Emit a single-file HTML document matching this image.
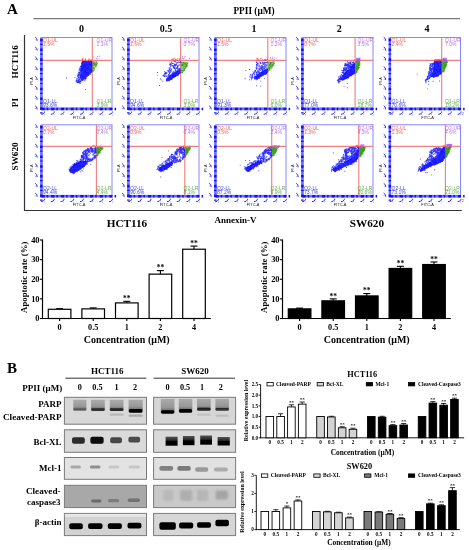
<!DOCTYPE html>
<html><head><meta charset="utf-8"><title>Figure</title>
<style>html,body{margin:0;padding:0;background:#fff;}body{width:469px;height:550px;overflow:hidden;}svg{display:block;}</style>
</head><body>
<svg width="469" height="550" viewBox="0 0 469 550">
<rect x="0" y="0" width="469" height="550" fill="#fff"/>
<text x="7" y="14" font-size="15" text-anchor="start" font-weight="bold" font-family="'Liberation Serif','Times New Roman',serif" fill="#000" >A</text>
<line x1="33.5" y1="18.7" x2="460" y2="18.7" stroke="#7a7a7a" stroke-width="1.3" />
<text x="254" y="13.6" font-size="9.3" text-anchor="middle" font-weight="bold" font-family="'Liberation Serif','Times New Roman',serif" fill="#000" >PPII (μM)</text>
<text x="81.6" y="31.6" font-size="10" text-anchor="middle" font-weight="bold" font-family="'Liberation Serif','Times New Roman',serif" fill="#000" >0</text>
<text x="166" y="31.6" font-size="10" text-anchor="middle" font-weight="bold" font-family="'Liberation Serif','Times New Roman',serif" fill="#000" >0.5</text>
<text x="254" y="31.6" font-size="10" text-anchor="middle" font-weight="bold" font-family="'Liberation Serif','Times New Roman',serif" fill="#000" >1</text>
<text x="339.3" y="31.6" font-size="10" text-anchor="middle" font-weight="bold" font-family="'Liberation Serif','Times New Roman',serif" fill="#000" >2</text>
<text x="427" y="31.6" font-size="10" text-anchor="middle" font-weight="bold" font-family="'Liberation Serif','Times New Roman',serif" fill="#000" >4</text>
<line x1="24.5" y1="35" x2="24.5" y2="210.5" stroke="#333" stroke-width="1.2" />
<line x1="24" y1="210.5" x2="461.8" y2="210.5" stroke="#333" stroke-width="1.2" />
<text transform="translate(17.9,61.8) rotate(-90)" x="0" y="0" font-size="9.2" text-anchor="middle" font-weight="bold" font-family="'Liberation Serif','Times New Roman',serif" fill="#000">HCT116</text>
<text transform="translate(17.9,102.6) rotate(-90)" x="0" y="0" font-size="9.2" text-anchor="middle" font-weight="bold" font-family="'Liberation Serif','Times New Roman',serif" fill="#000">PI</text>
<text transform="translate(17.9,156.4) rotate(-90)" x="0" y="0" font-size="9.2" text-anchor="middle" font-weight="bold" font-family="'Liberation Serif','Times New Roman',serif" fill="#000">SW620</text>
<text x="235.4" y="222.9" font-size="9" text-anchor="middle" font-weight="bold" font-family="'Liberation Serif','Times New Roman',serif" fill="#000" >Annexin-V</text>
<defs><filter id="fb" x="-20%" y="-20%" width="140%" height="140%"><feGaussianBlur stdDeviation="0.45"/></filter><filter id="fb2" x="-20%" y="-20%" width="140%" height="140%"><feGaussianBlur stdDeviation="0.9"/></filter></defs>
<g transform="translate(42,37.5)">
<rect x="0.00" y="0.00" width="70.00" height="70.50" fill="none" stroke="#7a7aff" stroke-width="0.9" />
<line x1="50.3" y1="0" x2="50.3" y2="70.5" stroke="#f28080" stroke-width="1.15" />
<line x1="0" y1="22.9" x2="70" y2="22.9" stroke="#f28080" stroke-width="1.15" />
<polygon points="39.8,23.4 50.3,23.4 50.3,34.5 47.2,37.5 43.0,41.5 40.0,43.2 38.3,41.5 38.4,35.0 38.8,29.0" fill="#0a0aff" opacity="0.88" filter="url(#fb)"/>
<path d="M37.7 29.3h0.85v0.85h-0.85zM36.9 34.4h0.85v0.85h-0.85zM36.2 42.6h0.85v0.85h-0.85zM37.5 44.7h0.85v0.85h-0.85zM37.2 35.0h0.85v0.85h-0.85zM35.4 42.4h0.85v0.85h-0.85zM37.6 34.6h0.85v0.85h-0.85zM37.9 35.5h0.85v0.85h-0.85zM35.5 38.3h0.85v0.85h-0.85zM35.0 38.1h0.85v0.85h-0.85zM36.9 43.4h0.85v0.85h-0.85zM38.2 33.1h0.85v0.85h-0.85zM36.2 41.3h0.85v0.85h-0.85zM38.0 38.5h0.85v0.85h-0.85zM37.2 36.0h0.85v0.85h-0.85zM36.5 39.7h0.85v0.85h-0.85zM35.9 39.8h0.85v0.85h-0.85zM36.0 43.3h0.85v0.85h-0.85zM37.0 43.5h0.85v0.85h-0.85zM38.8 43.2h0.85v0.85h-0.85zM35.8 43.6h0.85v0.85h-0.85zM37.3 32.6h0.85v0.85h-0.85zM35.8 38.0h0.85v0.85h-0.85zM36.8 38.9h0.85v0.85h-0.85zM37.9 29.0h0.85v0.85h-0.85zM36.0 35.0h0.85v0.85h-0.85zM33.6 43.4h0.85v0.85h-0.85zM37.5 30.6h0.85v0.85h-0.85zM36.5 36.5h0.85v0.85h-0.85zM36.9 45.2h0.85v0.85h-0.85zM34.5 41.6h0.85v0.85h-0.85zM36.9 41.7h0.85v0.85h-0.85zM35.1 40.2h0.85v0.85h-0.85zM37.5 43.8h0.85v0.85h-0.85zM37.7 42.1h0.85v0.85h-0.85zM38.4 36.4h0.85v0.85h-0.85zM34.6 41.9h0.85v0.85h-0.85zM35.6 42.1h0.85v0.85h-0.85zM36.0 44.7h0.85v0.85h-0.85zM38.2 31.0h0.85v0.85h-0.85zM34.4 42.5h0.85v0.85h-0.85zM35.7 37.7h0.85v0.85h-0.85zM36.9 44.4h0.85v0.85h-0.85zM36.3 43.3h0.85v0.85h-0.85zM35.0 38.3h0.85v0.85h-0.85zM34.3 44.0h0.85v0.85h-0.85zM35.7 36.1h0.85v0.85h-0.85zM37.3 43.9h0.85v0.85h-0.85zM36.2 44.2h0.85v0.85h-0.85zM36.7 37.4h0.85v0.85h-0.85zM38.2 37.8h0.85v0.85h-0.85zM35.6 37.1h0.85v0.85h-0.85zM37.1 41.8h0.85v0.85h-0.85zM37.1 41.4h0.85v0.85h-0.85zM37.4 36.9h0.85v0.85h-0.85zM36.8 40.2h0.85v0.85h-0.85zM36.4 37.4h0.85v0.85h-0.85zM36.6 44.6h0.85v0.85h-0.85zM38.0 43.4h0.85v0.85h-0.85zM37.1 44.6h0.85v0.85h-0.85zM38.6 43.8h0.85v0.85h-0.85zM34.4 40.6h0.85v0.85h-0.85zM37.8 30.5h0.85v0.85h-0.85zM34.8 44.8h0.85v0.85h-0.85zM36.0 36.6h0.85v0.85h-0.85zM36.8 34.0h0.85v0.85h-0.85zM38.2 28.3h0.85v0.85h-0.85zM37.1 35.8h0.85v0.85h-0.85zM37.5 37.0h0.85v0.85h-0.85zM36.2 44.0h0.85v0.85h-0.85zM34.4 44.2h0.85v0.85h-0.85zM37.2 40.3h0.85v0.85h-0.85zM37.9 35.5h0.85v0.85h-0.85zM37.6 42.1h0.85v0.85h-0.85zM34.0 43.1h0.85v0.85h-0.85zM33.8 43.2h0.85v0.85h-0.85zM36.4 34.0h0.85v0.85h-0.85zM37.1 44.3h0.85v0.85h-0.85zM36.9 32.2h0.85v0.85h-0.85zM38.4 33.1h0.85v0.85h-0.85zM38.2 37.7h0.85v0.85h-0.85zM36.7 42.7h0.85v0.85h-0.85zM36.0 36.9h0.85v0.85h-0.85zM37.9 45.3h0.85v0.85h-0.85zM35.7 42.6h0.85v0.85h-0.85zM38.1 39.2h0.85v0.85h-0.85zM34.0 42.8h0.85v0.85h-0.85zM35.1 44.9h0.85v0.85h-0.85zM35.0 45.0h0.85v0.85h-0.85zM36.5 36.8h0.85v0.85h-0.85zM37.3 37.3h0.85v0.85h-0.85zM38.1 43.5h0.85v0.85h-0.85zM38.2 39.3h0.85v0.85h-0.85zM33.7 42.7h0.85v0.85h-0.85zM38.2 42.3h0.85v0.85h-0.85zM36.7 42.7h0.85v0.85h-0.85zM38.7 42.5h0.85v0.85h-0.85zM37.3 43.7h0.85v0.85h-0.85zM37.9 40.2h0.85v0.85h-0.85zM34.1 42.7h0.85v0.85h-0.85zM37.1 39.0h0.85v0.85h-0.85zM37.5 40.0h0.85v0.85h-0.85zM36.7 37.4h0.85v0.85h-0.85zM37.8 29.2h0.85v0.85h-0.85zM38.3 32.4h0.85v0.85h-0.85zM38.2 31.6h0.85v0.85h-0.85zM36.7 34.7h0.85v0.85h-0.85zM36.6 40.0h0.85v0.85h-0.85zM37.6 29.4h0.85v0.85h-0.85zM38.3 33.4h0.85v0.85h-0.85zM37.8 40.2h0.85v0.85h-0.85zM37.9 33.1h0.85v0.85h-0.85zM36.8 36.2h0.85v0.85h-0.85zM34.8 44.6h0.85v0.85h-0.85zM34.8 38.2h0.85v0.85h-0.85zM34.9 43.8h0.85v0.85h-0.85zM35.5 42.8h0.85v0.85h-0.85zM35.8 35.5h0.85v0.85h-0.85zM34.1 42.7h0.85v0.85h-0.85zM35.3 44.5h0.85v0.85h-0.85zM40.7 28.1h0.85v0.85h-0.85zM44.5 26.4h0.85v0.85h-0.85zM47.6 32.2h0.85v0.85h-0.85zM47.9 36.5h0.85v0.85h-0.85zM43.9 29.8h0.85v0.85h-0.85zM41.4 38.6h0.85v0.85h-0.85zM46.5 28.9h0.85v0.85h-0.85zM45.1 31.0h0.85v0.85h-0.85zM39.5 25.8h0.85v0.85h-0.85zM40.1 42.3h0.85v0.85h-0.85zM44.3 27.1h0.85v0.85h-0.85zM43.6 25.3h0.85v0.85h-0.85zM39.9 24.2h0.85v0.85h-0.85zM42.0 24.2h0.85v0.85h-0.85zM40.5 27.9h0.85v0.85h-0.85zM47.9 31.4h0.85v0.85h-0.85zM43.1 33.8h0.85v0.85h-0.85zM42.5 29.7h0.85v0.85h-0.85zM44.3 36.2h0.85v0.85h-0.85zM49.5 27.0h0.85v0.85h-0.85zM41.0 27.7h0.85v0.85h-0.85zM42.9 32.1h0.85v0.85h-0.85zM50.0 32.7h0.85v0.85h-0.85zM44.6 37.3h0.85v0.85h-0.85zM43.7 34.4h0.85v0.85h-0.85zM40.4 42.6h0.85v0.85h-0.85zM46.4 28.9h0.85v0.85h-0.85zM46.3 37.7h0.85v0.85h-0.85zM44.7 35.1h0.85v0.85h-0.85zM42.7 27.2h0.85v0.85h-0.85zM41.4 32.4h0.85v0.85h-0.85zM49.8 32.8h0.85v0.85h-0.85zM40.5 27.7h0.85v0.85h-0.85zM44.3 37.2h0.85v0.85h-0.85zM43.1 27.9h0.85v0.85h-0.85zM42.0 31.5h0.85v0.85h-0.85zM46.9 26.6h0.85v0.85h-0.85zM44.4 26.8h0.85v0.85h-0.85zM48.9 27.3h0.85v0.85h-0.85zM40.3 39.1h0.85v0.85h-0.85zM44.2 26.4h0.85v0.85h-0.85zM40.3 31.5h0.85v0.85h-0.85zM39.2 30.9h0.85v0.85h-0.85zM46.7 30.6h0.85v0.85h-0.85zM42.5 29.6h0.85v0.85h-0.85zM41.1 30.0h0.85v0.85h-0.85zM42.2 40.4h0.85v0.85h-0.85zM48.9 31.8h0.85v0.85h-0.85zM39.9 30.3h0.85v0.85h-0.85zM43.0 40.2h0.85v0.85h-0.85zM42.0 28.2h0.85v0.85h-0.85zM40.9 38.1h0.85v0.85h-0.85zM41.7 28.3h0.85v0.85h-0.85zM40.5 32.7h0.85v0.85h-0.85zM42.7 27.8h0.85v0.85h-0.85zM43.3 33.2h0.85v0.85h-0.85zM45.8 29.5h0.85v0.85h-0.85zM41.7 30.2h0.85v0.85h-0.85zM48.4 24.0h0.85v0.85h-0.85zM39.9 38.9h0.85v0.85h-0.85zM40.7 23.6h0.85v0.85h-0.85zM40.9 24.1h0.85v0.85h-0.85zM47.3 32.1h0.85v0.85h-0.85zM40.5 31.5h0.85v0.85h-0.85zM46.0 37.2h0.85v0.85h-0.85zM46.7 24.9h0.85v0.85h-0.85zM49.2 28.7h0.85v0.85h-0.85zM45.3 30.5h0.85v0.85h-0.85zM47.7 26.6h0.85v0.85h-0.85zM40.7 27.6h0.85v0.85h-0.85zM39.3 41.8h0.85v0.85h-0.85zM45.4 29.4h0.85v0.85h-0.85zM44.4 27.3h0.85v0.85h-0.85zM43.9 40.4h0.85v0.85h-0.85zM49.6 32.2h0.85v0.85h-0.85zM40.8 39.5h0.85v0.85h-0.85zM45.7 36.0h0.85v0.85h-0.85zM40.2 30.4h0.85v0.85h-0.85zM40.8 35.5h0.85v0.85h-0.85zM46.5 26.7h0.85v0.85h-0.85zM46.9 26.3h0.85v0.85h-0.85zM41.6 26.7h0.85v0.85h-0.85zM48.6 34.4h0.85v0.85h-0.85zM42.8 34.4h0.85v0.85h-0.85zM46.3 24.2h0.85v0.85h-0.85zM39.5 37.6h0.85v0.85h-0.85zM43.0 28.5h0.85v0.85h-0.85zM41.6 34.8h0.85v0.85h-0.85zM42.2 31.4h0.85v0.85h-0.85zM42.3 26.6h0.85v0.85h-0.85zM47.6 26.7h0.85v0.85h-0.85zM43.2 40.4h0.85v0.85h-0.85zM43.7 25.8h0.85v0.85h-0.85zM42.4 33.4h0.85v0.85h-0.85zM39.2 28.5h0.85v0.85h-0.85zM38.7 33.1h0.85v0.85h-0.85zM39.9 25.0h0.85v0.85h-0.85zM49.0 25.8h0.85v0.85h-0.85zM48.4 27.1h0.85v0.85h-0.85zM42.9 41.0h0.85v0.85h-0.85zM49.0 26.3h0.85v0.85h-0.85zM40.2 31.1h0.85v0.85h-0.85zM44.6 30.7h0.85v0.85h-0.85zM49.2 24.8h0.85v0.85h-0.85zM45.7 34.4h0.85v0.85h-0.85zM46.1 29.0h0.85v0.85h-0.85zM43.1 35.1h0.85v0.85h-0.85zM43.2 36.8h0.85v0.85h-0.85zM43.5 31.9h0.85v0.85h-0.85zM44.1 27.4h0.85v0.85h-0.85zM43.7 26.2h0.85v0.85h-0.85zM43.9 24.6h0.85v0.85h-0.85zM41.9 42.9h0.85v0.85h-0.85zM42.8 42.1h0.85v0.85h-0.85zM36.3 39.4h0.85v0.85h-0.85zM36.4 38.1h0.85v0.85h-0.85zM36.9 31.7h0.85v0.85h-0.85zM36.0 39.4h0.85v0.85h-0.85zM32.5 39.4h0.85v0.85h-0.85zM40.7 38.8h0.85v0.85h-0.85zM49.3 27.8h0.85v0.85h-0.85zM36.7 31.3h0.85v0.85h-0.85zM43.2 51.4h0.85v0.85h-0.85zM24.1 40.1h0.85v0.85h-0.85zM40.7 38.1h0.85v0.85h-0.85zM40.9 29.4h0.85v0.85h-0.85zM42.5 41.2h0.85v0.85h-0.85zM38.0 36.9h0.85v0.85h-0.85z" fill="#0a0aff" opacity="0.85"/>
<polygon points="50.5,23.6 55.5,23.9 54.9,27.1 52.3,32.2 50.5,34.8" fill="#4aa02a" opacity="0.55"/>
<path d="M54.6 25.2h0.8v0.8h-0.8zM51.5 26.5h0.8v0.8h-0.8zM53.0 27.2h0.8v0.8h-0.8zM50.7 25.6h0.8v0.8h-0.8zM51.3 32.4h0.8v0.8h-0.8zM51.1 29.5h0.8v0.8h-0.8zM53.7 27.6h0.8v0.8h-0.8zM53.6 28.0h0.8v0.8h-0.8zM54.5 26.6h0.8v0.8h-0.8zM52.3 32.2h0.8v0.8h-0.8zM52.7 25.6h0.8v0.8h-0.8zM54.2 24.1h0.8v0.8h-0.8zM54.6 26.4h0.8v0.8h-0.8zM50.7 25.3h0.8v0.8h-0.8zM53.6 28.4h0.8v0.8h-0.8zM51.2 26.1h0.8v0.8h-0.8zM53.8 23.8h0.8v0.8h-0.8zM50.5 27.6h0.8v0.8h-0.8zM51.0 27.6h0.8v0.8h-0.8zM51.6 30.1h0.8v0.8h-0.8zM53.4 25.9h0.8v0.8h-0.8zM53.6 28.9h0.8v0.8h-0.8zM51.7 25.3h0.8v0.8h-0.8zM51.0 30.7h0.8v0.8h-0.8zM52.5 26.6h0.8v0.8h-0.8zM50.6 30.8h0.8v0.8h-0.8zM53.3 27.5h0.8v0.8h-0.8zM53.7 28.6h0.8v0.8h-0.8zM50.7 29.6h0.8v0.8h-0.8zM52.5 26.3h0.8v0.8h-0.8zM50.8 32.3h0.8v0.8h-0.8zM50.6 29.8h0.8v0.8h-0.8zM55.2 25.2h0.8v0.8h-0.8zM51.5 30.4h0.8v0.8h-0.8zM54.6 25.6h0.8v0.8h-0.8zM52.0 27.0h0.8v0.8h-0.8zM50.7 33.6h0.8v0.8h-0.8zM50.5 33.1h0.8v0.8h-0.8zM51.6 24.8h0.8v0.8h-0.8zM51.7 24.0h0.8v0.8h-0.8zM52.2 32.0h0.8v0.8h-0.8zM54.1 26.6h0.8v0.8h-0.8zM53.3 28.5h0.8v0.8h-0.8zM51.8 30.8h0.8v0.8h-0.8zM51.8 26.2h0.8v0.8h-0.8zM54.2 27.3h0.8v0.8h-0.8zM53.4 27.0h0.8v0.8h-0.8zM51.6 30.6h0.8v0.8h-0.8zM50.9 33.8h0.8v0.8h-0.8zM51.2 23.9h0.8v0.8h-0.8z" fill="#2c9a10" opacity="0.9"/>
<path d="M40.6 22.8h0.8v0.8h-0.8zM43.1 20.9h0.8v0.8h-0.8zM39.8 20.7h0.8v0.8h-0.8zM46.6 22.1h0.8v0.8h-0.8zM46.7 22.4h0.8v0.8h-0.8zM40.2 22.0h0.8v0.8h-0.8zM43.2 22.6h0.8v0.8h-0.8zM47.9 22.7h0.8v0.8h-0.8zM40.2 22.7h0.8v0.8h-0.8zM48.9 22.9h0.8v0.8h-0.8zM40.6 21.1h0.8v0.8h-0.8zM40.7 20.7h0.8v0.8h-0.8zM48.2 22.5h0.8v0.8h-0.8zM46.0 22.6h0.8v0.8h-0.8zM46.0 21.3h0.8v0.8h-0.8zM40.5 20.8h0.8v0.8h-0.8zM47.3 21.1h0.8v0.8h-0.8zM42.8 21.6h0.8v0.8h-0.8zM39.7 21.2h0.8v0.8h-0.8zM42.4 22.3h0.8v0.8h-0.8zM43.3 21.4h0.8v0.8h-0.8zM49.4 21.8h0.8v0.8h-0.8zM48.3 22.1h0.8v0.8h-0.8zM39.8 21.6h0.8v0.8h-0.8z" fill="#ff2a2a" opacity="0.75"/>
<path d="M54.3 20.5h0.8v0.8h-0.8zM53.8 20.3h0.8v0.8h-0.8zM55.0 18.6h0.8v0.8h-0.8zM57.1 18.1h0.8v0.8h-0.8zM56.8 18.4h0.8v0.8h-0.8zM51.5 18.5h0.8v0.8h-0.8zM56.5 21.2h0.8v0.8h-0.8zM51.5 19.5h0.8v0.8h-0.8zM54.7 20.6h0.8v0.8h-0.8z" fill="#a040f0" opacity="0.75"/>
<rect x="-1.90" y="0.00" width="2.50" height="72.00" fill="#6c6cff" stroke="none" stroke-width="0" />
<rect x="-1.20" y="70.20" width="71.20" height="2.50" fill="#6c6cff" stroke="none" stroke-width="0" />
<path d="M-1.9 1.2h2.5v2.6h-2.5zM-1.9 6.2h2.5v1.2h-2.5zM-1.9 11.0h2.5v2.6h-2.5zM-1.9 16.0h2.5v1.2h-2.5zM-1.9 20.8h2.5v2.6h-2.5zM-1.9 25.8h2.5v1.2h-2.5zM-1.9 30.6h2.5v2.6h-2.5zM-1.9 35.6h2.5v1.2h-2.5zM-1.9 40.4h2.5v2.6h-2.5zM-1.9 45.4h2.5v1.2h-2.5zM-1.9 50.2h2.5v2.6h-2.5zM-1.9 55.2h2.5v1.2h-2.5zM-1.9 60.0h2.5v2.6h-2.5zM-1.9 65.0h2.5v1.2h-2.5zM-1.9 69.8h2.5v2.6h-2.5zM-1.9 74.8h2.5v1.2h-2.5zM-0.5 70.2h3.2v2.5h-3.2zM4.7 70.2h1.5v2.5h-1.5zM9.2 70.2h3.2v2.5h-3.2zM14.4 70.2h1.5v2.5h-1.5zM18.9 70.2h3.2v2.5h-3.2zM24.1 70.2h1.5v2.5h-1.5zM28.6 70.2h3.2v2.5h-3.2zM33.8 70.2h1.5v2.5h-1.5zM38.3 70.2h3.2v2.5h-3.2zM43.5 70.2h1.5v2.5h-1.5zM48.0 70.2h3.2v2.5h-3.2zM53.2 70.2h1.5v2.5h-1.5zM57.7 70.2h3.2v2.5h-3.2zM62.9 70.2h1.5v2.5h-1.5zM67.4 70.2h3.2v2.5h-3.2zM72.6 70.2h1.5v2.5h-1.5z" fill="#1010ff"/>
<path d="M-6.8 -0.3l1.5 1.3l0.5 2.3M-6.6 2.3l0.3 0.4 M-6.8 9.5l1.5 1.3l0.5 2.3M-6.6 12.1l0.3 0.4 M-6.8 19.3l1.5 1.3l0.5 2.3M-6.6 21.9l0.3 0.4 M-6.8 29.1l1.5 1.3l0.5 2.3M-6.6 31.7l0.3 0.4 M-6.8 38.9l1.5 1.3l0.5 2.3M-6.6 41.5l0.3 0.4 M-6.8 48.7l1.5 1.3l0.5 2.3M-6.6 51.3l0.3 0.4 M-6.8 58.5l1.5 1.3l0.5 2.3M-6.6 61.1l0.3 0.4 M-6.8 68.3l1.5 1.3l0.5 2.3M-6.6 70.9l0.3 0.4 M-0.8 76.8l1.8-0.3l1.4-1.4l0.2-1.1M2.1 77.1l0.4 0.2 M8.9 76.8l1.8-0.3l1.4-1.4l0.2-1.1M11.8 77.1l0.4 0.2 M18.6 76.8l1.8-0.3l1.4-1.4l0.2-1.1M21.5 77.1l0.4 0.2 M28.3 76.8l1.8-0.3l1.4-1.4l0.2-1.1M31.2 77.1l0.4 0.2 M38.0 76.8l1.8-0.3l1.4-1.4l0.2-1.1M40.9 77.1l0.4 0.2 M47.7 76.8l1.8-0.3l1.4-1.4l0.2-1.1M50.6 77.1l0.4 0.2 M57.4 76.8l1.8-0.3l1.4-1.4l0.2-1.1M60.3 77.1l0.4 0.2 M67.1 76.8l1.8-0.3l1.4-1.4l0.2-1.1M70.0 77.1l0.4 0.2" fill="none" stroke="#2a2af0" stroke-width="1.0"/>
<text transform="translate(-8.6,43.4) rotate(-90)" font-size="3.9" font-family="'Liberation Sans',Arial,sans-serif" fill="#222" text-anchor="middle">PI-A</text>
<text x="37.1" y="81.1" font-size="3.9" font-family="'Liberation Sans',Arial,sans-serif" fill="#222" text-anchor="middle">FITC-A</text>
<text transform="translate(1.0,4.7) scale(1.12,1)" font-size="4.5" font-family="'Liberation Sans',Arial,sans-serif" fill="#f04848" opacity="0.85">Q1-UL</text>
<text transform="translate(1.0,8.8) scale(1.12,1)" font-size="4.5" font-family="'Liberation Sans',Arial,sans-serif" fill="#f04848" opacity="0.85">1.5%</text>
<text transform="translate(54.6,4.7) scale(1.12,1)" font-size="4.5" font-family="'Liberation Sans',Arial,sans-serif" fill="#b060e0" opacity="0.85">Q1-UR</text>
<text transform="translate(54.6,8.8) scale(1.12,1)" font-size="4.5" font-family="'Liberation Sans',Arial,sans-serif" fill="#b060e0" opacity="0.85">1.1%</text>
<text transform="translate(1.0,65.6) scale(1.12,1)" font-size="4.5" font-family="'Liberation Sans',Arial,sans-serif" fill="#2020d0" opacity="0.85">Q1-LL</text>
<text transform="translate(1.0,69.6) scale(1.12,1)" font-size="4.5" font-family="'Liberation Sans',Arial,sans-serif" fill="#2020d0" opacity="0.85">93.6%</text>
<text transform="translate(54.6,65.6) scale(1.12,1)" font-size="4.5" font-family="'Liberation Sans',Arial,sans-serif" fill="#48a030" opacity="0.85">Q1-LR</text>
<text transform="translate(54.6,69.6) scale(1.12,1)" font-size="4.5" font-family="'Liberation Sans',Arial,sans-serif" fill="#48a030" opacity="0.85">3.9%</text>
</g>
<g transform="translate(129,37.5)">
<rect x="0.00" y="0.00" width="70.00" height="70.50" fill="none" stroke="#7a7aff" stroke-width="0.9" />
<line x1="51.6" y1="0" x2="51.6" y2="70.5" stroke="#f28080" stroke-width="1.15" />
<line x1="0" y1="22.9" x2="70" y2="22.9" stroke="#f28080" stroke-width="1.15" />
<polygon points="36.8,42.1 39.4,38.4 45.4,35.0 50.6,32.1 51.6,32.2 51.6,35.8 48.3,38.4 43.1,41.4 39.4,43.6 37.2,44.0" fill="#0a0aff" opacity="0.88" filter="url(#fb)"/>
<path d="M39.3 36.5h0.85v0.85h-0.85zM37.6 38.2h0.85v0.85h-0.85zM45.9 31.3h0.85v0.85h-0.85zM44.6 29.0h0.85v0.85h-0.85zM40.3 29.7h0.85v0.85h-0.85zM49.5 24.8h0.85v0.85h-0.85zM49.5 23.9h0.85v0.85h-0.85zM49.7 31.3h0.85v0.85h-0.85zM39.9 37.3h0.85v0.85h-0.85zM42.7 35.3h0.85v0.85h-0.85zM46.9 33.6h0.85v0.85h-0.85zM35.6 36.7h0.85v0.85h-0.85zM45.2 35.1h0.85v0.85h-0.85zM47.3 32.5h0.85v0.85h-0.85zM49.4 27.2h0.85v0.85h-0.85zM42.6 26.0h0.85v0.85h-0.85zM34.6 38.5h0.85v0.85h-0.85zM46.6 30.3h0.85v0.85h-0.85zM40.2 35.8h0.85v0.85h-0.85zM45.8 31.3h0.85v0.85h-0.85zM44.7 30.7h0.85v0.85h-0.85zM40.3 35.1h0.85v0.85h-0.85zM49.9 30.2h0.85v0.85h-0.85zM43.5 35.2h0.85v0.85h-0.85zM40.7 27.1h0.85v0.85h-0.85zM44.8 30.6h0.85v0.85h-0.85zM38.6 33.3h0.85v0.85h-0.85zM44.6 27.4h0.85v0.85h-0.85zM40.7 30.6h0.85v0.85h-0.85zM44.4 29.9h0.85v0.85h-0.85zM47.4 29.6h0.85v0.85h-0.85zM35.7 35.7h0.85v0.85h-0.85zM50.5 31.6h0.85v0.85h-0.85zM42.9 34.7h0.85v0.85h-0.85zM42.4 33.5h0.85v0.85h-0.85zM48.4 31.6h0.85v0.85h-0.85zM36.7 34.2h0.85v0.85h-0.85zM40.1 35.4h0.85v0.85h-0.85zM40.6 34.4h0.85v0.85h-0.85zM36.9 35.1h0.85v0.85h-0.85zM50.5 31.7h0.85v0.85h-0.85zM36.8 36.0h0.85v0.85h-0.85zM40.1 26.8h0.85v0.85h-0.85zM35.1 35.6h0.85v0.85h-0.85zM48.0 33.4h0.85v0.85h-0.85zM41.6 32.3h0.85v0.85h-0.85zM37.0 38.5h0.85v0.85h-0.85zM39.4 33.5h0.85v0.85h-0.85zM41.5 28.1h0.85v0.85h-0.85zM43.1 25.5h0.85v0.85h-0.85zM48.5 29.0h0.85v0.85h-0.85zM48.8 27.7h0.85v0.85h-0.85zM40.8 26.4h0.85v0.85h-0.85zM40.8 33.4h0.85v0.85h-0.85zM45.2 29.2h0.85v0.85h-0.85zM35.4 36.5h0.85v0.85h-0.85zM44.7 23.7h0.85v0.85h-0.85zM45.1 27.4h0.85v0.85h-0.85zM37.1 35.6h0.85v0.85h-0.85zM35.9 37.4h0.85v0.85h-0.85zM36.4 34.3h0.85v0.85h-0.85zM42.7 35.1h0.85v0.85h-0.85zM41.0 37.3h0.85v0.85h-0.85zM43.2 27.6h0.85v0.85h-0.85zM42.0 24.4h0.85v0.85h-0.85zM41.5 25.8h0.85v0.85h-0.85zM42.0 31.3h0.85v0.85h-0.85zM41.5 32.3h0.85v0.85h-0.85zM39.8 30.0h0.85v0.85h-0.85zM50.9 24.7h0.85v0.85h-0.85zM44.7 33.4h0.85v0.85h-0.85zM42.4 31.1h0.85v0.85h-0.85zM49.7 24.0h0.85v0.85h-0.85zM46.3 33.3h0.85v0.85h-0.85zM39.1 36.9h0.85v0.85h-0.85zM39.6 30.9h0.85v0.85h-0.85zM42.6 35.5h0.85v0.85h-0.85zM40.7 32.1h0.85v0.85h-0.85zM48.3 28.1h0.85v0.85h-0.85zM48.3 29.8h0.85v0.85h-0.85zM42.2 27.7h0.85v0.85h-0.85zM38.4 32.6h0.85v0.85h-0.85zM49.4 32.0h0.85v0.85h-0.85zM44.4 33.3h0.85v0.85h-0.85zM45.9 32.8h0.85v0.85h-0.85zM45.6 26.8h0.85v0.85h-0.85zM45.3 30.6h0.85v0.85h-0.85zM47.1 25.1h0.85v0.85h-0.85zM45.1 29.3h0.85v0.85h-0.85zM43.3 27.5h0.85v0.85h-0.85zM48.0 32.5h0.85v0.85h-0.85zM50.1 30.5h0.85v0.85h-0.85zM51.2 30.9h0.85v0.85h-0.85zM40.5 25.1h0.85v0.85h-0.85zM44.9 26.8h0.85v0.85h-0.85zM35.0 38.6h0.85v0.85h-0.85zM34.4 37.1h0.85v0.85h-0.85zM46.3 27.3h0.85v0.85h-0.85zM46.6 26.4h0.85v0.85h-0.85zM46.5 24.8h0.85v0.85h-0.85zM44.6 34.6h0.85v0.85h-0.85zM37.5 38.5h0.85v0.85h-0.85zM46.3 23.7h0.85v0.85h-0.85zM48.1 24.7h0.85v0.85h-0.85zM38.6 34.9h0.85v0.85h-0.85zM35.8 36.9h0.85v0.85h-0.85zM41.9 24.4h0.85v0.85h-0.85zM39.6 32.5h0.85v0.85h-0.85zM41.0 34.1h0.85v0.85h-0.85zM35.4 35.9h0.85v0.85h-0.85zM39.6 33.6h0.85v0.85h-0.85zM44.6 30.0h0.85v0.85h-0.85zM40.0 35.8h0.85v0.85h-0.85zM43.4 28.1h0.85v0.85h-0.85zM39.0 33.0h0.85v0.85h-0.85zM44.1 28.3h0.85v0.85h-0.85zM40.8 37.4h0.85v0.85h-0.85zM39.8 34.2h0.85v0.85h-0.85zM48.0 27.9h0.85v0.85h-0.85zM40.7 32.7h0.85v0.85h-0.85zM43.5 27.8h0.85v0.85h-0.85zM43.2 35.9h0.85v0.85h-0.85zM36.5 35.2h0.85v0.85h-0.85zM50.3 27.2h0.85v0.85h-0.85zM44.2 34.1h0.85v0.85h-0.85zM41.5 26.7h0.85v0.85h-0.85zM37.5 35.2h0.85v0.85h-0.85zM47.7 30.7h0.85v0.85h-0.85zM47.3 27.1h0.85v0.85h-0.85zM49.4 31.6h0.85v0.85h-0.85zM41.7 32.7h0.85v0.85h-0.85zM39.6 32.3h0.85v0.85h-0.85zM40.3 31.6h0.85v0.85h-0.85zM47.6 25.9h0.85v0.85h-0.85zM44.0 28.9h0.85v0.85h-0.85zM42.5 23.8h0.85v0.85h-0.85zM49.1 31.1h0.85v0.85h-0.85zM43.4 27.6h0.85v0.85h-0.85zM47.4 30.1h0.85v0.85h-0.85zM49.9 24.5h0.85v0.85h-0.85zM44.0 29.7h0.85v0.85h-0.85zM35.0 38.5h0.85v0.85h-0.85zM45.4 29.6h0.85v0.85h-0.85zM41.2 26.0h0.85v0.85h-0.85zM48.5 24.2h0.85v0.85h-0.85zM45.5 28.2h0.85v0.85h-0.85zM43.9 35.3h0.85v0.85h-0.85zM41.8 26.1h0.85v0.85h-0.85zM45.5 23.7h0.85v0.85h-0.85zM46.3 26.5h0.85v0.85h-0.85zM33.4 38.0h0.85v0.85h-0.85zM36.9 38.1h0.85v0.85h-0.85zM34.5 38.0h0.85v0.85h-0.85zM48.6 33.3h0.85v0.85h-0.85zM41.2 28.8h0.85v0.85h-0.85zM48.3 30.9h0.85v0.85h-0.85zM44.6 25.7h0.85v0.85h-0.85zM46.2 32.1h0.85v0.85h-0.85zM35.4 37.1h0.85v0.85h-0.85zM48.6 28.7h0.85v0.85h-0.85zM38.7 37.6h0.85v0.85h-0.85zM33.8 37.5h0.85v0.85h-0.85zM45.3 26.8h0.85v0.85h-0.85zM41.7 28.0h0.85v0.85h-0.85zM49.6 24.4h0.85v0.85h-0.85zM46.4 28.1h0.85v0.85h-0.85zM51.2 23.8h0.85v0.85h-0.85zM48.0 28.8h0.85v0.85h-0.85zM48.4 31.7h0.85v0.85h-0.85zM49.9 26.9h0.85v0.85h-0.85zM43.5 25.7h0.85v0.85h-0.85zM36.1 35.5h0.85v0.85h-0.85zM46.1 26.6h0.85v0.85h-0.85zM46.1 38.0h0.85v0.85h-0.85zM48.2 36.7h0.85v0.85h-0.85zM49.5 35.7h0.85v0.85h-0.85zM50.6 34.7h0.85v0.85h-0.85zM38.8 42.8h0.85v0.85h-0.85zM42.0 39.4h0.85v0.85h-0.85zM43.3 38.3h0.85v0.85h-0.85zM37.7 41.1h0.85v0.85h-0.85zM41.1 41.1h0.85v0.85h-0.85zM42.2 41.6h0.85v0.85h-0.85zM44.4 38.5h0.85v0.85h-0.85zM39.9 42.6h0.85v0.85h-0.85zM45.5 38.4h0.85v0.85h-0.85zM44.1 38.1h0.85v0.85h-0.85zM42.3 36.9h0.85v0.85h-0.85zM49.0 35.7h0.85v0.85h-0.85zM46.5 36.1h0.85v0.85h-0.85zM43.0 38.1h0.85v0.85h-0.85zM46.6 34.7h0.85v0.85h-0.85zM47.3 34.8h0.85v0.85h-0.85zM44.5 37.1h0.85v0.85h-0.85zM40.9 40.2h0.85v0.85h-0.85zM39.1 41.1h0.85v0.85h-0.85zM43.5 38.7h0.85v0.85h-0.85zM46.1 37.6h0.85v0.85h-0.85zM42.2 39.3h0.85v0.85h-0.85zM50.4 34.3h0.85v0.85h-0.85zM45.2 37.9h0.85v0.85h-0.85zM40.7 41.9h0.85v0.85h-0.85zM41.7 40.6h0.85v0.85h-0.85zM48.7 37.7h0.85v0.85h-0.85zM45.4 36.9h0.85v0.85h-0.85zM46.0 36.3h0.85v0.85h-0.85zM43.4 37.4h0.85v0.85h-0.85zM48.0 35.1h0.85v0.85h-0.85zM42.3 38.8h0.85v0.85h-0.85zM44.2 37.2h0.85v0.85h-0.85zM45.3 38.0h0.85v0.85h-0.85zM44.5 38.3h0.85v0.85h-0.85zM36.0 34.6h0.85v0.85h-0.85zM33.5 43.5h0.85v0.85h-0.85zM30.2 47.6h0.85v0.85h-0.85zM35.2 33.8h0.85v0.85h-0.85zM42.5 41.3h0.85v0.85h-0.85zM32.4 42.1h0.85v0.85h-0.85zM28.0 34.6h0.85v0.85h-0.85zM44.3 37.6h0.85v0.85h-0.85zM31.0 41.1h0.85v0.85h-0.85zM43.2 38.6h0.85v0.85h-0.85zM28.2 37.2h0.85v0.85h-0.85zM40.4 42.2h0.85v0.85h-0.85zM48.3 37.6h0.85v0.85h-0.85zM35.5 38.6h0.85v0.85h-0.85zM44.8 34.5h0.85v0.85h-0.85zM45.3 26.4h0.85v0.85h-0.85z" fill="#0a0aff" opacity="0.85"/>
<polygon points="51.8,24.2 59.5,24.2 58.1,28.7 52.8,35.4 51.8,36.2" fill="#4aa02a" opacity="0.55"/>
<path d="M53.0 27.7h0.8v0.8h-0.8zM55.7 30.3h0.8v0.8h-0.8zM53.2 26.4h0.8v0.8h-0.8zM56.7 24.7h0.8v0.8h-0.8zM54.2 32.5h0.8v0.8h-0.8zM51.8 27.9h0.8v0.8h-0.8zM56.9 26.6h0.8v0.8h-0.8zM55.6 30.8h0.8v0.8h-0.8zM53.8 32.0h0.8v0.8h-0.8zM56.2 29.1h0.8v0.8h-0.8zM52.7 26.1h0.8v0.8h-0.8zM57.6 25.5h0.8v0.8h-0.8zM52.6 26.2h0.8v0.8h-0.8zM52.3 24.3h0.8v0.8h-0.8zM57.7 28.1h0.8v0.8h-0.8zM57.3 28.4h0.8v0.8h-0.8zM53.1 27.4h0.8v0.8h-0.8zM52.6 35.0h0.8v0.8h-0.8zM56.3 28.4h0.8v0.8h-0.8zM55.3 28.8h0.8v0.8h-0.8zM52.2 34.9h0.8v0.8h-0.8zM55.2 31.6h0.8v0.8h-0.8zM53.7 24.7h0.8v0.8h-0.8zM58.1 27.8h0.8v0.8h-0.8zM53.7 28.9h0.8v0.8h-0.8zM57.3 26.9h0.8v0.8h-0.8zM53.7 26.3h0.8v0.8h-0.8zM54.6 26.4h0.8v0.8h-0.8zM56.1 25.6h0.8v0.8h-0.8zM55.9 28.8h0.8v0.8h-0.8zM54.9 25.0h0.8v0.8h-0.8zM52.7 34.1h0.8v0.8h-0.8zM54.5 27.1h0.8v0.8h-0.8zM53.3 27.6h0.8v0.8h-0.8zM53.6 24.6h0.8v0.8h-0.8zM56.9 28.3h0.8v0.8h-0.8zM53.0 32.7h0.8v0.8h-0.8zM52.5 27.4h0.8v0.8h-0.8zM58.2 25.7h0.8v0.8h-0.8zM58.0 26.1h0.8v0.8h-0.8zM54.5 32.9h0.8v0.8h-0.8zM55.7 26.9h0.8v0.8h-0.8zM55.3 25.8h0.8v0.8h-0.8zM57.2 27.3h0.8v0.8h-0.8zM54.6 27.2h0.8v0.8h-0.8zM56.5 26.8h0.8v0.8h-0.8zM58.5 25.7h0.8v0.8h-0.8zM55.8 30.7h0.8v0.8h-0.8zM53.9 33.5h0.8v0.8h-0.8zM54.8 32.1h0.8v0.8h-0.8zM56.2 27.9h0.8v0.8h-0.8zM54.8 25.2h0.8v0.8h-0.8zM53.2 34.4h0.8v0.8h-0.8zM54.3 32.2h0.8v0.8h-0.8zM52.6 30.9h0.8v0.8h-0.8zM54.6 30.2h0.8v0.8h-0.8zM54.1 25.0h0.8v0.8h-0.8zM54.2 26.9h0.8v0.8h-0.8zM52.8 32.8h0.8v0.8h-0.8zM54.0 29.0h0.8v0.8h-0.8zM52.8 27.5h0.8v0.8h-0.8zM52.0 32.4h0.8v0.8h-0.8zM56.9 28.4h0.8v0.8h-0.8zM55.0 32.1h0.8v0.8h-0.8zM57.2 27.2h0.8v0.8h-0.8zM56.6 26.4h0.8v0.8h-0.8zM52.7 35.2h0.8v0.8h-0.8zM52.1 24.7h0.8v0.8h-0.8zM53.0 26.6h0.8v0.8h-0.8zM54.1 28.8h0.8v0.8h-0.8zM52.1 27.9h0.8v0.8h-0.8zM56.7 26.4h0.8v0.8h-0.8zM57.3 27.3h0.8v0.8h-0.8zM55.1 32.4h0.8v0.8h-0.8zM54.5 24.2h0.8v0.8h-0.8zM54.0 24.7h0.8v0.8h-0.8zM52.2 27.1h0.8v0.8h-0.8zM52.7 33.7h0.8v0.8h-0.8zM57.6 25.2h0.8v0.8h-0.8zM57.1 28.9h0.8v0.8h-0.8zM54.0 25.3h0.8v0.8h-0.8zM56.6 29.6h0.8v0.8h-0.8zM52.2 32.6h0.8v0.8h-0.8zM55.1 30.3h0.8v0.8h-0.8z" fill="#2c9a10" opacity="0.9"/>
<path d="M50.0 20.8h0.8v0.8h-0.8zM48.5 20.6h0.8v0.8h-0.8zM47.9 22.5h0.8v0.8h-0.8zM44.0 21.9h0.8v0.8h-0.8zM50.3 22.1h0.8v0.8h-0.8zM46.5 21.1h0.8v0.8h-0.8zM42.1 21.4h0.8v0.8h-0.8zM45.3 21.0h0.8v0.8h-0.8zM44.4 20.8h0.8v0.8h-0.8zM48.0 22.2h0.8v0.8h-0.8zM43.7 21.1h0.8v0.8h-0.8zM46.2 21.6h0.8v0.8h-0.8zM50.0 21.4h0.8v0.8h-0.8zM44.3 22.7h0.8v0.8h-0.8zM42.9 21.9h0.8v0.8h-0.8zM44.6 22.5h0.8v0.8h-0.8zM46.5 22.4h0.8v0.8h-0.8zM43.1 22.2h0.8v0.8h-0.8zM47.0 21.7h0.8v0.8h-0.8zM48.5 22.6h0.8v0.8h-0.8zM42.6 21.2h0.8v0.8h-0.8zM44.8 21.0h0.8v0.8h-0.8z" fill="#ff2a2a" opacity="0.75"/>
<path d="M53.0 19.3h0.8v0.8h-0.8zM54.0 20.6h0.8v0.8h-0.8zM55.9 18.8h0.8v0.8h-0.8zM54.9 19.9h0.8v0.8h-0.8zM55.2 19.0h0.8v0.8h-0.8zM53.0 18.5h0.8v0.8h-0.8zM59.9 20.8h0.8v0.8h-0.8zM53.1 20.7h0.8v0.8h-0.8zM59.9 20.2h0.8v0.8h-0.8z" fill="#a040f0" opacity="0.75"/>
<rect x="-1.90" y="0.00" width="2.50" height="72.00" fill="#6c6cff" stroke="none" stroke-width="0" />
<rect x="-1.20" y="70.20" width="71.20" height="2.50" fill="#6c6cff" stroke="none" stroke-width="0" />
<path d="M-1.9 1.2h2.5v2.6h-2.5zM-1.9 6.2h2.5v1.2h-2.5zM-1.9 11.0h2.5v2.6h-2.5zM-1.9 16.0h2.5v1.2h-2.5zM-1.9 20.8h2.5v2.6h-2.5zM-1.9 25.8h2.5v1.2h-2.5zM-1.9 30.6h2.5v2.6h-2.5zM-1.9 35.6h2.5v1.2h-2.5zM-1.9 40.4h2.5v2.6h-2.5zM-1.9 45.4h2.5v1.2h-2.5zM-1.9 50.2h2.5v2.6h-2.5zM-1.9 55.2h2.5v1.2h-2.5zM-1.9 60.0h2.5v2.6h-2.5zM-1.9 65.0h2.5v1.2h-2.5zM-1.9 69.8h2.5v2.6h-2.5zM-1.9 74.8h2.5v1.2h-2.5zM-0.5 70.2h3.2v2.5h-3.2zM4.7 70.2h1.5v2.5h-1.5zM9.2 70.2h3.2v2.5h-3.2zM14.4 70.2h1.5v2.5h-1.5zM18.9 70.2h3.2v2.5h-3.2zM24.1 70.2h1.5v2.5h-1.5zM28.6 70.2h3.2v2.5h-3.2zM33.8 70.2h1.5v2.5h-1.5zM38.3 70.2h3.2v2.5h-3.2zM43.5 70.2h1.5v2.5h-1.5zM48.0 70.2h3.2v2.5h-3.2zM53.2 70.2h1.5v2.5h-1.5zM57.7 70.2h3.2v2.5h-3.2zM62.9 70.2h1.5v2.5h-1.5zM67.4 70.2h3.2v2.5h-3.2zM72.6 70.2h1.5v2.5h-1.5z" fill="#1010ff"/>
<path d="M-6.8 -0.3l1.5 1.3l0.5 2.3M-6.6 2.3l0.3 0.4 M-6.8 9.5l1.5 1.3l0.5 2.3M-6.6 12.1l0.3 0.4 M-6.8 19.3l1.5 1.3l0.5 2.3M-6.6 21.9l0.3 0.4 M-6.8 29.1l1.5 1.3l0.5 2.3M-6.6 31.7l0.3 0.4 M-6.8 38.9l1.5 1.3l0.5 2.3M-6.6 41.5l0.3 0.4 M-6.8 48.7l1.5 1.3l0.5 2.3M-6.6 51.3l0.3 0.4 M-6.8 58.5l1.5 1.3l0.5 2.3M-6.6 61.1l0.3 0.4 M-6.8 68.3l1.5 1.3l0.5 2.3M-6.6 70.9l0.3 0.4 M-0.8 76.8l1.8-0.3l1.4-1.4l0.2-1.1M2.1 77.1l0.4 0.2 M8.9 76.8l1.8-0.3l1.4-1.4l0.2-1.1M11.8 77.1l0.4 0.2 M18.6 76.8l1.8-0.3l1.4-1.4l0.2-1.1M21.5 77.1l0.4 0.2 M28.3 76.8l1.8-0.3l1.4-1.4l0.2-1.1M31.2 77.1l0.4 0.2 M38.0 76.8l1.8-0.3l1.4-1.4l0.2-1.1M40.9 77.1l0.4 0.2 M47.7 76.8l1.8-0.3l1.4-1.4l0.2-1.1M50.6 77.1l0.4 0.2 M57.4 76.8l1.8-0.3l1.4-1.4l0.2-1.1M60.3 77.1l0.4 0.2 M67.1 76.8l1.8-0.3l1.4-1.4l0.2-1.1M70.0 77.1l0.4 0.2" fill="none" stroke="#2a2af0" stroke-width="1.0"/>
<text transform="translate(-8.6,43.4) rotate(-90)" font-size="3.9" font-family="'Liberation Sans',Arial,sans-serif" fill="#222" text-anchor="middle">PI-A</text>
<text x="37.1" y="81.1" font-size="3.9" font-family="'Liberation Sans',Arial,sans-serif" fill="#222" text-anchor="middle">FITC-A</text>
<text transform="translate(1.0,4.7) scale(1.12,1)" font-size="4.5" font-family="'Liberation Sans',Arial,sans-serif" fill="#f04848" opacity="0.85">Q1-UL</text>
<text transform="translate(1.0,8.8) scale(1.12,1)" font-size="4.5" font-family="'Liberation Sans',Arial,sans-serif" fill="#f04848" opacity="0.85">1.6%</text>
<text transform="translate(54.6,4.7) scale(1.12,1)" font-size="4.5" font-family="'Liberation Sans',Arial,sans-serif" fill="#b060e0" opacity="0.85">Q1-UR</text>
<text transform="translate(54.6,8.8) scale(1.12,1)" font-size="4.5" font-family="'Liberation Sans',Arial,sans-serif" fill="#b060e0" opacity="0.85">0.7%</text>
<text transform="translate(1.0,65.6) scale(1.12,1)" font-size="4.5" font-family="'Liberation Sans',Arial,sans-serif" fill="#2020d0" opacity="0.85">Q1-LL</text>
<text transform="translate(1.0,69.6) scale(1.12,1)" font-size="4.5" font-family="'Liberation Sans',Arial,sans-serif" fill="#2020d0" opacity="0.85">94.6%</text>
<text transform="translate(54.6,65.6) scale(1.12,1)" font-size="4.5" font-family="'Liberation Sans',Arial,sans-serif" fill="#48a030" opacity="0.85">Q1-LR</text>
<text transform="translate(54.6,69.6) scale(1.12,1)" font-size="4.5" font-family="'Liberation Sans',Arial,sans-serif" fill="#48a030" opacity="0.85">3.0%</text>
</g>
<g transform="translate(216,37.5)">
<rect x="0.00" y="0.00" width="70.00" height="70.50" fill="none" stroke="#7a7aff" stroke-width="0.9" />
<line x1="51.8" y1="0" x2="51.8" y2="70.5" stroke="#f28080" stroke-width="1.15" />
<line x1="0" y1="22.9" x2="70" y2="22.9" stroke="#f28080" stroke-width="1.15" />
<polygon points="38.0,39.9 43.2,35.4 47.7,32.8 51.4,31.3 51.8,31.5 51.8,35.0 48.4,37.6 43.2,40.6 39.5,42.1 38.0,41.8" fill="#0a0aff" opacity="0.88" filter="url(#fb)"/>
<path d="M41.1 27.5h0.85v0.85h-0.85zM43.1 24.0h0.85v0.85h-0.85zM45.2 28.7h0.85v0.85h-0.85zM33.3 38.8h0.85v0.85h-0.85zM48.8 29.5h0.85v0.85h-0.85zM36.3 36.2h0.85v0.85h-0.85zM36.0 39.0h0.85v0.85h-0.85zM48.5 30.0h0.85v0.85h-0.85zM39.8 34.5h0.85v0.85h-0.85zM42.2 33.5h0.85v0.85h-0.85zM43.8 25.4h0.85v0.85h-0.85zM45.9 27.0h0.85v0.85h-0.85zM41.2 27.5h0.85v0.85h-0.85zM46.5 23.9h0.85v0.85h-0.85zM47.8 32.1h0.85v0.85h-0.85zM38.2 36.6h0.85v0.85h-0.85zM42.6 32.0h0.85v0.85h-0.85zM39.2 32.3h0.85v0.85h-0.85zM50.0 27.0h0.85v0.85h-0.85zM38.4 32.4h0.85v0.85h-0.85zM43.5 30.6h0.85v0.85h-0.85zM39.0 32.7h0.85v0.85h-0.85zM48.2 25.0h0.85v0.85h-0.85zM38.4 34.9h0.85v0.85h-0.85zM45.1 29.6h0.85v0.85h-0.85zM45.7 32.5h0.85v0.85h-0.85zM34.4 36.6h0.85v0.85h-0.85zM39.9 35.1h0.85v0.85h-0.85zM40.7 34.1h0.85v0.85h-0.85zM43.5 31.5h0.85v0.85h-0.85zM34.9 40.5h0.85v0.85h-0.85zM42.9 28.7h0.85v0.85h-0.85zM42.1 34.5h0.85v0.85h-0.85zM37.1 34.9h0.85v0.85h-0.85zM44.0 25.4h0.85v0.85h-0.85zM40.6 25.2h0.85v0.85h-0.85zM47.2 26.0h0.85v0.85h-0.85zM34.7 39.9h0.85v0.85h-0.85zM40.2 27.1h0.85v0.85h-0.85zM47.5 26.5h0.85v0.85h-0.85zM47.5 24.9h0.85v0.85h-0.85zM46.2 32.1h0.85v0.85h-0.85zM36.0 38.3h0.85v0.85h-0.85zM39.3 38.6h0.85v0.85h-0.85zM46.5 24.6h0.85v0.85h-0.85zM44.3 25.7h0.85v0.85h-0.85zM34.9 41.8h0.85v0.85h-0.85zM45.6 28.7h0.85v0.85h-0.85zM34.9 39.3h0.85v0.85h-0.85zM38.3 37.1h0.85v0.85h-0.85zM40.0 26.6h0.85v0.85h-0.85zM50.8 24.1h0.85v0.85h-0.85zM48.0 24.5h0.85v0.85h-0.85zM36.3 39.7h0.85v0.85h-0.85zM45.7 31.4h0.85v0.85h-0.85zM41.8 26.9h0.85v0.85h-0.85zM48.9 31.4h0.85v0.85h-0.85zM44.0 24.6h0.85v0.85h-0.85zM41.7 35.0h0.85v0.85h-0.85zM40.2 30.7h0.85v0.85h-0.85zM45.5 29.1h0.85v0.85h-0.85zM38.0 33.5h0.85v0.85h-0.85zM37.8 34.8h0.85v0.85h-0.85zM39.7 29.3h0.85v0.85h-0.85zM38.6 38.6h0.85v0.85h-0.85zM44.9 30.6h0.85v0.85h-0.85zM43.3 31.7h0.85v0.85h-0.85zM41.9 30.9h0.85v0.85h-0.85zM41.4 32.4h0.85v0.85h-0.85zM43.6 29.7h0.85v0.85h-0.85zM50.6 30.4h0.85v0.85h-0.85zM49.9 29.2h0.85v0.85h-0.85zM46.2 28.0h0.85v0.85h-0.85zM40.4 27.7h0.85v0.85h-0.85zM45.1 27.6h0.85v0.85h-0.85zM44.2 25.3h0.85v0.85h-0.85zM50.3 27.9h0.85v0.85h-0.85zM39.0 38.3h0.85v0.85h-0.85zM45.1 31.7h0.85v0.85h-0.85zM45.7 30.4h0.85v0.85h-0.85zM39.2 33.4h0.85v0.85h-0.85zM44.2 28.8h0.85v0.85h-0.85zM41.6 24.1h0.85v0.85h-0.85zM47.4 25.5h0.85v0.85h-0.85zM48.3 32.0h0.85v0.85h-0.85zM43.0 35.2h0.85v0.85h-0.85zM44.2 30.2h0.85v0.85h-0.85zM46.9 28.8h0.85v0.85h-0.85zM47.5 29.8h0.85v0.85h-0.85zM41.4 29.2h0.85v0.85h-0.85zM41.8 36.5h0.85v0.85h-0.85zM47.5 30.8h0.85v0.85h-0.85zM47.2 25.5h0.85v0.85h-0.85zM43.3 27.3h0.85v0.85h-0.85zM50.7 30.9h0.85v0.85h-0.85zM47.6 28.5h0.85v0.85h-0.85zM44.9 30.5h0.85v0.85h-0.85zM48.0 32.7h0.85v0.85h-0.85zM34.8 38.0h0.85v0.85h-0.85zM35.8 40.5h0.85v0.85h-0.85zM49.3 29.0h0.85v0.85h-0.85zM35.9 37.0h0.85v0.85h-0.85zM44.2 32.6h0.85v0.85h-0.85zM49.2 27.3h0.85v0.85h-0.85zM35.7 38.1h0.85v0.85h-0.85zM45.8 25.6h0.85v0.85h-0.85zM51.4 24.4h0.85v0.85h-0.85zM37.3 39.2h0.85v0.85h-0.85zM45.9 24.5h0.85v0.85h-0.85zM42.4 28.3h0.85v0.85h-0.85zM41.0 25.8h0.85v0.85h-0.85zM36.2 37.1h0.85v0.85h-0.85zM35.6 38.1h0.85v0.85h-0.85zM42.3 26.0h0.85v0.85h-0.85zM39.5 33.4h0.85v0.85h-0.85zM50.3 30.6h0.85v0.85h-0.85zM40.6 34.6h0.85v0.85h-0.85zM39.7 24.0h0.85v0.85h-0.85zM43.1 34.4h0.85v0.85h-0.85zM40.4 30.0h0.85v0.85h-0.85zM40.2 31.3h0.85v0.85h-0.85zM40.6 26.6h0.85v0.85h-0.85zM37.6 35.7h0.85v0.85h-0.85zM40.0 28.5h0.85v0.85h-0.85zM50.1 24.8h0.85v0.85h-0.85zM46.0 30.1h0.85v0.85h-0.85zM45.1 34.4h0.85v0.85h-0.85zM37.3 36.0h0.85v0.85h-0.85zM46.9 31.1h0.85v0.85h-0.85zM46.3 31.4h0.85v0.85h-0.85zM42.8 35.7h0.85v0.85h-0.85zM45.7 30.0h0.85v0.85h-0.85zM44.7 34.3h0.85v0.85h-0.85zM37.0 35.7h0.85v0.85h-0.85zM42.7 33.0h0.85v0.85h-0.85zM42.8 34.0h0.85v0.85h-0.85zM48.3 28.4h0.85v0.85h-0.85zM36.1 39.7h0.85v0.85h-0.85zM41.5 36.2h0.85v0.85h-0.85zM49.3 24.6h0.85v0.85h-0.85zM48.3 26.2h0.85v0.85h-0.85zM41.4 25.5h0.85v0.85h-0.85zM46.0 32.5h0.85v0.85h-0.85zM47.2 26.7h0.85v0.85h-0.85zM45.7 30.9h0.85v0.85h-0.85zM42.7 28.4h0.85v0.85h-0.85zM39.8 30.4h0.85v0.85h-0.85zM40.0 24.1h0.85v0.85h-0.85zM46.4 29.1h0.85v0.85h-0.85zM48.6 25.6h0.85v0.85h-0.85zM39.9 24.7h0.85v0.85h-0.85zM41.2 30.9h0.85v0.85h-0.85zM46.3 29.5h0.85v0.85h-0.85zM40.6 36.4h0.85v0.85h-0.85zM48.2 30.6h0.85v0.85h-0.85zM40.1 35.0h0.85v0.85h-0.85zM50.4 27.5h0.85v0.85h-0.85zM39.9 36.7h0.85v0.85h-0.85zM47.2 31.2h0.85v0.85h-0.85zM42.8 33.4h0.85v0.85h-0.85zM41.6 32.8h0.85v0.85h-0.85zM48.8 31.8h0.85v0.85h-0.85zM41.2 33.3h0.85v0.85h-0.85zM40.4 24.6h0.85v0.85h-0.85zM34.3 39.7h0.85v0.85h-0.85zM33.8 37.0h0.85v0.85h-0.85zM46.3 33.2h0.85v0.85h-0.85zM33.8 37.2h0.85v0.85h-0.85zM40.7 35.1h0.85v0.85h-0.85zM49.4 26.6h0.85v0.85h-0.85zM39.2 33.9h0.85v0.85h-0.85zM42.5 32.0h0.85v0.85h-0.85zM49.1 28.8h0.85v0.85h-0.85zM43.0 31.1h0.85v0.85h-0.85zM41.6 33.3h0.85v0.85h-0.85zM43.9 30.9h0.85v0.85h-0.85zM48.0 27.7h0.85v0.85h-0.85zM45.4 35.5h0.85v0.85h-0.85zM46.0 34.4h0.85v0.85h-0.85zM41.2 40.6h0.85v0.85h-0.85zM41.5 39.5h0.85v0.85h-0.85zM50.4 32.0h0.85v0.85h-0.85zM43.5 38.8h0.85v0.85h-0.85zM46.2 34.3h0.85v0.85h-0.85zM50.4 32.1h0.85v0.85h-0.85zM43.0 38.6h0.85v0.85h-0.85zM48.6 35.8h0.85v0.85h-0.85zM49.0 36.7h0.85v0.85h-0.85zM46.5 37.2h0.85v0.85h-0.85zM50.5 33.1h0.85v0.85h-0.85zM40.8 39.9h0.85v0.85h-0.85zM39.7 40.5h0.85v0.85h-0.85zM46.4 36.2h0.85v0.85h-0.85zM51.0 31.6h0.85v0.85h-0.85zM44.8 37.2h0.85v0.85h-0.85zM45.0 34.9h0.85v0.85h-0.85zM40.7 41.6h0.85v0.85h-0.85zM40.5 40.0h0.85v0.85h-0.85zM40.8 38.0h0.85v0.85h-0.85zM50.0 34.6h0.85v0.85h-0.85zM49.9 36.2h0.85v0.85h-0.85zM40.8 39.8h0.85v0.85h-0.85zM44.6 36.7h0.85v0.85h-0.85zM40.0 38.4h0.85v0.85h-0.85zM46.4 35.8h0.85v0.85h-0.85zM50.9 34.0h0.85v0.85h-0.85zM40.9 41.2h0.85v0.85h-0.85zM43.2 40.4h0.85v0.85h-0.85zM42.3 38.0h0.85v0.85h-0.85zM50.0 35.6h0.85v0.85h-0.85zM46.6 36.1h0.85v0.85h-0.85zM46.8 34.0h0.85v0.85h-0.85zM42.0 40.4h0.85v0.85h-0.85zM36.5 33.9h0.85v0.85h-0.85zM33.0 31.6h0.85v0.85h-0.85zM44.4 43.2h0.85v0.85h-0.85zM48.2 40.7h0.85v0.85h-0.85zM40.1 41.8h0.85v0.85h-0.85zM43.3 37.4h0.85v0.85h-0.85zM40.2 47.8h0.85v0.85h-0.85zM29.3 32.4h0.85v0.85h-0.85zM33.2 41.8h0.85v0.85h-0.85zM44.6 37.0h0.85v0.85h-0.85zM41.9 38.3h0.85v0.85h-0.85zM39.9 36.2h0.85v0.85h-0.85zM38.2 38.5h0.85v0.85h-0.85zM44.3 48.2h0.85v0.85h-0.85zM28.7 40.8h0.85v0.85h-0.85z" fill="#0a0aff" opacity="0.85"/>
<polygon points="52.1,23.8 58.9,23.8 57.4,27.9 52.9,33.5 52.1,34.7" fill="#4aa02a" opacity="0.55"/>
<path d="M53.8 27.6h0.8v0.8h-0.8zM52.8 29.8h0.8v0.8h-0.8zM52.6 30.6h0.8v0.8h-0.8zM54.6 31.0h0.8v0.8h-0.8zM56.4 27.9h0.8v0.8h-0.8zM52.5 32.9h0.8v0.8h-0.8zM57.2 24.2h0.8v0.8h-0.8zM54.3 25.3h0.8v0.8h-0.8zM53.1 30.2h0.8v0.8h-0.8zM56.0 24.3h0.8v0.8h-0.8zM56.5 26.9h0.8v0.8h-0.8zM57.3 27.0h0.8v0.8h-0.8zM55.8 28.4h0.8v0.8h-0.8zM54.0 25.6h0.8v0.8h-0.8zM57.5 27.6h0.8v0.8h-0.8zM53.1 29.4h0.8v0.8h-0.8zM58.1 25.6h0.8v0.8h-0.8zM57.1 25.7h0.8v0.8h-0.8zM54.2 24.4h0.8v0.8h-0.8zM54.1 28.0h0.8v0.8h-0.8zM53.4 27.2h0.8v0.8h-0.8zM54.3 28.6h0.8v0.8h-0.8zM52.8 26.6h0.8v0.8h-0.8zM54.8 28.0h0.8v0.8h-0.8zM54.2 25.5h0.8v0.8h-0.8zM57.2 26.8h0.8v0.8h-0.8zM55.7 26.9h0.8v0.8h-0.8zM56.4 26.6h0.8v0.8h-0.8zM57.3 24.3h0.8v0.8h-0.8zM53.9 26.5h0.8v0.8h-0.8zM52.6 29.8h0.8v0.8h-0.8zM52.9 27.1h0.8v0.8h-0.8zM54.4 28.1h0.8v0.8h-0.8zM55.7 29.5h0.8v0.8h-0.8zM53.0 27.5h0.8v0.8h-0.8zM52.5 28.3h0.8v0.8h-0.8zM54.8 30.1h0.8v0.8h-0.8zM53.1 31.1h0.8v0.8h-0.8zM53.0 31.5h0.8v0.8h-0.8zM54.0 24.5h0.8v0.8h-0.8zM54.0 26.1h0.8v0.8h-0.8zM53.6 24.8h0.8v0.8h-0.8zM56.9 24.6h0.8v0.8h-0.8zM52.1 30.7h0.8v0.8h-0.8zM53.0 26.8h0.8v0.8h-0.8zM52.5 28.7h0.8v0.8h-0.8zM52.4 32.8h0.8v0.8h-0.8zM52.9 26.2h0.8v0.8h-0.8zM56.4 27.5h0.8v0.8h-0.8zM54.4 30.0h0.8v0.8h-0.8zM53.6 32.4h0.8v0.8h-0.8zM52.3 32.3h0.8v0.8h-0.8zM52.3 29.3h0.8v0.8h-0.8zM55.0 24.5h0.8v0.8h-0.8zM56.1 28.2h0.8v0.8h-0.8zM55.3 25.3h0.8v0.8h-0.8zM54.4 25.9h0.8v0.8h-0.8zM54.8 26.9h0.8v0.8h-0.8zM53.4 31.8h0.8v0.8h-0.8zM55.6 28.6h0.8v0.8h-0.8zM53.4 31.5h0.8v0.8h-0.8zM53.4 26.7h0.8v0.8h-0.8zM52.5 26.0h0.8v0.8h-0.8z" fill="#2c9a10" opacity="0.9"/>
<path d="M39.7 22.7h0.8v0.8h-0.8zM47.9 22.1h0.8v0.8h-0.8zM42.6 21.4h0.8v0.8h-0.8zM41.4 22.1h0.8v0.8h-0.8zM51.0 21.3h0.8v0.8h-0.8zM40.0 20.9h0.8v0.8h-0.8zM43.6 22.7h0.8v0.8h-0.8zM48.8 21.6h0.8v0.8h-0.8zM40.7 20.8h0.8v0.8h-0.8zM41.3 22.4h0.8v0.8h-0.8zM45.0 23.0h0.8v0.8h-0.8zM50.1 22.5h0.8v0.8h-0.8zM45.0 22.6h0.8v0.8h-0.8zM41.0 20.8h0.8v0.8h-0.8zM46.0 21.8h0.8v0.8h-0.8zM41.9 21.1h0.8v0.8h-0.8zM39.7 22.8h0.8v0.8h-0.8zM47.7 22.9h0.8v0.8h-0.8zM50.9 21.6h0.8v0.8h-0.8zM48.0 21.5h0.8v0.8h-0.8zM48.9 22.6h0.8v0.8h-0.8zM41.1 20.5h0.8v0.8h-0.8zM42.0 22.0h0.8v0.8h-0.8zM43.9 20.5h0.8v0.8h-0.8zM49.1 22.5h0.8v0.8h-0.8zM44.9 20.6h0.8v0.8h-0.8zM49.8 21.8h0.8v0.8h-0.8zM40.3 21.3h0.8v0.8h-0.8zM46.7 22.7h0.8v0.8h-0.8z" fill="#ff2a2a" opacity="0.75"/>
<path d="M56.5 21.1h0.8v0.8h-0.8zM54.4 19.8h0.8v0.8h-0.8zM59.8 20.3h0.8v0.8h-0.8zM53.6 21.0h0.8v0.8h-0.8zM53.8 19.7h0.8v0.8h-0.8zM56.3 20.9h0.8v0.8h-0.8zM57.7 21.3h0.8v0.8h-0.8zM56.2 19.2h0.8v0.8h-0.8zM58.4 19.2h0.8v0.8h-0.8zM56.4 20.3h0.8v0.8h-0.8zM58.0 21.4h0.8v0.8h-0.8zM54.6 21.1h0.8v0.8h-0.8z" fill="#a040f0" opacity="0.75"/>
<rect x="-1.90" y="0.00" width="2.50" height="72.00" fill="#6c6cff" stroke="none" stroke-width="0" />
<rect x="-1.20" y="70.20" width="71.20" height="2.50" fill="#6c6cff" stroke="none" stroke-width="0" />
<path d="M-1.9 1.2h2.5v2.6h-2.5zM-1.9 6.2h2.5v1.2h-2.5zM-1.9 11.0h2.5v2.6h-2.5zM-1.9 16.0h2.5v1.2h-2.5zM-1.9 20.8h2.5v2.6h-2.5zM-1.9 25.8h2.5v1.2h-2.5zM-1.9 30.6h2.5v2.6h-2.5zM-1.9 35.6h2.5v1.2h-2.5zM-1.9 40.4h2.5v2.6h-2.5zM-1.9 45.4h2.5v1.2h-2.5zM-1.9 50.2h2.5v2.6h-2.5zM-1.9 55.2h2.5v1.2h-2.5zM-1.9 60.0h2.5v2.6h-2.5zM-1.9 65.0h2.5v1.2h-2.5zM-1.9 69.8h2.5v2.6h-2.5zM-1.9 74.8h2.5v1.2h-2.5zM-0.5 70.2h3.2v2.5h-3.2zM4.7 70.2h1.5v2.5h-1.5zM9.2 70.2h3.2v2.5h-3.2zM14.4 70.2h1.5v2.5h-1.5zM18.9 70.2h3.2v2.5h-3.2zM24.1 70.2h1.5v2.5h-1.5zM28.6 70.2h3.2v2.5h-3.2zM33.8 70.2h1.5v2.5h-1.5zM38.3 70.2h3.2v2.5h-3.2zM43.5 70.2h1.5v2.5h-1.5zM48.0 70.2h3.2v2.5h-3.2zM53.2 70.2h1.5v2.5h-1.5zM57.7 70.2h3.2v2.5h-3.2zM62.9 70.2h1.5v2.5h-1.5zM67.4 70.2h3.2v2.5h-3.2zM72.6 70.2h1.5v2.5h-1.5z" fill="#1010ff"/>
<path d="M-6.8 -0.3l1.5 1.3l0.5 2.3M-6.6 2.3l0.3 0.4 M-6.8 9.5l1.5 1.3l0.5 2.3M-6.6 12.1l0.3 0.4 M-6.8 19.3l1.5 1.3l0.5 2.3M-6.6 21.9l0.3 0.4 M-6.8 29.1l1.5 1.3l0.5 2.3M-6.6 31.7l0.3 0.4 M-6.8 38.9l1.5 1.3l0.5 2.3M-6.6 41.5l0.3 0.4 M-6.8 48.7l1.5 1.3l0.5 2.3M-6.6 51.3l0.3 0.4 M-6.8 58.5l1.5 1.3l0.5 2.3M-6.6 61.1l0.3 0.4 M-6.8 68.3l1.5 1.3l0.5 2.3M-6.6 70.9l0.3 0.4 M-0.8 76.8l1.8-0.3l1.4-1.4l0.2-1.1M2.1 77.1l0.4 0.2 M8.9 76.8l1.8-0.3l1.4-1.4l0.2-1.1M11.8 77.1l0.4 0.2 M18.6 76.8l1.8-0.3l1.4-1.4l0.2-1.1M21.5 77.1l0.4 0.2 M28.3 76.8l1.8-0.3l1.4-1.4l0.2-1.1M31.2 77.1l0.4 0.2 M38.0 76.8l1.8-0.3l1.4-1.4l0.2-1.1M40.9 77.1l0.4 0.2 M47.7 76.8l1.8-0.3l1.4-1.4l0.2-1.1M50.6 77.1l0.4 0.2 M57.4 76.8l1.8-0.3l1.4-1.4l0.2-1.1M60.3 77.1l0.4 0.2 M67.1 76.8l1.8-0.3l1.4-1.4l0.2-1.1M70.0 77.1l0.4 0.2" fill="none" stroke="#2a2af0" stroke-width="1.0"/>
<text transform="translate(-8.6,43.4) rotate(-90)" font-size="3.9" font-family="'Liberation Sans',Arial,sans-serif" fill="#222" text-anchor="middle">PI-A</text>
<text x="37.1" y="81.1" font-size="3.9" font-family="'Liberation Sans',Arial,sans-serif" fill="#222" text-anchor="middle">FITC-A</text>
<text transform="translate(1.0,4.7) scale(1.12,1)" font-size="4.5" font-family="'Liberation Sans',Arial,sans-serif" fill="#f04848" opacity="0.85">Q1-UL</text>
<text transform="translate(1.0,8.8) scale(1.12,1)" font-size="4.5" font-family="'Liberation Sans',Arial,sans-serif" fill="#f04848" opacity="0.85">1.5%</text>
<text transform="translate(54.6,4.7) scale(1.12,1)" font-size="4.5" font-family="'Liberation Sans',Arial,sans-serif" fill="#b060e0" opacity="0.85">Q1-UR</text>
<text transform="translate(54.6,8.8) scale(1.12,1)" font-size="4.5" font-family="'Liberation Sans',Arial,sans-serif" fill="#b060e0" opacity="0.85">1.2%</text>
<text transform="translate(1.0,65.6) scale(1.12,1)" font-size="4.5" font-family="'Liberation Sans',Arial,sans-serif" fill="#2020d0" opacity="0.85">Q1-LL</text>
<text transform="translate(1.0,69.6) scale(1.12,1)" font-size="4.5" font-family="'Liberation Sans',Arial,sans-serif" fill="#2020d0" opacity="0.85">91.3%</text>
<text transform="translate(54.6,65.6) scale(1.12,1)" font-size="4.5" font-family="'Liberation Sans',Arial,sans-serif" fill="#48a030" opacity="0.85">Q1-LR</text>
<text transform="translate(54.6,69.6) scale(1.12,1)" font-size="4.5" font-family="'Liberation Sans',Arial,sans-serif" fill="#48a030" opacity="0.85">6.0%</text>
</g>
<g transform="translate(303,37.5)">
<rect x="0.00" y="0.00" width="70.00" height="70.50" fill="none" stroke="#7a7aff" stroke-width="0.9" />
<line x1="52.1" y1="0" x2="52.1" y2="70.5" stroke="#f28080" stroke-width="1.15" />
<line x1="0" y1="22.9" x2="70" y2="22.9" stroke="#f28080" stroke-width="1.15" />
<polygon points="39.6,37.6 43.3,33.5 47.1,30.6 50.8,26.5 52.1,25.2 52.1,36.2 47.8,38.4 43.3,41.4 39.2,43.2 37.4,42.1" fill="#0a0aff" opacity="0.88" filter="url(#fb)"/>
<path d="M44.7 25.0h0.85v0.85h-0.85zM37.7 38.6h0.85v0.85h-0.85zM47.6 25.9h0.85v0.85h-0.85zM37.1 41.6h0.85v0.85h-0.85zM35.6 41.1h0.85v0.85h-0.85zM43.7 30.1h0.85v0.85h-0.85zM47.4 24.1h0.85v0.85h-0.85zM42.1 26.3h0.85v0.85h-0.85zM45.6 28.2h0.85v0.85h-0.85zM41.5 26.1h0.85v0.85h-0.85zM49.3 25.9h0.85v0.85h-0.85zM40.4 30.4h0.85v0.85h-0.85zM47.7 26.9h0.85v0.85h-0.85zM47.8 23.8h0.85v0.85h-0.85zM43.2 33.8h0.85v0.85h-0.85zM46.9 24.3h0.85v0.85h-0.85zM40.0 30.8h0.85v0.85h-0.85zM47.5 29.7h0.85v0.85h-0.85zM35.5 42.0h0.85v0.85h-0.85zM39.4 37.6h0.85v0.85h-0.85zM40.4 35.6h0.85v0.85h-0.85zM39.2 32.7h0.85v0.85h-0.85zM47.1 25.7h0.85v0.85h-0.85zM49.0 24.3h0.85v0.85h-0.85zM48.9 28.6h0.85v0.85h-0.85zM46.0 29.8h0.85v0.85h-0.85zM50.3 27.1h0.85v0.85h-0.85zM45.8 27.6h0.85v0.85h-0.85zM33.9 42.6h0.85v0.85h-0.85zM36.2 41.2h0.85v0.85h-0.85zM43.3 26.1h0.85v0.85h-0.85zM47.7 28.6h0.85v0.85h-0.85zM40.7 31.7h0.85v0.85h-0.85zM49.7 24.7h0.85v0.85h-0.85zM41.7 26.2h0.85v0.85h-0.85zM42.5 27.5h0.85v0.85h-0.85zM40.3 34.1h0.85v0.85h-0.85zM49.5 26.1h0.85v0.85h-0.85zM47.1 25.3h0.85v0.85h-0.85zM42.0 30.7h0.85v0.85h-0.85zM37.4 38.4h0.85v0.85h-0.85zM36.3 41.5h0.85v0.85h-0.85zM37.8 36.9h0.85v0.85h-0.85zM50.3 25.4h0.85v0.85h-0.85zM41.7 26.7h0.85v0.85h-0.85zM37.1 40.3h0.85v0.85h-0.85zM45.1 28.4h0.85v0.85h-0.85zM49.0 28.1h0.85v0.85h-0.85zM39.6 32.7h0.85v0.85h-0.85zM36.6 42.1h0.85v0.85h-0.85zM50.0 24.9h0.85v0.85h-0.85zM34.6 44.0h0.85v0.85h-0.85zM41.4 35.4h0.85v0.85h-0.85zM35.0 43.6h0.85v0.85h-0.85zM44.2 27.6h0.85v0.85h-0.85zM46.4 29.3h0.85v0.85h-0.85zM45.6 27.6h0.85v0.85h-0.85zM41.1 33.0h0.85v0.85h-0.85zM41.7 27.5h0.85v0.85h-0.85zM42.5 24.0h0.85v0.85h-0.85zM46.1 27.2h0.85v0.85h-0.85zM37.2 40.7h0.85v0.85h-0.85zM44.5 28.0h0.85v0.85h-0.85zM47.0 29.7h0.85v0.85h-0.85zM36.8 39.1h0.85v0.85h-0.85zM38.5 39.5h0.85v0.85h-0.85zM35.7 44.4h0.85v0.85h-0.85zM39.8 35.2h0.85v0.85h-0.85zM39.5 32.9h0.85v0.85h-0.85zM42.5 29.4h0.85v0.85h-0.85zM42.7 27.8h0.85v0.85h-0.85zM46.9 28.7h0.85v0.85h-0.85zM37.1 39.4h0.85v0.85h-0.85zM44.4 26.0h0.85v0.85h-0.85zM45.3 29.0h0.85v0.85h-0.85zM45.9 29.4h0.85v0.85h-0.85zM43.1 27.0h0.85v0.85h-0.85zM42.1 28.0h0.85v0.85h-0.85zM43.2 31.7h0.85v0.85h-0.85zM47.9 26.0h0.85v0.85h-0.85zM42.5 29.2h0.85v0.85h-0.85zM46.0 28.5h0.85v0.85h-0.85zM39.5 34.2h0.85v0.85h-0.85zM40.5 33.6h0.85v0.85h-0.85zM45.0 25.9h0.85v0.85h-0.85zM45.1 30.3h0.85v0.85h-0.85zM35.3 45.1h0.85v0.85h-0.85zM47.8 26.6h0.85v0.85h-0.85zM49.0 27.4h0.85v0.85h-0.85zM36.8 40.7h0.85v0.85h-0.85zM41.5 31.1h0.85v0.85h-0.85zM51.6 26.2h0.85v0.85h-0.85zM44.8 30.0h0.85v0.85h-0.85zM47.2 26.5h0.85v0.85h-0.85zM35.6 41.7h0.85v0.85h-0.85zM36.8 40.2h0.85v0.85h-0.85zM40.5 31.5h0.85v0.85h-0.85zM49.1 26.6h0.85v0.85h-0.85zM43.6 31.1h0.85v0.85h-0.85zM49.9 26.7h0.85v0.85h-0.85zM34.5 43.0h0.85v0.85h-0.85zM48.3 28.7h0.85v0.85h-0.85zM47.3 28.0h0.85v0.85h-0.85zM42.1 32.6h0.85v0.85h-0.85zM39.3 37.7h0.85v0.85h-0.85zM44.2 26.0h0.85v0.85h-0.85zM45.9 28.2h0.85v0.85h-0.85zM40.3 31.7h0.85v0.85h-0.85zM35.9 44.0h0.85v0.85h-0.85zM41.5 25.7h0.85v0.85h-0.85zM37.7 40.2h0.85v0.85h-0.85zM48.4 28.5h0.85v0.85h-0.85zM41.6 32.1h0.85v0.85h-0.85zM48.3 27.7h0.85v0.85h-0.85zM44.0 26.8h0.85v0.85h-0.85zM41.4 35.0h0.85v0.85h-0.85zM42.3 25.7h0.85v0.85h-0.85zM43.2 27.5h0.85v0.85h-0.85zM50.7 24.8h0.85v0.85h-0.85zM45.0 30.4h0.85v0.85h-0.85zM39.4 34.9h0.85v0.85h-0.85zM42.3 28.0h0.85v0.85h-0.85zM44.6 26.8h0.85v0.85h-0.85zM41.1 31.5h0.85v0.85h-0.85zM41.5 31.4h0.85v0.85h-0.85zM36.4 42.9h0.85v0.85h-0.85zM41.6 30.3h0.85v0.85h-0.85zM43.8 32.6h0.85v0.85h-0.85zM42.5 34.7h0.85v0.85h-0.85zM40.1 35.5h0.85v0.85h-0.85zM42.4 31.0h0.85v0.85h-0.85zM48.1 29.4h0.85v0.85h-0.85zM40.5 32.2h0.85v0.85h-0.85zM43.6 29.8h0.85v0.85h-0.85zM36.6 39.0h0.85v0.85h-0.85zM34.7 41.6h0.85v0.85h-0.85zM35.3 44.2h0.85v0.85h-0.85zM41.6 27.9h0.85v0.85h-0.85zM41.6 32.3h0.85v0.85h-0.85zM46.7 27.5h0.85v0.85h-0.85zM46.2 24.3h0.85v0.85h-0.85zM39.8 32.4h0.85v0.85h-0.85zM45.0 30.7h0.85v0.85h-0.85zM40.6 29.6h0.85v0.85h-0.85zM38.5 37.2h0.85v0.85h-0.85zM36.5 42.7h0.85v0.85h-0.85zM42.6 29.7h0.85v0.85h-0.85zM50.7 25.5h0.85v0.85h-0.85zM36.4 40.6h0.85v0.85h-0.85zM50.9 25.5h0.85v0.85h-0.85zM48.0 25.9h0.85v0.85h-0.85zM47.0 29.3h0.85v0.85h-0.85zM47.0 28.4h0.85v0.85h-0.85zM45.7 29.8h0.85v0.85h-0.85zM42.3 26.2h0.85v0.85h-0.85zM47.5 26.8h0.85v0.85h-0.85zM46.2 24.8h0.85v0.85h-0.85zM47.3 26.5h0.85v0.85h-0.85zM45.4 32.0h0.85v0.85h-0.85zM35.2 42.6h0.85v0.85h-0.85zM50.1 24.4h0.85v0.85h-0.85zM42.2 34.1h0.85v0.85h-0.85zM48.7 26.3h0.85v0.85h-0.85zM48.1 29.2h0.85v0.85h-0.85zM35.4 44.0h0.85v0.85h-0.85zM47.4 28.8h0.85v0.85h-0.85zM36.6 38.9h0.85v0.85h-0.85zM43.9 32.6h0.85v0.85h-0.85zM42.3 34.6h0.85v0.85h-0.85zM44.5 27.2h0.85v0.85h-0.85zM43.7 30.6h0.85v0.85h-0.85zM43.8 28.2h0.85v0.85h-0.85zM43.0 26.2h0.85v0.85h-0.85zM44.1 23.8h0.85v0.85h-0.85zM36.9 42.2h0.85v0.85h-0.85zM35.5 44.4h0.85v0.85h-0.85zM43.1 30.8h0.85v0.85h-0.85zM46.5 25.1h0.85v0.85h-0.85zM35.6 40.2h0.85v0.85h-0.85zM45.7 27.2h0.85v0.85h-0.85zM41.2 35.7h0.85v0.85h-0.85zM41.4 28.9h0.85v0.85h-0.85zM47.6 29.0h0.85v0.85h-0.85zM40.8 31.1h0.85v0.85h-0.85zM47.8 28.6h0.85v0.85h-0.85zM42.0 34.8h0.85v0.85h-0.85zM41.4 30.5h0.85v0.85h-0.85zM41.5 27.3h0.85v0.85h-0.85zM43.0 27.3h0.85v0.85h-0.85zM45.8 25.6h0.85v0.85h-0.85zM50.3 23.7h0.85v0.85h-0.85zM46.0 28.6h0.85v0.85h-0.85zM41.6 27.1h0.85v0.85h-0.85zM42.6 27.9h0.85v0.85h-0.85zM42.4 26.8h0.85v0.85h-0.85zM42.5 26.4h0.85v0.85h-0.85zM48.4 26.1h0.85v0.85h-0.85zM35.3 39.8h0.85v0.85h-0.85zM36.5 43.0h0.85v0.85h-0.85zM46.9 26.2h0.85v0.85h-0.85zM42.5 31.1h0.85v0.85h-0.85zM40.5 35.0h0.85v0.85h-0.85zM44.5 28.6h0.85v0.85h-0.85zM38.7 34.8h0.85v0.85h-0.85zM42.9 32.9h0.85v0.85h-0.85zM45.9 27.7h0.85v0.85h-0.85zM43.4 29.8h0.85v0.85h-0.85zM43.1 32.0h0.85v0.85h-0.85zM40.2 30.4h0.85v0.85h-0.85zM47.2 28.2h0.85v0.85h-0.85zM48.5 28.7h0.85v0.85h-0.85zM42.6 31.8h0.85v0.85h-0.85zM38.6 34.5h0.85v0.85h-0.85zM41.7 33.0h0.85v0.85h-0.85zM41.5 27.9h0.85v0.85h-0.85zM35.8 43.7h0.85v0.85h-0.85zM41.7 32.5h0.85v0.85h-0.85zM44.6 29.3h0.85v0.85h-0.85zM45.2 27.8h0.85v0.85h-0.85zM44.9 30.2h0.85v0.85h-0.85zM39.4 32.9h0.85v0.85h-0.85zM38.1 36.7h0.85v0.85h-0.85zM37.8 37.5h0.85v0.85h-0.85zM43.7 32.2h0.85v0.85h-0.85zM48.4 25.9h0.85v0.85h-0.85zM40.4 33.2h0.85v0.85h-0.85zM43.0 30.1h0.85v0.85h-0.85zM40.2 31.1h0.85v0.85h-0.85zM43.4 30.9h0.85v0.85h-0.85zM39.9 32.9h0.85v0.85h-0.85zM41.0 27.2h0.85v0.85h-0.85zM41.9 32.7h0.85v0.85h-0.85zM42.3 28.0h0.85v0.85h-0.85zM36.8 38.0h0.85v0.85h-0.85zM46.4 29.4h0.85v0.85h-0.85zM45.5 26.6h0.85v0.85h-0.85zM44.9 27.4h0.85v0.85h-0.85zM43.0 30.6h0.85v0.85h-0.85zM43.8 26.6h0.85v0.85h-0.85zM44.2 28.6h0.85v0.85h-0.85zM40.3 33.6h0.85v0.85h-0.85zM45.7 26.0h0.85v0.85h-0.85zM44.9 24.3h0.85v0.85h-0.85zM47.1 29.6h0.85v0.85h-0.85zM49.2 27.6h0.85v0.85h-0.85zM50.4 34.6h0.85v0.85h-0.85zM43.7 40.9h0.85v0.85h-0.85zM48.0 34.9h0.85v0.85h-0.85zM50.9 28.1h0.85v0.85h-0.85zM51.6 30.9h0.85v0.85h-0.85zM49.8 29.7h0.85v0.85h-0.85zM45.6 36.5h0.85v0.85h-0.85zM50.9 26.9h0.85v0.85h-0.85zM48.2 33.5h0.85v0.85h-0.85zM49.6 33.3h0.85v0.85h-0.85zM41.0 39.2h0.85v0.85h-0.85zM50.4 29.1h0.85v0.85h-0.85zM48.1 32.1h0.85v0.85h-0.85zM44.9 34.2h0.85v0.85h-0.85zM42.1 38.9h0.85v0.85h-0.85zM47.5 32.3h0.85v0.85h-0.85zM44.9 40.1h0.85v0.85h-0.85zM39.6 38.7h0.85v0.85h-0.85zM42.2 40.6h0.85v0.85h-0.85zM47.1 33.8h0.85v0.85h-0.85zM42.6 35.8h0.85v0.85h-0.85zM40.5 40.9h0.85v0.85h-0.85zM45.6 36.3h0.85v0.85h-0.85zM49.5 30.0h0.85v0.85h-0.85zM43.7 37.7h0.85v0.85h-0.85zM40.0 41.7h0.85v0.85h-0.85zM45.4 33.0h0.85v0.85h-0.85zM49.3 35.6h0.85v0.85h-0.85zM49.6 30.3h0.85v0.85h-0.85zM46.0 37.2h0.85v0.85h-0.85zM45.6 39.0h0.85v0.85h-0.85zM37.9 41.1h0.85v0.85h-0.85zM42.6 40.1h0.85v0.85h-0.85zM45.0 33.0h0.85v0.85h-0.85zM43.7 39.7h0.85v0.85h-0.85zM50.4 33.7h0.85v0.85h-0.85zM51.4 32.3h0.85v0.85h-0.85zM47.5 35.4h0.85v0.85h-0.85zM44.1 35.7h0.85v0.85h-0.85zM46.9 36.9h0.85v0.85h-0.85zM50.6 33.6h0.85v0.85h-0.85zM47.4 37.4h0.85v0.85h-0.85zM41.8 36.2h0.85v0.85h-0.85zM49.7 30.2h0.85v0.85h-0.85zM43.0 34.2h0.85v0.85h-0.85zM42.9 39.4h0.85v0.85h-0.85zM51.1 28.1h0.85v0.85h-0.85zM43.7 39.6h0.85v0.85h-0.85zM45.1 32.7h0.85v0.85h-0.85zM41.4 36.0h0.85v0.85h-0.85zM41.4 38.6h0.85v0.85h-0.85zM50.2 32.5h0.85v0.85h-0.85zM48.1 36.0h0.85v0.85h-0.85zM48.5 29.7h0.85v0.85h-0.85zM40.9 37.1h0.85v0.85h-0.85zM44.8 38.7h0.85v0.85h-0.85zM51.5 29.6h0.85v0.85h-0.85zM40.6 40.6h0.85v0.85h-0.85zM50.0 35.4h0.85v0.85h-0.85zM44.1 38.6h0.85v0.85h-0.85zM47.3 38.0h0.85v0.85h-0.85zM47.3 32.2h0.85v0.85h-0.85zM45.9 34.5h0.85v0.85h-0.85zM44.0 49.9h0.85v0.85h-0.85zM48.2 38.0h0.85v0.85h-0.85zM45.0 39.5h0.85v0.85h-0.85zM41.0 36.9h0.85v0.85h-0.85zM38.5 32.6h0.85v0.85h-0.85zM48.5 36.5h0.85v0.85h-0.85zM42.0 37.3h0.85v0.85h-0.85zM40.3 34.8h0.85v0.85h-0.85zM36.8 43.7h0.85v0.85h-0.85zM42.0 31.5h0.85v0.85h-0.85zM43.4 34.2h0.85v0.85h-0.85zM40.4 42.0h0.85v0.85h-0.85zM35.4 38.5h0.85v0.85h-0.85zM37.5 41.5h0.85v0.85h-0.85zM43.8 45.7h0.85v0.85h-0.85zM40.6 48.4h0.85v0.85h-0.85z" fill="#0a0aff" opacity="0.85"/>
<polygon points="52.3,23.3 57.1,23.3 56.4,28.7 54.9,32.4 53.0,36.2 52.3,36.9" fill="#4aa02a" opacity="0.77"/>
<path d="M53.8 26.9h0.8v0.8h-0.8zM54.2 23.5h0.8v0.8h-0.8zM54.4 28.5h0.8v0.8h-0.8zM52.4 35.0h0.8v0.8h-0.8zM54.1 23.3h0.8v0.8h-0.8zM53.5 23.6h0.8v0.8h-0.8zM52.8 33.0h0.8v0.8h-0.8zM55.1 30.2h0.8v0.8h-0.8zM53.5 27.2h0.8v0.8h-0.8zM52.9 34.8h0.8v0.8h-0.8zM52.4 33.0h0.8v0.8h-0.8zM53.0 30.6h0.8v0.8h-0.8zM53.6 28.7h0.8v0.8h-0.8zM53.2 32.9h0.8v0.8h-0.8zM55.0 27.7h0.8v0.8h-0.8zM52.8 27.8h0.8v0.8h-0.8zM54.4 29.6h0.8v0.8h-0.8zM55.9 27.6h0.8v0.8h-0.8zM52.8 31.7h0.8v0.8h-0.8zM56.2 26.7h0.8v0.8h-0.8zM52.9 25.1h0.8v0.8h-0.8zM54.7 27.8h0.8v0.8h-0.8zM55.3 25.7h0.8v0.8h-0.8zM52.7 29.5h0.8v0.8h-0.8zM52.4 29.8h0.8v0.8h-0.8zM53.4 27.4h0.8v0.8h-0.8zM54.7 28.7h0.8v0.8h-0.8zM55.4 30.2h0.8v0.8h-0.8zM53.9 31.6h0.8v0.8h-0.8zM53.9 23.5h0.8v0.8h-0.8zM52.8 24.1h0.8v0.8h-0.8zM55.1 23.5h0.8v0.8h-0.8zM54.1 26.9h0.8v0.8h-0.8zM55.3 24.2h0.8v0.8h-0.8zM54.9 28.4h0.8v0.8h-0.8zM54.7 28.8h0.8v0.8h-0.8zM52.8 33.2h0.8v0.8h-0.8zM52.9 31.4h0.8v0.8h-0.8zM55.9 23.9h0.8v0.8h-0.8zM53.5 31.1h0.8v0.8h-0.8zM54.1 27.3h0.8v0.8h-0.8zM53.9 30.7h0.8v0.8h-0.8zM54.5 30.8h0.8v0.8h-0.8zM55.3 29.8h0.8v0.8h-0.8zM55.3 30.6h0.8v0.8h-0.8zM52.4 27.7h0.8v0.8h-0.8zM56.5 24.1h0.8v0.8h-0.8zM56.1 23.7h0.8v0.8h-0.8zM53.4 28.5h0.8v0.8h-0.8zM53.4 32.9h0.8v0.8h-0.8zM54.8 31.5h0.8v0.8h-0.8zM53.9 31.3h0.8v0.8h-0.8zM54.8 28.5h0.8v0.8h-0.8zM54.0 34.2h0.8v0.8h-0.8zM53.1 30.9h0.8v0.8h-0.8zM52.4 27.0h0.8v0.8h-0.8zM53.1 34.7h0.8v0.8h-0.8zM54.2 30.8h0.8v0.8h-0.8zM56.8 24.2h0.8v0.8h-0.8zM53.9 25.4h0.8v0.8h-0.8zM52.9 27.4h0.8v0.8h-0.8zM52.9 34.2h0.8v0.8h-0.8zM54.7 25.2h0.8v0.8h-0.8zM56.2 26.4h0.8v0.8h-0.8zM52.3 35.1h0.8v0.8h-0.8zM56.3 24.6h0.8v0.8h-0.8zM53.8 32.6h0.8v0.8h-0.8zM55.0 27.0h0.8v0.8h-0.8zM53.5 30.7h0.8v0.8h-0.8zM52.9 35.0h0.8v0.8h-0.8zM56.6 26.6h0.8v0.8h-0.8zM52.9 33.9h0.8v0.8h-0.8zM56.0 27.5h0.8v0.8h-0.8zM52.8 27.1h0.8v0.8h-0.8zM56.0 29.6h0.8v0.8h-0.8zM56.2 25.5h0.8v0.8h-0.8zM52.8 28.0h0.8v0.8h-0.8zM56.5 25.5h0.8v0.8h-0.8zM52.7 33.5h0.8v0.8h-0.8zM52.7 32.4h0.8v0.8h-0.8zM52.7 26.7h0.8v0.8h-0.8zM54.3 29.4h0.8v0.8h-0.8zM52.4 27.9h0.8v0.8h-0.8zM53.5 34.0h0.8v0.8h-0.8zM52.9 28.5h0.8v0.8h-0.8zM53.7 27.1h0.8v0.8h-0.8zM55.8 26.2h0.8v0.8h-0.8zM53.9 27.1h0.8v0.8h-0.8zM54.6 28.5h0.8v0.8h-0.8zM54.5 31.0h0.8v0.8h-0.8zM56.4 26.8h0.8v0.8h-0.8zM53.5 24.7h0.8v0.8h-0.8zM53.1 29.2h0.8v0.8h-0.8zM52.9 32.0h0.8v0.8h-0.8zM55.5 27.5h0.8v0.8h-0.8zM54.8 27.2h0.8v0.8h-0.8zM54.4 29.7h0.8v0.8h-0.8zM53.3 33.5h0.8v0.8h-0.8zM54.5 28.9h0.8v0.8h-0.8zM53.2 34.2h0.8v0.8h-0.8zM55.8 24.5h0.8v0.8h-0.8zM54.1 28.9h0.8v0.8h-0.8zM54.1 24.8h0.8v0.8h-0.8zM52.6 30.4h0.8v0.8h-0.8zM55.1 29.4h0.8v0.8h-0.8zM54.0 29.0h0.8v0.8h-0.8zM55.1 30.7h0.8v0.8h-0.8zM54.3 26.7h0.8v0.8h-0.8zM53.8 30.0h0.8v0.8h-0.8zM55.0 26.1h0.8v0.8h-0.8zM52.6 25.5h0.8v0.8h-0.8z" fill="#2c9a10" opacity="0.9"/>
<path d="M50.4 22.7h0.8v0.8h-0.8zM51.8 21.9h0.8v0.8h-0.8zM51.5 22.2h0.8v0.8h-0.8z" fill="#ff2a2a" opacity="0.75"/>
<polygon points="53.2,23.0 53.6,20.8 55.0,20.0 56.6,20.8 56.8,23.0" fill="#a040f0" opacity="0.55" filter="url(#fb)"/>
<path d="M55.0 21.7h0.8v0.8h-0.8zM53.2 20.3h0.8v0.8h-0.8zM55.5 22.2h0.8v0.8h-0.8zM54.4 22.9h0.8v0.8h-0.8zM56.1 21.0h0.8v0.8h-0.8zM53.3 21.8h0.8v0.8h-0.8zM55.5 20.8h0.8v0.8h-0.8zM53.2 21.6h0.8v0.8h-0.8zM53.1 22.3h0.8v0.8h-0.8zM55.4 20.9h0.8v0.8h-0.8zM54.7 20.8h0.8v0.8h-0.8zM53.7 20.6h0.8v0.8h-0.8zM56.1 21.5h0.8v0.8h-0.8zM55.7 21.1h0.8v0.8h-0.8zM56.1 21.9h0.8v0.8h-0.8zM55.5 21.3h0.8v0.8h-0.8zM55.1 20.7h0.8v0.8h-0.8zM56.7 22.1h0.8v0.8h-0.8zM55.0 22.0h0.8v0.8h-0.8zM53.4 21.1h0.8v0.8h-0.8zM53.9 22.6h0.8v0.8h-0.8zM53.0 21.4h0.8v0.8h-0.8zM56.3 22.4h0.8v0.8h-0.8zM55.7 21.0h0.8v0.8h-0.8zM53.9 22.2h0.8v0.8h-0.8zM54.1 22.3h0.8v0.8h-0.8zM54.3 22.4h0.8v0.8h-0.8zM55.2 22.5h0.8v0.8h-0.8zM56.7 21.2h0.8v0.8h-0.8zM56.7 20.1h0.8v0.8h-0.8zM56.3 20.2h0.8v0.8h-0.8zM55.1 21.3h0.8v0.8h-0.8zM55.9 21.0h0.8v0.8h-0.8zM53.8 22.5h0.8v0.8h-0.8z" fill="#a040f0" opacity="0.75"/>
<rect x="-1.90" y="0.00" width="2.50" height="72.00" fill="#6c6cff" stroke="none" stroke-width="0" />
<rect x="-1.20" y="70.20" width="71.20" height="2.50" fill="#6c6cff" stroke="none" stroke-width="0" />
<path d="M-1.9 1.2h2.5v2.6h-2.5zM-1.9 6.2h2.5v1.2h-2.5zM-1.9 11.0h2.5v2.6h-2.5zM-1.9 16.0h2.5v1.2h-2.5zM-1.9 20.8h2.5v2.6h-2.5zM-1.9 25.8h2.5v1.2h-2.5zM-1.9 30.6h2.5v2.6h-2.5zM-1.9 35.6h2.5v1.2h-2.5zM-1.9 40.4h2.5v2.6h-2.5zM-1.9 45.4h2.5v1.2h-2.5zM-1.9 50.2h2.5v2.6h-2.5zM-1.9 55.2h2.5v1.2h-2.5zM-1.9 60.0h2.5v2.6h-2.5zM-1.9 65.0h2.5v1.2h-2.5zM-1.9 69.8h2.5v2.6h-2.5zM-1.9 74.8h2.5v1.2h-2.5zM-0.5 70.2h3.2v2.5h-3.2zM4.7 70.2h1.5v2.5h-1.5zM9.2 70.2h3.2v2.5h-3.2zM14.4 70.2h1.5v2.5h-1.5zM18.9 70.2h3.2v2.5h-3.2zM24.1 70.2h1.5v2.5h-1.5zM28.6 70.2h3.2v2.5h-3.2zM33.8 70.2h1.5v2.5h-1.5zM38.3 70.2h3.2v2.5h-3.2zM43.5 70.2h1.5v2.5h-1.5zM48.0 70.2h3.2v2.5h-3.2zM53.2 70.2h1.5v2.5h-1.5zM57.7 70.2h3.2v2.5h-3.2zM62.9 70.2h1.5v2.5h-1.5zM67.4 70.2h3.2v2.5h-3.2zM72.6 70.2h1.5v2.5h-1.5z" fill="#1010ff"/>
<path d="M-6.8 -0.3l1.5 1.3l0.5 2.3M-6.6 2.3l0.3 0.4 M-6.8 9.5l1.5 1.3l0.5 2.3M-6.6 12.1l0.3 0.4 M-6.8 19.3l1.5 1.3l0.5 2.3M-6.6 21.9l0.3 0.4 M-6.8 29.1l1.5 1.3l0.5 2.3M-6.6 31.7l0.3 0.4 M-6.8 38.9l1.5 1.3l0.5 2.3M-6.6 41.5l0.3 0.4 M-6.8 48.7l1.5 1.3l0.5 2.3M-6.6 51.3l0.3 0.4 M-6.8 58.5l1.5 1.3l0.5 2.3M-6.6 61.1l0.3 0.4 M-6.8 68.3l1.5 1.3l0.5 2.3M-6.6 70.9l0.3 0.4 M-0.8 76.8l1.8-0.3l1.4-1.4l0.2-1.1M2.1 77.1l0.4 0.2 M8.9 76.8l1.8-0.3l1.4-1.4l0.2-1.1M11.8 77.1l0.4 0.2 M18.6 76.8l1.8-0.3l1.4-1.4l0.2-1.1M21.5 77.1l0.4 0.2 M28.3 76.8l1.8-0.3l1.4-1.4l0.2-1.1M31.2 77.1l0.4 0.2 M38.0 76.8l1.8-0.3l1.4-1.4l0.2-1.1M40.9 77.1l0.4 0.2 M47.7 76.8l1.8-0.3l1.4-1.4l0.2-1.1M50.6 77.1l0.4 0.2 M57.4 76.8l1.8-0.3l1.4-1.4l0.2-1.1M60.3 77.1l0.4 0.2 M67.1 76.8l1.8-0.3l1.4-1.4l0.2-1.1M70.0 77.1l0.4 0.2" fill="none" stroke="#2a2af0" stroke-width="1.0"/>
<text transform="translate(-8.6,43.4) rotate(-90)" font-size="3.9" font-family="'Liberation Sans',Arial,sans-serif" fill="#222" text-anchor="middle">PI-A</text>
<text x="37.1" y="81.1" font-size="3.9" font-family="'Liberation Sans',Arial,sans-serif" fill="#222" text-anchor="middle">FITC-A</text>
<text transform="translate(1.0,4.7) scale(1.12,1)" font-size="4.5" font-family="'Liberation Sans',Arial,sans-serif" fill="#f04848" opacity="0.85">Q1-UL</text>
<text transform="translate(1.0,8.8) scale(1.12,1)" font-size="4.5" font-family="'Liberation Sans',Arial,sans-serif" fill="#f04848" opacity="0.85">0.7%</text>
<text transform="translate(54.6,4.7) scale(1.12,1)" font-size="4.5" font-family="'Liberation Sans',Arial,sans-serif" fill="#b060e0" opacity="0.85">Q1-UR</text>
<text transform="translate(54.6,8.8) scale(1.12,1)" font-size="4.5" font-family="'Liberation Sans',Arial,sans-serif" fill="#b060e0" opacity="0.85">3.5%</text>
<text transform="translate(1.0,65.6) scale(1.12,1)" font-size="4.5" font-family="'Liberation Sans',Arial,sans-serif" fill="#2020d0" opacity="0.85">Q1-LL</text>
<text transform="translate(1.0,69.6) scale(1.12,1)" font-size="4.5" font-family="'Liberation Sans',Arial,sans-serif" fill="#2020d0" opacity="0.85">77.0%</text>
<text transform="translate(54.6,65.6) scale(1.12,1)" font-size="4.5" font-family="'Liberation Sans',Arial,sans-serif" fill="#48a030" opacity="0.85">Q1-LR</text>
<text transform="translate(54.6,69.6) scale(1.12,1)" font-size="4.5" font-family="'Liberation Sans',Arial,sans-serif" fill="#48a030" opacity="0.85">18.7%</text>
</g>
<g transform="translate(390.5,37.5)">
<rect x="0.00" y="0.00" width="70.00" height="70.50" fill="none" stroke="#7a7aff" stroke-width="0.9" />
<line x1="51.2" y1="0" x2="51.2" y2="70.5" stroke="#f28080" stroke-width="1.15" />
<line x1="0" y1="22.9" x2="70" y2="22.9" stroke="#f28080" stroke-width="1.15" />
<polygon points="43.5,23.6 51.2,23.6 51.2,36.5 47.6,38.4 43.9,39.9 40.2,39.1 42.4,34.7 43.2,29.4" fill="#0a0aff" opacity="0.88" filter="url(#fb)"/>
<path d="M39.3 39.4h0.85v0.85h-0.85zM41.4 28.3h0.85v0.85h-0.85zM38.3 38.9h0.85v0.85h-0.85zM40.4 28.0h0.85v0.85h-0.85zM39.2 36.1h0.85v0.85h-0.85zM41.0 27.9h0.85v0.85h-0.85zM41.0 35.7h0.85v0.85h-0.85zM36.7 42.0h0.85v0.85h-0.85zM42.9 29.6h0.85v0.85h-0.85zM39.4 29.1h0.85v0.85h-0.85zM42.6 29.4h0.85v0.85h-0.85zM39.6 33.0h0.85v0.85h-0.85zM41.6 35.4h0.85v0.85h-0.85zM38.6 30.6h0.85v0.85h-0.85zM35.4 42.0h0.85v0.85h-0.85zM39.9 25.8h0.85v0.85h-0.85zM42.0 31.0h0.85v0.85h-0.85zM38.8 37.5h0.85v0.85h-0.85zM39.1 27.4h0.85v0.85h-0.85zM41.6 25.8h0.85v0.85h-0.85zM41.3 33.5h0.85v0.85h-0.85zM42.9 30.8h0.85v0.85h-0.85zM42.5 27.9h0.85v0.85h-0.85zM35.3 41.3h0.85v0.85h-0.85zM39.8 25.9h0.85v0.85h-0.85zM43.1 25.9h0.85v0.85h-0.85zM37.2 37.9h0.85v0.85h-0.85zM38.0 39.3h0.85v0.85h-0.85zM34.6 43.0h0.85v0.85h-0.85zM37.8 40.3h0.85v0.85h-0.85zM38.6 40.5h0.85v0.85h-0.85zM34.9 41.5h0.85v0.85h-0.85zM40.5 32.6h0.85v0.85h-0.85zM43.1 25.5h0.85v0.85h-0.85zM42.8 29.4h0.85v0.85h-0.85zM39.6 26.5h0.85v0.85h-0.85zM35.2 43.4h0.85v0.85h-0.85zM38.8 33.9h0.85v0.85h-0.85zM41.7 26.5h0.85v0.85h-0.85zM42.3 32.5h0.85v0.85h-0.85zM38.5 37.1h0.85v0.85h-0.85zM39.0 34.4h0.85v0.85h-0.85zM37.0 38.8h0.85v0.85h-0.85zM43.3 26.2h0.85v0.85h-0.85zM39.0 35.4h0.85v0.85h-0.85zM40.3 35.9h0.85v0.85h-0.85zM38.8 39.4h0.85v0.85h-0.85zM39.5 26.5h0.85v0.85h-0.85zM38.2 35.4h0.85v0.85h-0.85zM43.2 25.7h0.85v0.85h-0.85zM39.7 31.4h0.85v0.85h-0.85zM38.6 31.8h0.85v0.85h-0.85zM36.4 40.2h0.85v0.85h-0.85zM40.4 33.6h0.85v0.85h-0.85zM39.9 25.9h0.85v0.85h-0.85zM39.7 32.5h0.85v0.85h-0.85zM41.0 26.3h0.85v0.85h-0.85zM39.5 30.5h0.85v0.85h-0.85zM38.3 40.6h0.85v0.85h-0.85zM39.8 26.1h0.85v0.85h-0.85zM38.0 36.6h0.85v0.85h-0.85zM40.1 30.9h0.85v0.85h-0.85zM39.4 27.3h0.85v0.85h-0.85zM36.8 39.9h0.85v0.85h-0.85zM41.3 32.1h0.85v0.85h-0.85zM38.6 32.0h0.85v0.85h-0.85zM39.1 37.8h0.85v0.85h-0.85zM35.5 42.0h0.85v0.85h-0.85zM37.5 38.2h0.85v0.85h-0.85zM38.5 34.6h0.85v0.85h-0.85zM37.3 37.8h0.85v0.85h-0.85zM40.8 32.7h0.85v0.85h-0.85zM36.2 40.8h0.85v0.85h-0.85zM39.3 30.5h0.85v0.85h-0.85zM40.3 26.1h0.85v0.85h-0.85zM42.1 26.2h0.85v0.85h-0.85zM40.3 31.1h0.85v0.85h-0.85zM42.5 29.9h0.85v0.85h-0.85zM40.2 37.8h0.85v0.85h-0.85zM35.0 44.1h0.85v0.85h-0.85zM40.1 37.3h0.85v0.85h-0.85zM38.9 27.5h0.85v0.85h-0.85zM42.3 26.1h0.85v0.85h-0.85zM39.0 33.6h0.85v0.85h-0.85zM39.3 38.8h0.85v0.85h-0.85zM42.5 33.4h0.85v0.85h-0.85zM41.5 26.5h0.85v0.85h-0.85zM36.9 41.3h0.85v0.85h-0.85zM40.6 26.0h0.85v0.85h-0.85zM40.3 30.4h0.85v0.85h-0.85zM37.8 35.2h0.85v0.85h-0.85zM39.3 32.1h0.85v0.85h-0.85zM41.6 25.6h0.85v0.85h-0.85zM41.3 34.8h0.85v0.85h-0.85zM41.5 35.6h0.85v0.85h-0.85zM35.1 41.8h0.85v0.85h-0.85zM39.2 25.9h0.85v0.85h-0.85zM35.6 40.9h0.85v0.85h-0.85zM38.5 40.5h0.85v0.85h-0.85zM39.0 39.2h0.85v0.85h-0.85zM42.4 31.1h0.85v0.85h-0.85zM40.6 32.1h0.85v0.85h-0.85zM39.4 31.3h0.85v0.85h-0.85zM36.7 42.0h0.85v0.85h-0.85zM41.6 30.1h0.85v0.85h-0.85zM43.2 24.6h0.85v0.85h-0.85zM41.7 34.7h0.85v0.85h-0.85zM39.4 34.9h0.85v0.85h-0.85zM38.0 35.3h0.85v0.85h-0.85zM35.0 42.7h0.85v0.85h-0.85zM40.5 37.0h0.85v0.85h-0.85zM42.9 24.9h0.85v0.85h-0.85zM41.4 26.9h0.85v0.85h-0.85zM39.1 39.7h0.85v0.85h-0.85zM37.9 33.7h0.85v0.85h-0.85zM37.0 38.9h0.85v0.85h-0.85zM38.7 40.2h0.85v0.85h-0.85zM40.6 33.1h0.85v0.85h-0.85zM34.3 42.3h0.85v0.85h-0.85zM40.8 33.9h0.85v0.85h-0.85zM42.1 26.9h0.85v0.85h-0.85zM37.3 38.5h0.85v0.85h-0.85zM41.9 31.5h0.85v0.85h-0.85zM39.4 33.0h0.85v0.85h-0.85zM41.9 25.4h0.85v0.85h-0.85zM43.1 28.4h0.85v0.85h-0.85zM39.1 30.0h0.85v0.85h-0.85zM40.5 35.4h0.85v0.85h-0.85zM39.8 30.0h0.85v0.85h-0.85zM40.8 33.5h0.85v0.85h-0.85zM38.5 29.7h0.85v0.85h-0.85zM39.9 27.6h0.85v0.85h-0.85zM38.7 27.4h0.85v0.85h-0.85zM36.7 39.0h0.85v0.85h-0.85zM43.4 26.1h0.85v0.85h-0.85zM37.4 36.1h0.85v0.85h-0.85zM35.2 41.2h0.85v0.85h-0.85zM42.9 25.9h0.85v0.85h-0.85zM43.0 29.2h0.85v0.85h-0.85zM39.4 31.2h0.85v0.85h-0.85zM36.6 40.7h0.85v0.85h-0.85zM43.0 29.0h0.85v0.85h-0.85zM37.6 35.8h0.85v0.85h-0.85zM36.4 38.4h0.85v0.85h-0.85zM40.3 25.8h0.85v0.85h-0.85zM42.8 25.3h0.85v0.85h-0.85zM40.7 31.0h0.85v0.85h-0.85zM38.5 40.2h0.85v0.85h-0.85zM39.2 29.5h0.85v0.85h-0.85zM42.0 32.2h0.85v0.85h-0.85zM36.1 41.5h0.85v0.85h-0.85zM39.5 26.8h0.85v0.85h-0.85zM39.7 32.6h0.85v0.85h-0.85zM40.8 26.5h0.85v0.85h-0.85zM36.6 40.4h0.85v0.85h-0.85zM41.2 36.1h0.85v0.85h-0.85zM40.7 26.0h0.85v0.85h-0.85zM40.7 30.5h0.85v0.85h-0.85zM41.6 27.6h0.85v0.85h-0.85zM40.4 31.4h0.85v0.85h-0.85zM41.3 33.5h0.85v0.85h-0.85zM38.6 37.9h0.85v0.85h-0.85zM39.9 32.5h0.85v0.85h-0.85zM40.1 39.0h0.85v0.85h-0.85zM43.4 25.1h0.85v0.85h-0.85zM41.1 36.8h0.85v0.85h-0.85zM40.1 28.0h0.85v0.85h-0.85zM42.2 32.3h0.85v0.85h-0.85zM40.0 35.0h0.85v0.85h-0.85zM36.6 39.9h0.85v0.85h-0.85zM37.2 42.0h0.85v0.85h-0.85zM41.7 26.0h0.85v0.85h-0.85zM41.4 31.8h0.85v0.85h-0.85zM39.1 32.5h0.85v0.85h-0.85zM40.1 30.2h0.85v0.85h-0.85zM41.6 26.3h0.85v0.85h-0.85zM39.0 28.6h0.85v0.85h-0.85zM42.2 26.3h0.85v0.85h-0.85zM43.2 25.5h0.85v0.85h-0.85zM41.2 28.5h0.85v0.85h-0.85zM43.4 25.0h0.85v0.85h-0.85zM40.7 34.5h0.85v0.85h-0.85zM41.3 30.7h0.85v0.85h-0.85zM38.0 39.1h0.85v0.85h-0.85zM37.1 41.3h0.85v0.85h-0.85zM41.1 35.6h0.85v0.85h-0.85zM38.0 35.5h0.85v0.85h-0.85zM41.0 36.5h0.85v0.85h-0.85zM35.6 41.6h0.85v0.85h-0.85zM39.6 36.9h0.85v0.85h-0.85zM41.1 34.0h0.85v0.85h-0.85zM42.6 33.2h0.85v0.85h-0.85zM36.1 40.7h0.85v0.85h-0.85zM42.5 26.3h0.85v0.85h-0.85zM38.9 35.4h0.85v0.85h-0.85zM39.9 37.7h0.85v0.85h-0.85zM40.0 36.6h0.85v0.85h-0.85zM36.1 41.5h0.85v0.85h-0.85zM40.5 28.6h0.85v0.85h-0.85zM41.6 27.6h0.85v0.85h-0.85zM40.2 36.9h0.85v0.85h-0.85zM41.2 28.1h0.85v0.85h-0.85zM39.2 27.3h0.85v0.85h-0.85zM39.7 34.7h0.85v0.85h-0.85zM39.5 36.2h0.85v0.85h-0.85zM39.1 30.8h0.85v0.85h-0.85zM38.1 34.9h0.85v0.85h-0.85zM41.4 34.9h0.85v0.85h-0.85zM40.9 36.9h0.85v0.85h-0.85zM41.3 28.3h0.85v0.85h-0.85zM39.5 32.9h0.85v0.85h-0.85zM36.4 39.9h0.85v0.85h-0.85zM38.8 32.6h0.85v0.85h-0.85zM41.6 29.2h0.85v0.85h-0.85zM40.4 34.0h0.85v0.85h-0.85zM45.3 32.4h0.85v0.85h-0.85zM45.5 23.7h0.85v0.85h-0.85zM43.7 31.8h0.85v0.85h-0.85zM46.1 29.7h0.85v0.85h-0.85zM43.3 36.3h0.85v0.85h-0.85zM45.6 37.3h0.85v0.85h-0.85zM44.4 29.6h0.85v0.85h-0.85zM47.6 33.5h0.85v0.85h-0.85zM50.1 28.7h0.85v0.85h-0.85zM46.2 33.3h0.85v0.85h-0.85zM44.0 34.4h0.85v0.85h-0.85zM42.8 39.6h0.85v0.85h-0.85zM43.9 27.6h0.85v0.85h-0.85zM41.8 37.3h0.85v0.85h-0.85zM49.5 35.7h0.85v0.85h-0.85zM49.6 24.6h0.85v0.85h-0.85zM49.9 31.2h0.85v0.85h-0.85zM41.2 38.8h0.85v0.85h-0.85zM46.7 38.5h0.85v0.85h-0.85zM45.3 24.4h0.85v0.85h-0.85zM48.7 31.9h0.85v0.85h-0.85zM47.2 38.5h0.85v0.85h-0.85zM46.8 31.0h0.85v0.85h-0.85zM45.3 25.0h0.85v0.85h-0.85zM48.6 32.5h0.85v0.85h-0.85zM43.1 38.0h0.85v0.85h-0.85zM44.2 30.8h0.85v0.85h-0.85zM42.4 36.3h0.85v0.85h-0.85zM45.9 37.1h0.85v0.85h-0.85zM47.2 24.2h0.85v0.85h-0.85zM49.1 30.3h0.85v0.85h-0.85zM50.8 26.7h0.85v0.85h-0.85zM45.9 32.5h0.85v0.85h-0.85zM45.0 28.5h0.85v0.85h-0.85zM50.1 35.3h0.85v0.85h-0.85zM49.2 31.2h0.85v0.85h-0.85zM47.4 38.4h0.85v0.85h-0.85zM42.5 38.6h0.85v0.85h-0.85zM47.1 33.9h0.85v0.85h-0.85zM49.3 32.1h0.85v0.85h-0.85zM47.8 23.9h0.85v0.85h-0.85zM49.7 32.6h0.85v0.85h-0.85zM46.8 26.9h0.85v0.85h-0.85zM46.6 38.4h0.85v0.85h-0.85zM43.9 30.5h0.85v0.85h-0.85zM47.6 25.8h0.85v0.85h-0.85zM46.8 28.4h0.85v0.85h-0.85zM45.3 35.7h0.85v0.85h-0.85zM43.2 33.6h0.85v0.85h-0.85zM50.0 31.1h0.85v0.85h-0.85zM47.4 27.8h0.85v0.85h-0.85zM46.1 26.6h0.85v0.85h-0.85zM49.3 31.7h0.85v0.85h-0.85zM43.8 27.1h0.85v0.85h-0.85zM48.1 28.7h0.85v0.85h-0.85zM44.9 35.2h0.85v0.85h-0.85zM49.5 35.1h0.85v0.85h-0.85zM46.8 24.3h0.85v0.85h-0.85zM45.3 32.1h0.85v0.85h-0.85zM45.8 31.3h0.85v0.85h-0.85zM48.4 33.6h0.85v0.85h-0.85zM47.7 31.8h0.85v0.85h-0.85zM50.2 33.7h0.85v0.85h-0.85zM47.6 37.5h0.85v0.85h-0.85zM49.9 28.8h0.85v0.85h-0.85zM40.9 38.6h0.85v0.85h-0.85zM50.7 24.4h0.85v0.85h-0.85zM46.7 25.8h0.85v0.85h-0.85zM43.4 25.2h0.85v0.85h-0.85zM47.8 34.5h0.85v0.85h-0.85zM46.5 34.7h0.85v0.85h-0.85zM48.6 43.1h0.85v0.85h-0.85zM26.3 36.2h0.85v0.85h-0.85zM36.4 39.1h0.85v0.85h-0.85zM37.7 36.3h0.85v0.85h-0.85zM45.5 38.4h0.85v0.85h-0.85zM43.9 36.0h0.85v0.85h-0.85zM35.0 44.9h0.85v0.85h-0.85zM37.2 34.2h0.85v0.85h-0.85zM37.8 43.6h0.85v0.85h-0.85zM37.8 35.8h0.85v0.85h-0.85zM42.2 43.3h0.85v0.85h-0.85zM37.6 37.6h0.85v0.85h-0.85zM36.7 50.9h0.85v0.85h-0.85zM37.7 46.7h0.85v0.85h-0.85zM37.9 40.8h0.85v0.85h-0.85z" fill="#0a0aff" opacity="0.85"/>
<polygon points="51.4,23.6 57.4,23.6 55.9,27.2 54.4,30.9 53.2,33.9 51.4,34.7" fill="#4aa02a" opacity="0.73"/>
<path d="M56.1 24.1h0.8v0.8h-0.8zM54.3 31.0h0.8v0.8h-0.8zM54.5 25.6h0.8v0.8h-0.8zM55.6 25.0h0.8v0.8h-0.8zM53.3 33.1h0.8v0.8h-0.8zM54.8 29.3h0.8v0.8h-0.8zM53.7 29.7h0.8v0.8h-0.8zM51.5 27.5h0.8v0.8h-0.8zM52.3 33.1h0.8v0.8h-0.8zM53.1 32.5h0.8v0.8h-0.8zM55.8 26.6h0.8v0.8h-0.8zM52.9 28.2h0.8v0.8h-0.8zM53.6 24.5h0.8v0.8h-0.8zM54.3 29.7h0.8v0.8h-0.8zM56.7 24.4h0.8v0.8h-0.8zM53.5 31.2h0.8v0.8h-0.8zM54.6 29.1h0.8v0.8h-0.8zM53.0 26.1h0.8v0.8h-0.8zM55.4 27.4h0.8v0.8h-0.8zM54.5 24.8h0.8v0.8h-0.8zM53.6 24.4h0.8v0.8h-0.8zM53.1 33.9h0.8v0.8h-0.8zM51.7 33.0h0.8v0.8h-0.8zM56.5 24.4h0.8v0.8h-0.8zM53.7 28.3h0.8v0.8h-0.8zM53.4 23.7h0.8v0.8h-0.8zM55.3 24.4h0.8v0.8h-0.8zM51.9 33.6h0.8v0.8h-0.8zM53.6 28.8h0.8v0.8h-0.8zM55.2 24.3h0.8v0.8h-0.8zM52.3 32.0h0.8v0.8h-0.8zM52.5 27.4h0.8v0.8h-0.8zM53.4 33.1h0.8v0.8h-0.8zM51.8 27.2h0.8v0.8h-0.8zM51.9 34.1h0.8v0.8h-0.8zM53.6 27.9h0.8v0.8h-0.8zM55.2 28.5h0.8v0.8h-0.8zM53.1 29.4h0.8v0.8h-0.8zM54.3 25.2h0.8v0.8h-0.8zM52.3 29.2h0.8v0.8h-0.8zM51.8 34.0h0.8v0.8h-0.8zM52.2 33.4h0.8v0.8h-0.8zM51.7 30.8h0.8v0.8h-0.8zM52.3 26.5h0.8v0.8h-0.8zM53.9 32.0h0.8v0.8h-0.8zM54.0 28.2h0.8v0.8h-0.8zM53.8 29.4h0.8v0.8h-0.8zM52.5 25.1h0.8v0.8h-0.8zM54.7 27.5h0.8v0.8h-0.8zM55.7 24.0h0.8v0.8h-0.8zM55.5 27.6h0.8v0.8h-0.8zM54.0 27.1h0.8v0.8h-0.8zM54.6 26.7h0.8v0.8h-0.8zM55.4 28.2h0.8v0.8h-0.8zM55.6 26.8h0.8v0.8h-0.8zM54.1 29.8h0.8v0.8h-0.8zM54.0 24.6h0.8v0.8h-0.8zM52.1 25.2h0.8v0.8h-0.8zM52.5 25.6h0.8v0.8h-0.8zM55.4 27.4h0.8v0.8h-0.8zM52.9 25.6h0.8v0.8h-0.8zM52.3 31.2h0.8v0.8h-0.8zM54.9 26.4h0.8v0.8h-0.8zM54.0 30.3h0.8v0.8h-0.8zM55.3 28.5h0.8v0.8h-0.8zM51.9 27.6h0.8v0.8h-0.8zM55.2 24.6h0.8v0.8h-0.8zM53.6 27.7h0.8v0.8h-0.8zM54.5 26.4h0.8v0.8h-0.8zM52.7 25.0h0.8v0.8h-0.8zM56.4 23.9h0.8v0.8h-0.8zM55.1 28.4h0.8v0.8h-0.8zM53.9 25.2h0.8v0.8h-0.8zM54.7 26.6h0.8v0.8h-0.8zM52.1 33.3h0.8v0.8h-0.8zM53.2 30.0h0.8v0.8h-0.8zM53.1 32.8h0.8v0.8h-0.8zM52.7 30.8h0.8v0.8h-0.8zM54.7 27.2h0.8v0.8h-0.8zM51.9 29.0h0.8v0.8h-0.8zM52.6 25.7h0.8v0.8h-0.8zM53.2 32.5h0.8v0.8h-0.8zM52.8 30.6h0.8v0.8h-0.8zM51.6 24.5h0.8v0.8h-0.8zM52.1 28.8h0.8v0.8h-0.8zM54.7 28.3h0.8v0.8h-0.8zM54.4 24.1h0.8v0.8h-0.8zM53.5 26.8h0.8v0.8h-0.8zM52.5 34.0h0.8v0.8h-0.8zM52.6 24.0h0.8v0.8h-0.8zM55.8 25.4h0.8v0.8h-0.8zM54.8 23.8h0.8v0.8h-0.8zM51.5 25.4h0.8v0.8h-0.8zM54.5 23.7h0.8v0.8h-0.8zM56.5 24.1h0.8v0.8h-0.8zM52.7 28.1h0.8v0.8h-0.8zM51.9 30.0h0.8v0.8h-0.8z" fill="#2c9a10" opacity="0.9"/>
<path d="M45.2 22.7h0.8v0.8h-0.8zM44.8 22.7h0.8v0.8h-0.8zM48.3 22.7h0.8v0.8h-0.8zM50.8 21.9h0.8v0.8h-0.8zM48.8 22.1h0.8v0.8h-0.8zM50.4 23.0h0.8v0.8h-0.8zM49.4 22.5h0.8v0.8h-0.8zM45.5 23.1h0.8v0.8h-0.8zM51.0 23.2h0.8v0.8h-0.8zM46.1 22.9h0.8v0.8h-0.8zM48.7 23.0h0.8v0.8h-0.8zM49.7 22.2h0.8v0.8h-0.8zM46.5 22.9h0.8v0.8h-0.8zM48.5 22.4h0.8v0.8h-0.8zM50.2 21.4h0.8v0.8h-0.8zM43.6 22.2h0.8v0.8h-0.8zM44.2 23.0h0.8v0.8h-0.8zM44.2 23.1h0.8v0.8h-0.8zM45.2 21.6h0.8v0.8h-0.8zM49.3 22.7h0.8v0.8h-0.8zM46.7 22.5h0.8v0.8h-0.8zM47.8 23.2h0.8v0.8h-0.8zM47.4 22.4h0.8v0.8h-0.8zM47.1 22.1h0.8v0.8h-0.8zM48.8 21.5h0.8v0.8h-0.8zM48.8 23.2h0.8v0.8h-0.8zM49.4 22.4h0.8v0.8h-0.8zM46.2 21.5h0.8v0.8h-0.8zM44.2 22.4h0.8v0.8h-0.8zM50.3 23.0h0.8v0.8h-0.8zM44.9 22.8h0.8v0.8h-0.8zM49.7 22.3h0.8v0.8h-0.8zM50.1 21.7h0.8v0.8h-0.8zM46.1 22.3h0.8v0.8h-0.8zM49.1 22.2h0.8v0.8h-0.8zM45.8 23.0h0.8v0.8h-0.8zM46.5 22.1h0.8v0.8h-0.8zM45.2 22.3h0.8v0.8h-0.8zM48.9 22.0h0.8v0.8h-0.8zM48.6 22.3h0.8v0.8h-0.8zM43.6 23.2h0.8v0.8h-0.8zM45.7 22.4h0.8v0.8h-0.8zM50.9 21.7h0.8v0.8h-0.8zM44.0 21.7h0.8v0.8h-0.8zM44.7 23.0h0.8v0.8h-0.8zM47.5 21.4h0.8v0.8h-0.8zM45.6 22.3h0.8v0.8h-0.8zM44.8 21.9h0.8v0.8h-0.8zM50.5 22.2h0.8v0.8h-0.8zM45.3 22.5h0.8v0.8h-0.8zM44.4 22.3h0.8v0.8h-0.8zM48.5 21.5h0.8v0.8h-0.8zM47.7 21.9h0.8v0.8h-0.8z" fill="#ff2a2a" opacity="0.75"/>
<polygon points="51.6,23.0 52.0,20.8 54.0,20.1 56.0,20.8 56.2,23.0" fill="#a040f0" opacity="0.55" filter="url(#fb)"/>
<path d="M55.0 21.9h0.8v0.8h-0.8zM55.8 21.9h0.8v0.8h-0.8zM52.4 20.7h0.8v0.8h-0.8zM54.8 22.5h0.8v0.8h-0.8zM51.9 21.4h0.8v0.8h-0.8zM52.9 21.5h0.8v0.8h-0.8zM55.6 21.8h0.8v0.8h-0.8zM55.0 22.4h0.8v0.8h-0.8zM52.9 22.0h0.8v0.8h-0.8zM53.3 21.5h0.8v0.8h-0.8zM54.0 22.1h0.8v0.8h-0.8zM52.4 22.6h0.8v0.8h-0.8zM52.3 21.0h0.8v0.8h-0.8zM55.5 23.1h0.8v0.8h-0.8zM53.3 23.0h0.8v0.8h-0.8zM51.8 23.0h0.8v0.8h-0.8zM52.5 20.2h0.8v0.8h-0.8zM55.1 20.6h0.8v0.8h-0.8zM55.1 20.1h0.8v0.8h-0.8zM52.2 21.2h0.8v0.8h-0.8zM52.0 21.5h0.8v0.8h-0.8zM53.2 22.3h0.8v0.8h-0.8zM53.9 23.0h0.8v0.8h-0.8zM55.5 20.6h0.8v0.8h-0.8zM55.8 22.8h0.8v0.8h-0.8zM54.2 21.7h0.8v0.8h-0.8zM52.4 21.1h0.8v0.8h-0.8z" fill="#a040f0" opacity="0.75"/>
<rect x="-1.90" y="0.00" width="2.50" height="72.00" fill="#6c6cff" stroke="none" stroke-width="0" />
<rect x="-1.20" y="70.20" width="71.20" height="2.50" fill="#6c6cff" stroke="none" stroke-width="0" />
<path d="M-1.9 1.2h2.5v2.6h-2.5zM-1.9 6.2h2.5v1.2h-2.5zM-1.9 11.0h2.5v2.6h-2.5zM-1.9 16.0h2.5v1.2h-2.5zM-1.9 20.8h2.5v2.6h-2.5zM-1.9 25.8h2.5v1.2h-2.5zM-1.9 30.6h2.5v2.6h-2.5zM-1.9 35.6h2.5v1.2h-2.5zM-1.9 40.4h2.5v2.6h-2.5zM-1.9 45.4h2.5v1.2h-2.5zM-1.9 50.2h2.5v2.6h-2.5zM-1.9 55.2h2.5v1.2h-2.5zM-1.9 60.0h2.5v2.6h-2.5zM-1.9 65.0h2.5v1.2h-2.5zM-1.9 69.8h2.5v2.6h-2.5zM-1.9 74.8h2.5v1.2h-2.5zM-0.5 70.2h3.2v2.5h-3.2zM4.7 70.2h1.5v2.5h-1.5zM9.2 70.2h3.2v2.5h-3.2zM14.4 70.2h1.5v2.5h-1.5zM18.9 70.2h3.2v2.5h-3.2zM24.1 70.2h1.5v2.5h-1.5zM28.6 70.2h3.2v2.5h-3.2zM33.8 70.2h1.5v2.5h-1.5zM38.3 70.2h3.2v2.5h-3.2zM43.5 70.2h1.5v2.5h-1.5zM48.0 70.2h3.2v2.5h-3.2zM53.2 70.2h1.5v2.5h-1.5zM57.7 70.2h3.2v2.5h-3.2zM62.9 70.2h1.5v2.5h-1.5zM67.4 70.2h3.2v2.5h-3.2zM72.6 70.2h1.5v2.5h-1.5z" fill="#1010ff"/>
<path d="M-6.8 -0.3l1.5 1.3l0.5 2.3M-6.6 2.3l0.3 0.4 M-6.8 9.5l1.5 1.3l0.5 2.3M-6.6 12.1l0.3 0.4 M-6.8 19.3l1.5 1.3l0.5 2.3M-6.6 21.9l0.3 0.4 M-6.8 29.1l1.5 1.3l0.5 2.3M-6.6 31.7l0.3 0.4 M-6.8 38.9l1.5 1.3l0.5 2.3M-6.6 41.5l0.3 0.4 M-6.8 48.7l1.5 1.3l0.5 2.3M-6.6 51.3l0.3 0.4 M-6.8 58.5l1.5 1.3l0.5 2.3M-6.6 61.1l0.3 0.4 M-6.8 68.3l1.5 1.3l0.5 2.3M-6.6 70.9l0.3 0.4 M-0.8 76.8l1.8-0.3l1.4-1.4l0.2-1.1M2.1 77.1l0.4 0.2 M8.9 76.8l1.8-0.3l1.4-1.4l0.2-1.1M11.8 77.1l0.4 0.2 M18.6 76.8l1.8-0.3l1.4-1.4l0.2-1.1M21.5 77.1l0.4 0.2 M28.3 76.8l1.8-0.3l1.4-1.4l0.2-1.1M31.2 77.1l0.4 0.2 M38.0 76.8l1.8-0.3l1.4-1.4l0.2-1.1M40.9 77.1l0.4 0.2 M47.7 76.8l1.8-0.3l1.4-1.4l0.2-1.1M50.6 77.1l0.4 0.2 M57.4 76.8l1.8-0.3l1.4-1.4l0.2-1.1M60.3 77.1l0.4 0.2 M67.1 76.8l1.8-0.3l1.4-1.4l0.2-1.1M70.0 77.1l0.4 0.2" fill="none" stroke="#2a2af0" stroke-width="1.0"/>
<text x="71.2" y="77.1" font-size="3.8" font-family="'Liberation Sans',Arial,sans-serif" fill="#3a3af0">2</text>
<text transform="translate(-8.6,43.4) rotate(-90)" font-size="3.9" font-family="'Liberation Sans',Arial,sans-serif" fill="#222" text-anchor="middle">PI-A</text>
<text x="37.1" y="81.1" font-size="3.9" font-family="'Liberation Sans',Arial,sans-serif" fill="#222" text-anchor="middle">FITC-A</text>
<text transform="translate(1.0,4.7) scale(1.12,1)" font-size="4.5" font-family="'Liberation Sans',Arial,sans-serif" fill="#f04848" opacity="0.85">Q1-UL</text>
<text transform="translate(1.0,8.8) scale(1.12,1)" font-size="4.5" font-family="'Liberation Sans',Arial,sans-serif" fill="#f04848" opacity="0.85">2.4%</text>
<text transform="translate(54.6,4.7) scale(1.12,1)" font-size="4.5" font-family="'Liberation Sans',Arial,sans-serif" fill="#b060e0" opacity="0.85">Q1-UR</text>
<text transform="translate(54.6,8.8) scale(1.12,1)" font-size="4.5" font-family="'Liberation Sans',Arial,sans-serif" fill="#b060e0" opacity="0.85">7.0%</text>
<text transform="translate(1.0,65.6) scale(1.12,1)" font-size="4.5" font-family="'Liberation Sans',Arial,sans-serif" fill="#2020d0" opacity="0.85">Q1-LL</text>
<text transform="translate(1.0,69.6) scale(1.12,1)" font-size="4.5" font-family="'Liberation Sans',Arial,sans-serif" fill="#2020d0" opacity="0.85">70.6%</text>
<text transform="translate(54.6,65.6) scale(1.12,1)" font-size="4.5" font-family="'Liberation Sans',Arial,sans-serif" fill="#48a030" opacity="0.85">Q1-LR</text>
<text transform="translate(54.6,69.6) scale(1.12,1)" font-size="4.5" font-family="'Liberation Sans',Arial,sans-serif" fill="#48a030" opacity="0.85">19.2%</text>
</g>
<g transform="translate(42,124.8)">
<rect x="0.00" y="0.00" width="70.00" height="70.50" fill="none" stroke="#7a7aff" stroke-width="0.9" />
<line x1="54.4" y1="0" x2="54.4" y2="70.5" stroke="#f28080" stroke-width="1.15" />
<line x1="0" y1="21.6" x2="70" y2="21.6" stroke="#f28080" stroke-width="1.15" />
<polygon points="28.0,44.0 32.7,39.0 38.5,36.5 44.4,36.0 45.7,38.6 41.9,42.1 36.2,46.1 31.5,48.9 27.7,47.8" fill="#0a0aff" opacity="0.88" filter="url(#fb)"/>
<path d="M37.4 37.1h0.85v0.85h-0.85zM37.7 35.8h0.85v0.85h-0.85zM39.2 37.1h0.85v0.85h-0.85zM34.8 39.3h0.85v0.85h-0.85zM35.4 36.1h0.85v0.85h-0.85zM36.9 36.1h0.85v0.85h-0.85zM31.0 40.4h0.85v0.85h-0.85zM37.7 34.0h0.85v0.85h-0.85zM38.4 36.6h0.85v0.85h-0.85zM27.3 44.3h0.85v0.85h-0.85zM42.4 36.8h0.85v0.85h-0.85zM33.4 39.6h0.85v0.85h-0.85zM35.4 35.5h0.85v0.85h-0.85zM26.6 44.0h0.85v0.85h-0.85zM32.9 38.9h0.85v0.85h-0.85zM38.6 33.9h0.85v0.85h-0.85zM28.0 44.4h0.85v0.85h-0.85zM38.5 35.1h0.85v0.85h-0.85zM39.1 37.0h0.85v0.85h-0.85zM30.5 39.3h0.85v0.85h-0.85zM31.8 40.3h0.85v0.85h-0.85zM31.7 38.5h0.85v0.85h-0.85zM31.0 41.2h0.85v0.85h-0.85zM33.3 39.0h0.85v0.85h-0.85zM28.1 44.8h0.85v0.85h-0.85zM30.7 39.3h0.85v0.85h-0.85zM38.6 34.6h0.85v0.85h-0.85zM27.9 44.1h0.85v0.85h-0.85zM38.0 36.7h0.85v0.85h-0.85zM27.7 41.8h0.85v0.85h-0.85zM28.7 42.1h0.85v0.85h-0.85zM38.4 35.7h0.85v0.85h-0.85zM27.1 45.3h0.85v0.85h-0.85zM31.1 39.9h0.85v0.85h-0.85zM39.3 35.4h0.85v0.85h-0.85zM35.1 36.6h0.85v0.85h-0.85zM40.9 37.0h0.85v0.85h-0.85zM28.7 44.2h0.85v0.85h-0.85zM33.7 37.4h0.85v0.85h-0.85zM28.4 41.9h0.85v0.85h-0.85zM38.7 37.1h0.85v0.85h-0.85zM38.9 34.5h0.85v0.85h-0.85zM40.8 37.2h0.85v0.85h-0.85zM28.9 43.0h0.85v0.85h-0.85zM36.1 38.4h0.85v0.85h-0.85zM32.2 38.1h0.85v0.85h-0.85zM38.1 37.4h0.85v0.85h-0.85zM38.3 36.0h0.85v0.85h-0.85zM27.7 43.7h0.85v0.85h-0.85zM31.5 40.0h0.85v0.85h-0.85zM28.0 42.2h0.85v0.85h-0.85zM34.9 37.8h0.85v0.85h-0.85zM36.0 37.6h0.85v0.85h-0.85zM37.2 36.1h0.85v0.85h-0.85zM29.7 41.4h0.85v0.85h-0.85zM29.3 40.6h0.85v0.85h-0.85zM33.7 39.2h0.85v0.85h-0.85zM30.5 40.6h0.85v0.85h-0.85zM32.3 38.5h0.85v0.85h-0.85zM32.5 40.0h0.85v0.85h-0.85zM35.1 39.0h0.85v0.85h-0.85zM33.5 39.6h0.85v0.85h-0.85zM27.9 43.4h0.85v0.85h-0.85zM27.9 42.2h0.85v0.85h-0.85zM29.5 41.5h0.85v0.85h-0.85zM40.9 37.3h0.85v0.85h-0.85zM27.2 45.9h0.85v0.85h-0.85zM34.1 38.9h0.85v0.85h-0.85zM34.0 37.6h0.85v0.85h-0.85zM39.3 37.0h0.85v0.85h-0.85zM33.0 40.1h0.85v0.85h-0.85zM35.8 36.6h0.85v0.85h-0.85zM35.7 35.6h0.85v0.85h-0.85zM28.2 44.4h0.85v0.85h-0.85zM32.8 40.0h0.85v0.85h-0.85zM46.2 34.6h0.85v0.85h-0.85zM42.8 26.3h0.85v0.85h-0.85zM44.7 31.8h0.85v0.85h-0.85zM46.5 33.0h0.85v0.85h-0.85zM44.6 30.6h0.85v0.85h-0.85zM43.9 31.7h0.85v0.85h-0.85zM41.3 29.3h0.85v0.85h-0.85zM42.8 30.5h0.85v0.85h-0.85zM39.8 31.9h0.85v0.85h-0.85zM46.2 33.4h0.85v0.85h-0.85zM53.4 27.3h0.85v0.85h-0.85zM52.0 25.4h0.85v0.85h-0.85zM44.4 25.5h0.85v0.85h-0.85zM53.3 26.2h0.85v0.85h-0.85zM43.2 30.7h0.85v0.85h-0.85zM44.4 36.2h0.85v0.85h-0.85zM45.6 26.3h0.85v0.85h-0.85zM49.2 35.3h0.85v0.85h-0.85zM40.6 28.5h0.85v0.85h-0.85zM44.3 32.9h0.85v0.85h-0.85zM45.2 31.6h0.85v0.85h-0.85zM40.6 31.2h0.85v0.85h-0.85zM52.8 32.5h0.85v0.85h-0.85zM50.6 23.0h0.85v0.85h-0.85zM48.3 22.3h0.85v0.85h-0.85zM50.2 33.9h0.85v0.85h-0.85zM43.7 34.2h0.85v0.85h-0.85zM53.9 27.5h0.85v0.85h-0.85zM43.4 32.9h0.85v0.85h-0.85zM52.1 28.0h0.85v0.85h-0.85zM45.2 34.0h0.85v0.85h-0.85zM49.7 34.4h0.85v0.85h-0.85zM53.3 22.2h0.85v0.85h-0.85zM44.2 33.8h0.85v0.85h-0.85zM46.3 23.4h0.85v0.85h-0.85zM51.7 33.4h0.85v0.85h-0.85zM46.1 30.4h0.85v0.85h-0.85zM51.3 29.4h0.85v0.85h-0.85zM50.2 33.0h0.85v0.85h-0.85zM43.8 33.6h0.85v0.85h-0.85zM44.5 32.1h0.85v0.85h-0.85zM44.5 35.5h0.85v0.85h-0.85zM44.6 27.3h0.85v0.85h-0.85zM39.0 30.2h0.85v0.85h-0.85zM53.3 23.0h0.85v0.85h-0.85zM52.7 30.6h0.85v0.85h-0.85zM49.9 33.3h0.85v0.85h-0.85zM45.2 23.8h0.85v0.85h-0.85zM50.0 25.3h0.85v0.85h-0.85zM46.4 29.7h0.85v0.85h-0.85zM44.3 29.3h0.85v0.85h-0.85zM52.9 24.7h0.85v0.85h-0.85zM50.8 27.7h0.85v0.85h-0.85zM50.3 26.5h0.85v0.85h-0.85zM52.7 29.9h0.85v0.85h-0.85zM48.8 34.5h0.85v0.85h-0.85zM52.7 27.8h0.85v0.85h-0.85zM50.1 34.5h0.85v0.85h-0.85zM44.3 28.3h0.85v0.85h-0.85zM44.3 27.1h0.85v0.85h-0.85zM45.1 34.7h0.85v0.85h-0.85zM48.7 26.5h0.85v0.85h-0.85zM44.6 29.5h0.85v0.85h-0.85zM42.0 25.8h0.85v0.85h-0.85zM52.0 31.6h0.85v0.85h-0.85zM44.2 30.6h0.85v0.85h-0.85zM41.4 30.1h0.85v0.85h-0.85zM43.7 25.9h0.85v0.85h-0.85zM50.3 27.4h0.85v0.85h-0.85zM50.3 33.2h0.85v0.85h-0.85zM51.9 30.3h0.85v0.85h-0.85zM47.2 35.6h0.85v0.85h-0.85zM48.3 28.1h0.85v0.85h-0.85zM47.6 34.5h0.85v0.85h-0.85zM40.6 34.7h0.85v0.85h-0.85zM43.4 25.8h0.85v0.85h-0.85zM42.8 29.9h0.85v0.85h-0.85zM53.4 24.6h0.85v0.85h-0.85zM43.1 27.6h0.85v0.85h-0.85zM49.2 24.3h0.85v0.85h-0.85zM39.2 30.7h0.85v0.85h-0.85zM50.0 24.0h0.85v0.85h-0.85zM39.3 32.0h0.85v0.85h-0.85zM49.5 24.4h0.85v0.85h-0.85zM44.8 34.6h0.85v0.85h-0.85zM43.3 28.1h0.85v0.85h-0.85zM44.0 28.5h0.85v0.85h-0.85zM44.9 25.2h0.85v0.85h-0.85zM44.1 33.8h0.85v0.85h-0.85zM41.5 29.2h0.85v0.85h-0.85zM43.0 30.7h0.85v0.85h-0.85zM50.8 23.7h0.85v0.85h-0.85zM46.2 24.8h0.85v0.85h-0.85zM42.0 25.5h0.85v0.85h-0.85zM43.3 26.9h0.85v0.85h-0.85zM51.1 27.9h0.85v0.85h-0.85zM45.8 25.0h0.85v0.85h-0.85zM45.8 36.3h0.85v0.85h-0.85zM40.0 27.9h0.85v0.85h-0.85zM41.6 34.7h0.85v0.85h-0.85zM43.3 29.3h0.85v0.85h-0.85zM39.3 32.4h0.85v0.85h-0.85zM46.7 34.0h0.85v0.85h-0.85zM50.0 33.2h0.85v0.85h-0.85zM42.7 25.8h0.85v0.85h-0.85zM48.0 22.7h0.85v0.85h-0.85zM53.4 32.8h0.85v0.85h-0.85zM46.3 27.4h0.85v0.85h-0.85zM39.7 30.3h0.85v0.85h-0.85zM50.8 23.8h0.85v0.85h-0.85zM40.1 32.3h0.85v0.85h-0.85zM46.0 33.9h0.85v0.85h-0.85zM45.0 36.7h0.85v0.85h-0.85zM52.4 26.8h0.85v0.85h-0.85zM45.7 34.3h0.85v0.85h-0.85zM49.7 34.3h0.85v0.85h-0.85zM42.5 29.6h0.85v0.85h-0.85zM45.6 24.4h0.85v0.85h-0.85zM50.3 33.1h0.85v0.85h-0.85zM48.4 35.7h0.85v0.85h-0.85zM41.1 31.5h0.85v0.85h-0.85zM46.9 25.8h0.85v0.85h-0.85zM40.9 28.0h0.85v0.85h-0.85zM41.2 29.0h0.85v0.85h-0.85zM41.1 33.0h0.85v0.85h-0.85zM52.4 26.9h0.85v0.85h-0.85zM39.8 31.7h0.85v0.85h-0.85zM52.7 24.2h0.85v0.85h-0.85zM52.0 27.7h0.85v0.85h-0.85zM53.3 26.6h0.85v0.85h-0.85zM44.1 36.6h0.85v0.85h-0.85zM40.2 27.5h0.85v0.85h-0.85zM43.1 36.2h0.85v0.85h-0.85zM45.2 36.6h0.85v0.85h-0.85zM52.8 23.1h0.85v0.85h-0.85zM43.0 34.5h0.85v0.85h-0.85zM45.3 36.8h0.85v0.85h-0.85zM47.4 36.2h0.85v0.85h-0.85zM53.3 27.6h0.85v0.85h-0.85zM48.9 22.3h0.85v0.85h-0.85zM49.4 33.4h0.85v0.85h-0.85zM39.6 30.2h0.85v0.85h-0.85zM40.2 34.7h0.85v0.85h-0.85zM41.4 28.4h0.85v0.85h-0.85zM48.2 34.9h0.85v0.85h-0.85zM52.7 26.9h0.85v0.85h-0.85zM38.9 32.0h0.85v0.85h-0.85zM51.3 34.2h0.85v0.85h-0.85zM48.4 34.3h0.85v0.85h-0.85zM40.5 36.2h0.85v0.85h-0.85zM49.1 23.4h0.85v0.85h-0.85zM41.2 31.6h0.85v0.85h-0.85zM43.4 36.1h0.85v0.85h-0.85zM42.9 29.3h0.85v0.85h-0.85zM46.5 36.1h0.85v0.85h-0.85zM43.3 35.4h0.85v0.85h-0.85zM48.8 23.8h0.85v0.85h-0.85zM48.7 27.2h0.85v0.85h-0.85zM44.7 34.3h0.85v0.85h-0.85zM51.9 33.2h0.85v0.85h-0.85zM48.2 23.2h0.85v0.85h-0.85zM52.8 22.7h0.85v0.85h-0.85zM40.4 31.9h0.85v0.85h-0.85zM41.6 33.3h0.85v0.85h-0.85zM49.4 24.5h0.85v0.85h-0.85zM49.6 23.3h0.85v0.85h-0.85zM44.4 32.6h0.85v0.85h-0.85zM44.3 24.5h0.85v0.85h-0.85zM45.8 24.1h0.85v0.85h-0.85zM46.0 23.5h0.85v0.85h-0.85zM50.1 25.2h0.85v0.85h-0.85zM53.4 23.6h0.85v0.85h-0.85zM41.7 31.4h0.85v0.85h-0.85zM41.4 29.2h0.85v0.85h-0.85zM42.4 27.0h0.85v0.85h-0.85zM52.5 22.8h0.85v0.85h-0.85zM40.2 34.6h0.85v0.85h-0.85zM45.7 26.4h0.85v0.85h-0.85zM39.8 34.4h0.85v0.85h-0.85zM50.6 25.0h0.85v0.85h-0.85zM43.6 29.8h0.85v0.85h-0.85zM50.5 29.6h0.85v0.85h-0.85zM47.5 22.7h0.85v0.85h-0.85zM40.6 32.1h0.85v0.85h-0.85zM40.6 35.5h0.85v0.85h-0.85zM47.3 30.9h0.85v0.85h-0.85zM40.4 27.0h0.85v0.85h-0.85zM44.4 33.1h0.85v0.85h-0.85zM41.4 28.9h0.85v0.85h-0.85zM53.1 24.6h0.85v0.85h-0.85zM44.0 31.2h0.85v0.85h-0.85zM46.9 34.6h0.85v0.85h-0.85zM40.0 31.0h0.85v0.85h-0.85zM43.5 33.3h0.85v0.85h-0.85zM40.9 33.5h0.85v0.85h-0.85zM42.4 32.3h0.85v0.85h-0.85zM51.3 26.0h0.85v0.85h-0.85zM52.9 26.7h0.85v0.85h-0.85zM53.7 30.7h0.85v0.85h-0.85zM50.9 27.6h0.85v0.85h-0.85zM52.8 25.3h0.85v0.85h-0.85zM46.8 24.2h0.85v0.85h-0.85zM41.2 26.4h0.85v0.85h-0.85zM39.3 30.5h0.85v0.85h-0.85zM49.4 23.3h0.85v0.85h-0.85zM41.0 34.7h0.85v0.85h-0.85zM40.7 30.9h0.85v0.85h-0.85zM44.5 32.1h0.85v0.85h-0.85zM44.8 36.8h0.85v0.85h-0.85zM50.6 26.2h0.85v0.85h-0.85zM43.7 29.9h0.85v0.85h-0.85zM51.9 23.5h0.85v0.85h-0.85zM52.7 32.1h0.85v0.85h-0.85zM44.6 28.1h0.85v0.85h-0.85zM49.8 35.1h0.85v0.85h-0.85zM53.5 24.9h0.85v0.85h-0.85zM51.4 28.1h0.85v0.85h-0.85zM43.1 35.2h0.85v0.85h-0.85zM50.4 25.8h0.85v0.85h-0.85zM44.9 28.2h0.85v0.85h-0.85zM49.8 26.3h0.85v0.85h-0.85zM44.1 29.6h0.85v0.85h-0.85zM42.3 28.4h0.85v0.85h-0.85zM50.4 29.6h0.85v0.85h-0.85zM47.6 25.5h0.85v0.85h-0.85zM44.7 30.4h0.85v0.85h-0.85zM44.3 24.7h0.85v0.85h-0.85zM52.4 23.0h0.85v0.85h-0.85zM52.9 23.4h0.85v0.85h-0.85zM45.0 31.4h0.85v0.85h-0.85zM52.5 26.8h0.85v0.85h-0.85zM52.5 31.0h0.85v0.85h-0.85zM43.6 32.4h0.85v0.85h-0.85zM47.5 35.7h0.85v0.85h-0.85zM41.1 27.1h0.85v0.85h-0.85zM49.5 35.6h0.85v0.85h-0.85zM45.9 33.8h0.85v0.85h-0.85zM40.2 31.6h0.85v0.85h-0.85zM43.7 32.4h0.85v0.85h-0.85zM43.2 24.8h0.85v0.85h-0.85zM42.8 32.9h0.85v0.85h-0.85zM45.1 23.0h0.85v0.85h-0.85zM51.4 25.8h0.85v0.85h-0.85zM42.1 33.2h0.85v0.85h-0.85zM45.8 35.2h0.85v0.85h-0.85zM40.9 30.7h0.85v0.85h-0.85zM42.8 27.7h0.85v0.85h-0.85zM45.9 26.3h0.85v0.85h-0.85zM41.2 32.0h0.85v0.85h-0.85zM48.5 23.2h0.85v0.85h-0.85zM54.0 23.6h0.85v0.85h-0.85zM42.0 26.2h0.85v0.85h-0.85zM44.3 29.4h0.85v0.85h-0.85zM52.9 23.5h0.85v0.85h-0.85zM42.6 27.3h0.85v0.85h-0.85zM45.6 35.3h0.85v0.85h-0.85zM44.7 31.6h0.85v0.85h-0.85zM39.1 31.7h0.85v0.85h-0.85zM49.4 23.7h0.85v0.85h-0.85zM45.1 34.8h0.85v0.85h-0.85zM42.7 30.0h0.85v0.85h-0.85zM44.0 30.3h0.85v0.85h-0.85zM44.7 27.2h0.85v0.85h-0.85zM53.2 32.4h0.85v0.85h-0.85zM45.9 27.5h0.85v0.85h-0.85zM52.3 27.5h0.85v0.85h-0.85zM49.3 24.7h0.85v0.85h-0.85zM47.1 26.0h0.85v0.85h-0.85zM53.0 27.5h0.85v0.85h-0.85zM53.6 30.5h0.85v0.85h-0.85zM43.9 30.3h0.85v0.85h-0.85zM53.3 32.4h0.85v0.85h-0.85zM51.6 30.5h0.85v0.85h-0.85zM48.3 24.1h0.85v0.85h-0.85zM51.7 31.6h0.85v0.85h-0.85zM48.8 26.6h0.85v0.85h-0.85zM43.6 36.9h0.85v0.85h-0.85zM50.8 32.2h0.85v0.85h-0.85zM51.9 32.4h0.85v0.85h-0.85zM44.6 36.3h0.85v0.85h-0.85zM52.9 32.1h0.85v0.85h-0.85zM51.7 30.9h0.85v0.85h-0.85zM45.9 34.1h0.85v0.85h-0.85zM42.5 31.1h0.85v0.85h-0.85zM44.1 31.1h0.85v0.85h-0.85zM52.8 28.2h0.85v0.85h-0.85zM52.7 22.7h0.85v0.85h-0.85zM43.6 29.1h0.85v0.85h-0.85zM47.6 25.3h0.85v0.85h-0.85zM43.1 25.2h0.85v0.85h-0.85zM42.9 33.2h0.85v0.85h-0.85zM51.4 33.9h0.85v0.85h-0.85zM38.9 30.8h0.85v0.85h-0.85zM52.0 31.5h0.85v0.85h-0.85zM44.1 29.4h0.85v0.85h-0.85zM46.0 24.8h0.85v0.85h-0.85zM49.2 34.5h0.85v0.85h-0.85zM48.9 22.2h0.85v0.85h-0.85zM44.9 33.5h0.85v0.85h-0.85zM40.6 29.6h0.85v0.85h-0.85zM49.7 24.5h0.85v0.85h-0.85zM50.0 23.7h0.85v0.85h-0.85zM52.4 24.8h0.85v0.85h-0.85zM45.0 36.2h0.85v0.85h-0.85zM49.9 24.3h0.85v0.85h-0.85zM52.7 27.0h0.85v0.85h-0.85zM52.6 24.2h0.85v0.85h-0.85zM40.5 30.9h0.85v0.85h-0.85zM42.3 28.6h0.85v0.85h-0.85zM41.7 32.9h0.85v0.85h-0.85zM47.8 23.2h0.85v0.85h-0.85zM48.9 34.4h0.85v0.85h-0.85zM46.6 26.4h0.85v0.85h-0.85zM39.5 32.6h0.85v0.85h-0.85zM53.1 27.6h0.85v0.85h-0.85zM40.7 36.3h0.85v0.85h-0.85zM41.0 29.4h0.85v0.85h-0.85zM51.0 25.8h0.85v0.85h-0.85zM53.9 25.2h0.85v0.85h-0.85zM43.0 34.4h0.85v0.85h-0.85zM42.2 32.9h0.85v0.85h-0.85zM42.9 28.1h0.85v0.85h-0.85zM46.0 25.7h0.85v0.85h-0.85zM53.2 24.4h0.85v0.85h-0.85zM49.4 25.9h0.85v0.85h-0.85zM44.8 33.3h0.85v0.85h-0.85zM43.5 24.8h0.85v0.85h-0.85zM47.1 35.4h0.85v0.85h-0.85zM48.8 23.7h0.85v0.85h-0.85zM45.4 25.4h0.85v0.85h-0.85zM45.6 35.2h0.85v0.85h-0.85zM43.2 28.7h0.85v0.85h-0.85zM54.1 26.6h0.85v0.85h-0.85zM43.8 31.4h0.85v0.85h-0.85zM45.2 34.5h0.85v0.85h-0.85zM44.7 24.2h0.85v0.85h-0.85zM44.3 26.9h0.85v0.85h-0.85zM46.8 29.2h0.85v0.85h-0.85zM49.7 23.0h0.85v0.85h-0.85zM40.5 32.8h0.85v0.85h-0.85zM52.2 28.1h0.85v0.85h-0.85zM44.0 28.5h0.85v0.85h-0.85zM50.3 29.4h0.85v0.85h-0.85zM40.1 30.5h0.85v0.85h-0.85zM53.3 25.6h0.85v0.85h-0.85zM50.8 25.8h0.85v0.85h-0.85zM49.8 26.2h0.85v0.85h-0.85zM48.0 33.6h0.85v0.85h-0.85zM46.8 25.7h0.85v0.85h-0.85zM43.4 30.3h0.85v0.85h-0.85zM50.3 24.7h0.85v0.85h-0.85zM50.6 32.9h0.85v0.85h-0.85zM44.3 30.8h0.85v0.85h-0.85zM40.8 31.1h0.85v0.85h-0.85zM48.8 25.5h0.85v0.85h-0.85zM49.1 24.1h0.85v0.85h-0.85zM54.0 30.2h0.85v0.85h-0.85zM53.2 32.0h0.85v0.85h-0.85zM41.9 33.0h0.85v0.85h-0.85zM49.5 33.4h0.85v0.85h-0.85zM49.3 25.3h0.85v0.85h-0.85zM45.4 35.9h0.85v0.85h-0.85zM41.5 25.7h0.85v0.85h-0.85zM46.3 24.2h0.85v0.85h-0.85zM42.3 33.0h0.85v0.85h-0.85zM38.8 31.2h0.85v0.85h-0.85zM45.0 32.7h0.85v0.85h-0.85zM42.6 29.2h0.85v0.85h-0.85zM52.2 27.5h0.85v0.85h-0.85zM43.2 36.0h0.85v0.85h-0.85zM44.4 30.1h0.85v0.85h-0.85zM40.7 28.2h0.85v0.85h-0.85zM40.6 31.8h0.85v0.85h-0.85zM49.8 25.3h0.85v0.85h-0.85zM40.7 33.6h0.85v0.85h-0.85zM41.4 34.0h0.85v0.85h-0.85zM45.7 25.1h0.85v0.85h-0.85zM40.7 32.4h0.85v0.85h-0.85zM44.4 30.4h0.85v0.85h-0.85zM44.4 26.0h0.85v0.85h-0.85zM41.1 33.4h0.85v0.85h-0.85zM45.4 24.3h0.85v0.85h-0.85zM52.4 24.3h0.85v0.85h-0.85zM47.4 33.7h0.85v0.85h-0.85zM49.7 34.5h0.85v0.85h-0.85zM45.2 28.6h0.85v0.85h-0.85zM52.3 26.3h0.85v0.85h-0.85zM53.1 24.1h0.85v0.85h-0.85zM45.2 34.5h0.85v0.85h-0.85zM43.5 25.7h0.85v0.85h-0.85zM47.2 25.2h0.85v0.85h-0.85zM42.6 31.5h0.85v0.85h-0.85zM41.2 33.8h0.85v0.85h-0.85zM52.4 28.3h0.85v0.85h-0.85zM40.6 30.6h0.85v0.85h-0.85zM42.8 25.7h0.85v0.85h-0.85zM44.1 30.8h0.85v0.85h-0.85zM42.0 29.0h0.85v0.85h-0.85zM47.7 26.6h0.85v0.85h-0.85zM45.1 24.2h0.85v0.85h-0.85zM48.4 35.3h0.85v0.85h-0.85zM48.2 33.6h0.85v0.85h-0.85zM40.3 35.1h0.85v0.85h-0.85zM53.3 30.9h0.85v0.85h-0.85zM45.4 24.4h0.85v0.85h-0.85zM46.1 32.7h0.85v0.85h-0.85zM46.7 36.2h0.85v0.85h-0.85zM50.8 25.5h0.85v0.85h-0.85zM38.9 32.8h0.85v0.85h-0.85zM41.5 34.8h0.85v0.85h-0.85zM47.5 24.0h0.85v0.85h-0.85zM46.8 33.6h0.85v0.85h-0.85zM42.1 36.3h0.85v0.85h-0.85zM48.1 35.9h0.85v0.85h-0.85zM47.0 27.3h0.85v0.85h-0.85zM44.8 27.9h0.85v0.85h-0.85zM52.5 26.3h0.85v0.85h-0.85zM43.0 35.7h0.85v0.85h-0.85zM41.1 40.2h0.85v0.85h-0.85zM37.8 37.4h0.85v0.85h-0.85zM34.1 41.2h0.85v0.85h-0.85zM37.7 41.0h0.85v0.85h-0.85zM37.1 42.7h0.85v0.85h-0.85zM35.0 43.6h0.85v0.85h-0.85zM28.8 46.4h0.85v0.85h-0.85zM35.7 44.4h0.85v0.85h-0.85zM40.4 36.7h0.85v0.85h-0.85zM37.7 38.9h0.85v0.85h-0.85zM41.7 40.5h0.85v0.85h-0.85zM35.3 45.2h0.85v0.85h-0.85zM32.0 44.3h0.85v0.85h-0.85zM31.9 48.4h0.85v0.85h-0.85zM38.5 41.0h0.85v0.85h-0.85zM30.9 44.3h0.85v0.85h-0.85zM32.3 41.2h0.85v0.85h-0.85zM40.3 41.5h0.85v0.85h-0.85zM33.4 44.4h0.85v0.85h-0.85zM37.3 43.8h0.85v0.85h-0.85zM40.1 42.2h0.85v0.85h-0.85zM36.5 45.0h0.85v0.85h-0.85zM32.7 42.4h0.85v0.85h-0.85zM37.8 39.5h0.85v0.85h-0.85zM35.2 41.5h0.85v0.85h-0.85zM31.7 42.2h0.85v0.85h-0.85zM40.3 41.1h0.85v0.85h-0.85zM38.5 44.1h0.85v0.85h-0.85zM40.9 41.7h0.85v0.85h-0.85zM32.1 45.7h0.85v0.85h-0.85zM42.2 41.0h0.85v0.85h-0.85zM34.5 42.2h0.85v0.85h-0.85zM37.3 38.9h0.85v0.85h-0.85zM32.8 43.7h0.85v0.85h-0.85zM35.0 38.2h0.85v0.85h-0.85zM40.1 39.4h0.85v0.85h-0.85zM29.4 44.5h0.85v0.85h-0.85zM31.2 48.7h0.85v0.85h-0.85zM34.3 42.6h0.85v0.85h-0.85zM33.0 40.2h0.85v0.85h-0.85zM36.5 44.9h0.85v0.85h-0.85zM32.3 40.3h0.85v0.85h-0.85zM40.6 37.4h0.85v0.85h-0.85zM40.5 41.6h0.85v0.85h-0.85zM33.8 44.9h0.85v0.85h-0.85zM30.4 42.3h0.85v0.85h-0.85zM31.1 42.2h0.85v0.85h-0.85zM31.4 46.2h0.85v0.85h-0.85zM40.1 41.7h0.85v0.85h-0.85zM38.1 42.9h0.85v0.85h-0.85zM35.3 46.6h0.85v0.85h-0.85zM41.5 36.4h0.85v0.85h-0.85zM41.4 40.0h0.85v0.85h-0.85zM34.2 39.0h0.85v0.85h-0.85zM32.6 46.2h0.85v0.85h-0.85zM30.2 47.1h0.85v0.85h-0.85zM40.7 41.9h0.85v0.85h-0.85zM38.5 43.5h0.85v0.85h-0.85zM32.3 39.5h0.85v0.85h-0.85zM36.8 40.9h0.85v0.85h-0.85zM34.3 39.1h0.85v0.85h-0.85zM35.2 40.9h0.85v0.85h-0.85zM44.8 39.1h0.85v0.85h-0.85zM31.6 45.2h0.85v0.85h-0.85zM37.0 40.3h0.85v0.85h-0.85zM33.4 44.8h0.85v0.85h-0.85zM42.8 38.1h0.85v0.85h-0.85zM36.1 38.5h0.85v0.85h-0.85zM34.5 40.7h0.85v0.85h-0.85zM40.6 39.6h0.85v0.85h-0.85zM34.3 41.0h0.85v0.85h-0.85zM35.8 40.9h0.85v0.85h-0.85zM36.1 44.6h0.85v0.85h-0.85zM41.1 43.6h0.85v0.85h-0.85zM39.7 45.9h0.85v0.85h-0.85zM31.6 46.0h0.85v0.85h-0.85zM37.3 36.0h0.85v0.85h-0.85zM34.6 41.7h0.85v0.85h-0.85zM38.0 46.6h0.85v0.85h-0.85zM37.3 38.2h0.85v0.85h-0.85zM48.3 39.0h0.85v0.85h-0.85zM31.7 44.6h0.85v0.85h-0.85zM33.9 36.9h0.85v0.85h-0.85zM30.3 45.8h0.85v0.85h-0.85zM30.3 40.9h0.85v0.85h-0.85zM33.7 39.6h0.85v0.85h-0.85zM31.7 41.2h0.85v0.85h-0.85zM39.5 45.2h0.85v0.85h-0.85zM34.2 35.2h0.85v0.85h-0.85z" fill="#0a0aff" opacity="0.85"/>
<polygon points="54.6,22.1 61.5,22.1 58.1,27.1 55.6,30.6 54.6,31.4" fill="#4aa02a" opacity="0.73"/>
<path d="M56.1 22.2h0.8v0.8h-0.8zM57.2 25.8h0.8v0.8h-0.8zM57.0 24.4h0.8v0.8h-0.8zM56.5 27.4h0.8v0.8h-0.8zM57.8 23.3h0.8v0.8h-0.8zM55.4 29.6h0.8v0.8h-0.8zM55.3 28.5h0.8v0.8h-0.8zM55.8 28.7h0.8v0.8h-0.8zM55.0 22.9h0.8v0.8h-0.8zM60.0 24.2h0.8v0.8h-0.8zM57.8 25.0h0.8v0.8h-0.8zM56.2 24.9h0.8v0.8h-0.8zM56.5 23.9h0.8v0.8h-0.8zM59.3 23.6h0.8v0.8h-0.8zM54.8 25.6h0.8v0.8h-0.8zM54.6 29.5h0.8v0.8h-0.8zM55.2 26.7h0.8v0.8h-0.8zM57.6 22.8h0.8v0.8h-0.8zM56.1 24.4h0.8v0.8h-0.8zM54.7 25.0h0.8v0.8h-0.8zM56.6 26.3h0.8v0.8h-0.8zM54.8 22.7h0.8v0.8h-0.8zM57.2 28.0h0.8v0.8h-0.8zM55.6 22.5h0.8v0.8h-0.8zM55.0 22.9h0.8v0.8h-0.8zM55.1 24.8h0.8v0.8h-0.8zM56.6 26.9h0.8v0.8h-0.8zM56.9 27.5h0.8v0.8h-0.8zM55.4 27.9h0.8v0.8h-0.8zM54.6 30.7h0.8v0.8h-0.8zM56.0 27.3h0.8v0.8h-0.8zM55.9 26.2h0.8v0.8h-0.8zM56.4 28.1h0.8v0.8h-0.8zM58.4 25.4h0.8v0.8h-0.8zM56.6 26.8h0.8v0.8h-0.8zM58.7 24.6h0.8v0.8h-0.8zM56.7 26.3h0.8v0.8h-0.8zM54.6 23.0h0.8v0.8h-0.8zM60.9 22.9h0.8v0.8h-0.8zM54.9 30.8h0.8v0.8h-0.8zM57.6 27.6h0.8v0.8h-0.8zM58.8 22.9h0.8v0.8h-0.8zM59.3 23.3h0.8v0.8h-0.8zM57.4 26.8h0.8v0.8h-0.8zM54.9 29.2h0.8v0.8h-0.8zM55.3 27.3h0.8v0.8h-0.8zM56.4 23.6h0.8v0.8h-0.8zM55.0 25.6h0.8v0.8h-0.8zM56.1 27.6h0.8v0.8h-0.8zM56.2 24.6h0.8v0.8h-0.8zM57.6 25.6h0.8v0.8h-0.8zM59.7 23.5h0.8v0.8h-0.8zM59.6 24.2h0.8v0.8h-0.8zM60.2 22.8h0.8v0.8h-0.8zM54.8 23.6h0.8v0.8h-0.8zM58.6 24.4h0.8v0.8h-0.8zM55.6 30.0h0.8v0.8h-0.8zM59.6 24.4h0.8v0.8h-0.8zM57.2 24.5h0.8v0.8h-0.8zM55.3 24.4h0.8v0.8h-0.8zM59.0 23.4h0.8v0.8h-0.8zM56.0 23.4h0.8v0.8h-0.8zM55.1 30.5h0.8v0.8h-0.8zM55.5 30.5h0.8v0.8h-0.8zM58.1 26.9h0.8v0.8h-0.8zM55.9 26.6h0.8v0.8h-0.8zM56.4 25.6h0.8v0.8h-0.8zM58.0 22.2h0.8v0.8h-0.8zM56.2 25.7h0.8v0.8h-0.8zM55.5 29.9h0.8v0.8h-0.8zM59.3 23.6h0.8v0.8h-0.8zM54.6 25.3h0.8v0.8h-0.8zM55.6 23.7h0.8v0.8h-0.8zM56.5 27.9h0.8v0.8h-0.8zM55.1 30.2h0.8v0.8h-0.8zM57.6 23.7h0.8v0.8h-0.8zM55.3 27.0h0.8v0.8h-0.8zM57.0 26.8h0.8v0.8h-0.8zM55.3 25.4h0.8v0.8h-0.8zM58.1 22.9h0.8v0.8h-0.8zM58.7 23.3h0.8v0.8h-0.8zM59.0 22.9h0.8v0.8h-0.8z" fill="#2c9a10" opacity="0.9"/>
<path d="M50.6 20.2h0.8v0.8h-0.8zM52.3 20.4h0.8v0.8h-0.8zM51.2 20.4h0.8v0.8h-0.8zM53.9 20.4h0.8v0.8h-0.8zM53.0 21.2h0.8v0.8h-0.8z" fill="#ff2a2a" opacity="0.75"/>
<path d="M57.8 20.6h0.8v0.8h-0.8zM57.3 21.1h0.8v0.8h-0.8zM58.7 19.6h0.8v0.8h-0.8z" fill="#a040f0" opacity="0.75"/>
<rect x="-1.90" y="0.00" width="2.50" height="72.00" fill="#6c6cff" stroke="none" stroke-width="0" />
<rect x="-1.20" y="70.20" width="71.20" height="2.50" fill="#6c6cff" stroke="none" stroke-width="0" />
<path d="M-1.9 1.2h2.5v2.6h-2.5zM-1.9 6.2h2.5v1.2h-2.5zM-1.9 11.0h2.5v2.6h-2.5zM-1.9 16.0h2.5v1.2h-2.5zM-1.9 20.8h2.5v2.6h-2.5zM-1.9 25.8h2.5v1.2h-2.5zM-1.9 30.6h2.5v2.6h-2.5zM-1.9 35.6h2.5v1.2h-2.5zM-1.9 40.4h2.5v2.6h-2.5zM-1.9 45.4h2.5v1.2h-2.5zM-1.9 50.2h2.5v2.6h-2.5zM-1.9 55.2h2.5v1.2h-2.5zM-1.9 60.0h2.5v2.6h-2.5zM-1.9 65.0h2.5v1.2h-2.5zM-1.9 69.8h2.5v2.6h-2.5zM-1.9 74.8h2.5v1.2h-2.5zM-0.5 70.2h3.2v2.5h-3.2zM4.7 70.2h1.5v2.5h-1.5zM9.2 70.2h3.2v2.5h-3.2zM14.4 70.2h1.5v2.5h-1.5zM18.9 70.2h3.2v2.5h-3.2zM24.1 70.2h1.5v2.5h-1.5zM28.6 70.2h3.2v2.5h-3.2zM33.8 70.2h1.5v2.5h-1.5zM38.3 70.2h3.2v2.5h-3.2zM43.5 70.2h1.5v2.5h-1.5zM48.0 70.2h3.2v2.5h-3.2zM53.2 70.2h1.5v2.5h-1.5zM57.7 70.2h3.2v2.5h-3.2zM62.9 70.2h1.5v2.5h-1.5zM67.4 70.2h3.2v2.5h-3.2zM72.6 70.2h1.5v2.5h-1.5z" fill="#1010ff"/>
<path d="M-6.8 -0.3l1.5 1.3l0.5 2.3M-6.6 2.3l0.3 0.4 M-6.8 9.5l1.5 1.3l0.5 2.3M-6.6 12.1l0.3 0.4 M-6.8 19.3l1.5 1.3l0.5 2.3M-6.6 21.9l0.3 0.4 M-6.8 29.1l1.5 1.3l0.5 2.3M-6.6 31.7l0.3 0.4 M-6.8 38.9l1.5 1.3l0.5 2.3M-6.6 41.5l0.3 0.4 M-6.8 48.7l1.5 1.3l0.5 2.3M-6.6 51.3l0.3 0.4 M-6.8 58.5l1.5 1.3l0.5 2.3M-6.6 61.1l0.3 0.4 M-6.8 68.3l1.5 1.3l0.5 2.3M-6.6 70.9l0.3 0.4 M-0.8 76.8l1.8-0.3l1.4-1.4l0.2-1.1M2.1 77.1l0.4 0.2 M8.9 76.8l1.8-0.3l1.4-1.4l0.2-1.1M11.8 77.1l0.4 0.2 M18.6 76.8l1.8-0.3l1.4-1.4l0.2-1.1M21.5 77.1l0.4 0.2 M28.3 76.8l1.8-0.3l1.4-1.4l0.2-1.1M31.2 77.1l0.4 0.2 M38.0 76.8l1.8-0.3l1.4-1.4l0.2-1.1M40.9 77.1l0.4 0.2 M47.7 76.8l1.8-0.3l1.4-1.4l0.2-1.1M50.6 77.1l0.4 0.2 M57.4 76.8l1.8-0.3l1.4-1.4l0.2-1.1M60.3 77.1l0.4 0.2 M67.1 76.8l1.8-0.3l1.4-1.4l0.2-1.1M70.0 77.1l0.4 0.2" fill="none" stroke="#2a2af0" stroke-width="1.0"/>
<text transform="translate(-8.6,43.4) rotate(-90)" font-size="3.9" font-family="'Liberation Sans',Arial,sans-serif" fill="#222" text-anchor="middle">PI-A</text>
<text x="37.1" y="81.1" font-size="3.9" font-family="'Liberation Sans',Arial,sans-serif" fill="#222" text-anchor="middle">FITC-A</text>
<text transform="translate(1.0,4.7) scale(1.12,1)" font-size="4.5" font-family="'Liberation Sans',Arial,sans-serif" fill="#f04848" opacity="0.85">Q2-UL</text>
<text transform="translate(1.0,8.8) scale(1.12,1)" font-size="4.5" font-family="'Liberation Sans',Arial,sans-serif" fill="#f04848" opacity="0.85">0.7%</text>
<text transform="translate(54.6,4.7) scale(1.12,1)" font-size="4.5" font-family="'Liberation Sans',Arial,sans-serif" fill="#b060e0" opacity="0.85">Q2-UR</text>
<text transform="translate(54.6,8.8) scale(1.12,1)" font-size="4.5" font-family="'Liberation Sans',Arial,sans-serif" fill="#b060e0" opacity="0.85">0.4%</text>
<text transform="translate(1.0,65.6) scale(1.12,1)" font-size="4.5" font-family="'Liberation Sans',Arial,sans-serif" fill="#2020d0" opacity="0.85">Q2-LL</text>
<text transform="translate(1.0,69.6) scale(1.12,1)" font-size="4.5" font-family="'Liberation Sans',Arial,sans-serif" fill="#2020d0" opacity="0.85">94.4%</text>
<text transform="translate(54.6,65.6) scale(1.12,1)" font-size="4.5" font-family="'Liberation Sans',Arial,sans-serif" fill="#48a030" opacity="0.85">Q2-LR</text>
<text transform="translate(54.6,69.6) scale(1.12,1)" font-size="4.5" font-family="'Liberation Sans',Arial,sans-serif" fill="#48a030" opacity="0.85">4.4%</text>
</g>
<g transform="translate(129,124.8)">
<rect x="0.00" y="0.00" width="70.00" height="70.50" fill="none" stroke="#7a7aff" stroke-width="0.9" />
<line x1="55.8" y1="0" x2="55.8" y2="70.5" stroke="#f28080" stroke-width="1.15" />
<line x1="0" y1="21.6" x2="70" y2="21.6" stroke="#f28080" stroke-width="1.15" />
<polygon points="29.7,43.4 34.2,40.6 41.7,36.8 44.0,37.7 43.0,40.6 37.9,44.5 32.4,46.8 29.2,45.9" fill="#0a0aff" opacity="0.88" filter="url(#fb)"/>
<path d="M40.7 31.2h0.85v0.85h-0.85zM41.2 34.4h0.85v0.85h-0.85zM42.7 31.2h0.85v0.85h-0.85zM32.1 41.0h0.85v0.85h-0.85zM42.0 34.5h0.85v0.85h-0.85zM30.3 40.1h0.85v0.85h-0.85zM41.7 31.0h0.85v0.85h-0.85zM41.5 33.1h0.85v0.85h-0.85zM44.2 35.9h0.85v0.85h-0.85zM43.7 36.0h0.85v0.85h-0.85zM38.0 37.6h0.85v0.85h-0.85zM32.8 40.2h0.85v0.85h-0.85zM39.3 38.3h0.85v0.85h-0.85zM30.5 42.0h0.85v0.85h-0.85zM38.3 33.5h0.85v0.85h-0.85zM41.7 30.0h0.85v0.85h-0.85zM40.1 33.2h0.85v0.85h-0.85zM28.2 41.6h0.85v0.85h-0.85zM30.3 41.7h0.85v0.85h-0.85zM42.1 34.1h0.85v0.85h-0.85zM27.6 44.3h0.85v0.85h-0.85zM42.4 29.0h0.85v0.85h-0.85zM42.2 36.6h0.85v0.85h-0.85zM33.5 39.6h0.85v0.85h-0.85zM32.0 41.2h0.85v0.85h-0.85zM31.1 42.0h0.85v0.85h-0.85zM42.7 32.8h0.85v0.85h-0.85zM33.8 39.1h0.85v0.85h-0.85zM40.3 32.6h0.85v0.85h-0.85zM39.9 35.7h0.85v0.85h-0.85zM32.7 38.5h0.85v0.85h-0.85zM43.1 33.4h0.85v0.85h-0.85zM43.8 30.1h0.85v0.85h-0.85zM29.2 41.0h0.85v0.85h-0.85zM44.6 29.5h0.85v0.85h-0.85zM42.7 31.2h0.85v0.85h-0.85zM38.1 34.8h0.85v0.85h-0.85zM36.4 36.5h0.85v0.85h-0.85zM37.7 37.7h0.85v0.85h-0.85zM42.5 36.6h0.85v0.85h-0.85zM44.3 36.0h0.85v0.85h-0.85zM36.3 36.1h0.85v0.85h-0.85zM43.0 36.1h0.85v0.85h-0.85zM42.0 34.8h0.85v0.85h-0.85zM39.1 34.0h0.85v0.85h-0.85zM29.2 42.2h0.85v0.85h-0.85zM28.1 43.4h0.85v0.85h-0.85zM41.9 32.3h0.85v0.85h-0.85zM37.0 35.7h0.85v0.85h-0.85zM39.5 35.8h0.85v0.85h-0.85zM43.7 31.5h0.85v0.85h-0.85zM43.6 36.3h0.85v0.85h-0.85zM42.4 35.6h0.85v0.85h-0.85zM35.4 35.9h0.85v0.85h-0.85zM34.4 36.7h0.85v0.85h-0.85zM43.7 37.3h0.85v0.85h-0.85zM37.7 38.7h0.85v0.85h-0.85zM28.5 43.1h0.85v0.85h-0.85zM34.4 36.6h0.85v0.85h-0.85zM29.9 42.4h0.85v0.85h-0.85zM39.8 33.9h0.85v0.85h-0.85zM30.2 39.8h0.85v0.85h-0.85zM31.6 40.2h0.85v0.85h-0.85zM42.1 36.5h0.85v0.85h-0.85zM40.4 35.1h0.85v0.85h-0.85zM43.4 33.1h0.85v0.85h-0.85zM31.6 39.1h0.85v0.85h-0.85zM45.2 36.8h0.85v0.85h-0.85zM40.7 32.7h0.85v0.85h-0.85zM40.4 36.4h0.85v0.85h-0.85zM34.1 40.4h0.85v0.85h-0.85zM42.8 35.4h0.85v0.85h-0.85zM32.4 38.7h0.85v0.85h-0.85zM41.8 29.1h0.85v0.85h-0.85zM32.6 40.5h0.85v0.85h-0.85zM44.7 36.9h0.85v0.85h-0.85zM34.7 40.6h0.85v0.85h-0.85zM40.1 32.4h0.85v0.85h-0.85zM36.5 35.2h0.85v0.85h-0.85zM43.2 31.4h0.85v0.85h-0.85zM28.6 41.5h0.85v0.85h-0.85zM42.4 31.9h0.85v0.85h-0.85zM42.3 30.0h0.85v0.85h-0.85zM30.6 40.1h0.85v0.85h-0.85zM36.4 38.1h0.85v0.85h-0.85zM28.7 43.2h0.85v0.85h-0.85zM36.1 38.4h0.85v0.85h-0.85zM29.8 42.4h0.85v0.85h-0.85zM35.1 40.1h0.85v0.85h-0.85zM38.2 35.9h0.85v0.85h-0.85zM40.3 36.4h0.85v0.85h-0.85zM38.4 35.7h0.85v0.85h-0.85zM37.4 37.3h0.85v0.85h-0.85zM35.9 36.7h0.85v0.85h-0.85zM36.7 37.0h0.85v0.85h-0.85zM41.7 37.2h0.85v0.85h-0.85zM45.1 37.5h0.85v0.85h-0.85zM43.6 33.5h0.85v0.85h-0.85zM38.1 38.9h0.85v0.85h-0.85zM43.4 33.0h0.85v0.85h-0.85zM45.3 36.7h0.85v0.85h-0.85zM40.3 31.5h0.85v0.85h-0.85zM39.4 34.0h0.85v0.85h-0.85zM29.2 41.6h0.85v0.85h-0.85zM39.3 38.1h0.85v0.85h-0.85zM41.5 32.4h0.85v0.85h-0.85zM31.1 42.3h0.85v0.85h-0.85zM40.0 31.8h0.85v0.85h-0.85zM33.2 37.9h0.85v0.85h-0.85zM45.2 37.1h0.85v0.85h-0.85zM37.0 34.7h0.85v0.85h-0.85zM39.0 34.8h0.85v0.85h-0.85zM37.2 39.2h0.85v0.85h-0.85zM33.7 41.1h0.85v0.85h-0.85zM34.7 37.9h0.85v0.85h-0.85zM31.4 39.6h0.85v0.85h-0.85zM40.6 36.8h0.85v0.85h-0.85zM32.2 40.9h0.85v0.85h-0.85zM39.2 33.3h0.85v0.85h-0.85zM33.7 40.0h0.85v0.85h-0.85zM36.6 37.9h0.85v0.85h-0.85zM33.1 40.4h0.85v0.85h-0.85zM40.2 33.2h0.85v0.85h-0.85zM43.1 29.3h0.85v0.85h-0.85zM28.8 44.3h0.85v0.85h-0.85zM42.4 35.4h0.85v0.85h-0.85zM37.5 37.8h0.85v0.85h-0.85zM40.0 31.4h0.85v0.85h-0.85zM44.1 32.4h0.85v0.85h-0.85zM28.1 41.8h0.85v0.85h-0.85zM43.1 32.4h0.85v0.85h-0.85zM43.5 35.3h0.85v0.85h-0.85zM43.6 32.9h0.85v0.85h-0.85zM32.8 37.9h0.85v0.85h-0.85zM45.7 37.0h0.85v0.85h-0.85zM45.2 31.1h0.85v0.85h-0.85zM49.6 22.8h0.85v0.85h-0.85zM44.6 31.4h0.85v0.85h-0.85zM51.1 24.9h0.85v0.85h-0.85zM50.6 36.4h0.85v0.85h-0.85zM54.5 31.5h0.85v0.85h-0.85zM51.0 27.9h0.85v0.85h-0.85zM48.0 32.1h0.85v0.85h-0.85zM48.3 26.5h0.85v0.85h-0.85zM51.3 35.5h0.85v0.85h-0.85zM46.1 32.0h0.85v0.85h-0.85zM51.8 28.2h0.85v0.85h-0.85zM54.9 32.1h0.85v0.85h-0.85zM51.6 27.4h0.85v0.85h-0.85zM53.3 24.0h0.85v0.85h-0.85zM54.4 29.5h0.85v0.85h-0.85zM50.9 25.5h0.85v0.85h-0.85zM46.5 37.4h0.85v0.85h-0.85zM50.1 26.5h0.85v0.85h-0.85zM48.2 25.5h0.85v0.85h-0.85zM48.1 23.7h0.85v0.85h-0.85zM44.9 35.4h0.85v0.85h-0.85zM46.7 35.6h0.85v0.85h-0.85zM46.5 35.6h0.85v0.85h-0.85zM47.8 34.4h0.85v0.85h-0.85zM50.7 27.5h0.85v0.85h-0.85zM47.0 25.6h0.85v0.85h-0.85zM47.6 34.7h0.85v0.85h-0.85zM49.9 24.4h0.85v0.85h-0.85zM52.1 25.2h0.85v0.85h-0.85zM52.7 24.6h0.85v0.85h-0.85zM54.3 26.8h0.85v0.85h-0.85zM47.6 36.9h0.85v0.85h-0.85zM48.3 28.1h0.85v0.85h-0.85zM52.8 23.1h0.85v0.85h-0.85zM44.9 35.4h0.85v0.85h-0.85zM47.7 24.7h0.85v0.85h-0.85zM46.0 33.5h0.85v0.85h-0.85zM46.2 26.8h0.85v0.85h-0.85zM47.9 25.9h0.85v0.85h-0.85zM53.3 23.4h0.85v0.85h-0.85zM51.2 32.0h0.85v0.85h-0.85zM44.0 34.6h0.85v0.85h-0.85zM51.0 23.5h0.85v0.85h-0.85zM47.2 24.2h0.85v0.85h-0.85zM44.3 32.8h0.85v0.85h-0.85zM45.3 27.8h0.85v0.85h-0.85zM50.2 26.6h0.85v0.85h-0.85zM51.6 27.1h0.85v0.85h-0.85zM46.5 29.7h0.85v0.85h-0.85zM53.0 33.3h0.85v0.85h-0.85zM49.6 27.1h0.85v0.85h-0.85zM50.3 33.9h0.85v0.85h-0.85zM49.1 36.7h0.85v0.85h-0.85zM53.4 30.8h0.85v0.85h-0.85zM47.7 24.0h0.85v0.85h-0.85zM50.8 35.4h0.85v0.85h-0.85zM45.9 35.8h0.85v0.85h-0.85zM47.8 23.8h0.85v0.85h-0.85zM47.0 36.5h0.85v0.85h-0.85zM44.6 32.1h0.85v0.85h-0.85zM46.2 32.7h0.85v0.85h-0.85zM51.4 25.2h0.85v0.85h-0.85zM45.9 28.1h0.85v0.85h-0.85zM44.6 32.9h0.85v0.85h-0.85zM55.5 30.3h0.85v0.85h-0.85zM45.5 33.4h0.85v0.85h-0.85zM52.1 23.6h0.85v0.85h-0.85zM48.3 23.9h0.85v0.85h-0.85zM52.2 22.2h0.85v0.85h-0.85zM54.2 23.0h0.85v0.85h-0.85zM53.8 25.0h0.85v0.85h-0.85zM45.6 33.0h0.85v0.85h-0.85zM49.0 24.6h0.85v0.85h-0.85zM49.3 36.4h0.85v0.85h-0.85zM50.3 35.6h0.85v0.85h-0.85zM49.5 25.8h0.85v0.85h-0.85zM54.0 23.7h0.85v0.85h-0.85zM52.1 26.5h0.85v0.85h-0.85zM54.0 24.4h0.85v0.85h-0.85zM54.8 24.3h0.85v0.85h-0.85zM54.9 22.8h0.85v0.85h-0.85zM51.0 36.2h0.85v0.85h-0.85zM46.5 37.3h0.85v0.85h-0.85zM50.6 34.5h0.85v0.85h-0.85zM46.4 35.5h0.85v0.85h-0.85zM52.5 24.6h0.85v0.85h-0.85zM53.8 33.0h0.85v0.85h-0.85zM53.0 33.8h0.85v0.85h-0.85zM52.1 27.7h0.85v0.85h-0.85zM55.1 24.3h0.85v0.85h-0.85zM46.5 28.8h0.85v0.85h-0.85zM46.9 33.3h0.85v0.85h-0.85zM53.8 33.5h0.85v0.85h-0.85zM50.2 24.4h0.85v0.85h-0.85zM53.1 23.4h0.85v0.85h-0.85zM46.6 33.5h0.85v0.85h-0.85zM53.5 31.5h0.85v0.85h-0.85zM55.0 28.6h0.85v0.85h-0.85zM46.5 29.3h0.85v0.85h-0.85zM47.4 27.9h0.85v0.85h-0.85zM53.2 27.0h0.85v0.85h-0.85zM54.2 32.0h0.85v0.85h-0.85zM54.0 31.8h0.85v0.85h-0.85zM48.9 25.0h0.85v0.85h-0.85zM52.9 26.5h0.85v0.85h-0.85zM47.7 25.9h0.85v0.85h-0.85zM46.4 32.9h0.85v0.85h-0.85zM49.0 25.1h0.85v0.85h-0.85zM50.3 28.5h0.85v0.85h-0.85zM51.2 23.3h0.85v0.85h-0.85zM50.2 24.0h0.85v0.85h-0.85zM50.2 34.6h0.85v0.85h-0.85zM45.7 36.3h0.85v0.85h-0.85zM54.3 29.5h0.85v0.85h-0.85zM44.4 32.4h0.85v0.85h-0.85zM48.3 26.2h0.85v0.85h-0.85zM45.5 32.0h0.85v0.85h-0.85zM48.1 33.8h0.85v0.85h-0.85zM50.8 25.9h0.85v0.85h-0.85zM45.3 31.6h0.85v0.85h-0.85zM50.9 25.8h0.85v0.85h-0.85zM47.4 35.3h0.85v0.85h-0.85zM47.1 29.5h0.85v0.85h-0.85zM50.4 22.3h0.85v0.85h-0.85zM53.4 34.1h0.85v0.85h-0.85zM53.4 31.0h0.85v0.85h-0.85zM45.0 33.8h0.85v0.85h-0.85zM52.4 22.6h0.85v0.85h-0.85zM55.1 26.5h0.85v0.85h-0.85zM50.5 30.8h0.85v0.85h-0.85zM44.6 35.1h0.85v0.85h-0.85zM50.1 23.5h0.85v0.85h-0.85zM49.8 24.9h0.85v0.85h-0.85zM52.8 24.5h0.85v0.85h-0.85zM47.3 36.9h0.85v0.85h-0.85zM51.3 24.9h0.85v0.85h-0.85zM51.1 25.8h0.85v0.85h-0.85zM44.7 32.1h0.85v0.85h-0.85zM44.6 33.5h0.85v0.85h-0.85zM47.7 25.0h0.85v0.85h-0.85zM53.6 23.6h0.85v0.85h-0.85zM51.4 24.2h0.85v0.85h-0.85zM51.6 24.0h0.85v0.85h-0.85zM47.0 28.9h0.85v0.85h-0.85zM50.4 23.8h0.85v0.85h-0.85zM51.8 32.5h0.85v0.85h-0.85zM53.6 23.0h0.85v0.85h-0.85zM46.7 27.9h0.85v0.85h-0.85zM51.0 27.9h0.85v0.85h-0.85zM49.3 24.2h0.85v0.85h-0.85zM54.7 24.2h0.85v0.85h-0.85zM50.6 36.6h0.85v0.85h-0.85zM47.2 32.4h0.85v0.85h-0.85zM53.5 25.2h0.85v0.85h-0.85zM46.5 28.3h0.85v0.85h-0.85zM51.0 35.7h0.85v0.85h-0.85zM50.9 26.1h0.85v0.85h-0.85zM52.5 24.3h0.85v0.85h-0.85zM49.8 36.1h0.85v0.85h-0.85zM46.1 27.9h0.85v0.85h-0.85zM45.7 36.4h0.85v0.85h-0.85zM47.4 26.7h0.85v0.85h-0.85zM53.2 30.4h0.85v0.85h-0.85zM54.5 31.5h0.85v0.85h-0.85zM53.8 28.9h0.85v0.85h-0.85zM53.4 22.9h0.85v0.85h-0.85zM46.0 31.7h0.85v0.85h-0.85zM50.9 22.6h0.85v0.85h-0.85zM50.7 27.2h0.85v0.85h-0.85zM46.5 32.3h0.85v0.85h-0.85zM47.4 27.4h0.85v0.85h-0.85zM53.4 27.6h0.85v0.85h-0.85zM54.8 29.5h0.85v0.85h-0.85zM54.2 24.0h0.85v0.85h-0.85zM55.4 28.0h0.85v0.85h-0.85zM47.5 24.1h0.85v0.85h-0.85zM53.8 32.3h0.85v0.85h-0.85zM45.1 32.0h0.85v0.85h-0.85zM54.3 29.3h0.85v0.85h-0.85zM48.9 31.9h0.85v0.85h-0.85zM45.2 32.2h0.85v0.85h-0.85zM49.8 22.6h0.85v0.85h-0.85zM45.7 26.7h0.85v0.85h-0.85zM52.1 24.0h0.85v0.85h-0.85zM53.9 24.9h0.85v0.85h-0.85zM50.4 31.2h0.85v0.85h-0.85zM48.4 25.7h0.85v0.85h-0.85zM51.8 35.4h0.85v0.85h-0.85zM55.3 25.9h0.85v0.85h-0.85zM50.7 34.7h0.85v0.85h-0.85zM51.6 22.0h0.85v0.85h-0.85zM49.9 34.6h0.85v0.85h-0.85zM46.2 28.1h0.85v0.85h-0.85zM54.0 29.0h0.85v0.85h-0.85zM48.6 31.5h0.85v0.85h-0.85zM49.6 22.7h0.85v0.85h-0.85zM47.4 35.0h0.85v0.85h-0.85zM55.4 25.0h0.85v0.85h-0.85zM45.8 27.4h0.85v0.85h-0.85zM49.2 24.2h0.85v0.85h-0.85zM53.5 24.4h0.85v0.85h-0.85zM50.3 26.2h0.85v0.85h-0.85zM51.6 23.8h0.85v0.85h-0.85zM49.7 35.1h0.85v0.85h-0.85zM44.7 34.9h0.85v0.85h-0.85zM51.8 25.7h0.85v0.85h-0.85zM54.6 24.7h0.85v0.85h-0.85zM51.0 23.0h0.85v0.85h-0.85zM51.4 25.1h0.85v0.85h-0.85zM53.2 34.0h0.85v0.85h-0.85zM53.2 29.0h0.85v0.85h-0.85zM51.2 22.1h0.85v0.85h-0.85zM46.5 26.0h0.85v0.85h-0.85zM51.3 33.7h0.85v0.85h-0.85zM51.4 24.2h0.85v0.85h-0.85zM52.8 28.5h0.85v0.85h-0.85zM52.1 27.1h0.85v0.85h-0.85zM47.6 24.6h0.85v0.85h-0.85zM48.0 36.4h0.85v0.85h-0.85zM52.1 27.8h0.85v0.85h-0.85zM53.6 32.3h0.85v0.85h-0.85zM52.0 27.1h0.85v0.85h-0.85zM46.1 32.1h0.85v0.85h-0.85zM50.6 22.7h0.85v0.85h-0.85zM45.7 28.6h0.85v0.85h-0.85zM44.9 30.1h0.85v0.85h-0.85zM48.5 26.6h0.85v0.85h-0.85zM52.8 33.4h0.85v0.85h-0.85zM44.6 31.2h0.85v0.85h-0.85zM46.5 27.0h0.85v0.85h-0.85zM46.9 29.7h0.85v0.85h-0.85zM53.5 33.9h0.85v0.85h-0.85zM44.3 33.8h0.85v0.85h-0.85zM51.5 26.1h0.85v0.85h-0.85zM47.4 34.3h0.85v0.85h-0.85zM49.5 22.9h0.85v0.85h-0.85zM47.3 35.2h0.85v0.85h-0.85zM46.7 29.8h0.85v0.85h-0.85zM54.0 22.2h0.85v0.85h-0.85zM53.3 23.6h0.85v0.85h-0.85zM55.3 30.9h0.85v0.85h-0.85zM51.4 25.3h0.85v0.85h-0.85zM44.2 32.9h0.85v0.85h-0.85zM52.4 24.8h0.85v0.85h-0.85zM47.5 27.3h0.85v0.85h-0.85zM54.2 30.7h0.85v0.85h-0.85zM45.2 32.8h0.85v0.85h-0.85zM55.2 29.3h0.85v0.85h-0.85zM51.6 22.9h0.85v0.85h-0.85zM47.4 26.6h0.85v0.85h-0.85zM45.2 32.6h0.85v0.85h-0.85zM50.8 22.4h0.85v0.85h-0.85zM47.7 34.5h0.85v0.85h-0.85zM52.6 27.8h0.85v0.85h-0.85zM45.8 33.6h0.85v0.85h-0.85zM54.2 23.3h0.85v0.85h-0.85zM52.1 25.1h0.85v0.85h-0.85zM53.7 31.4h0.85v0.85h-0.85zM47.4 26.2h0.85v0.85h-0.85zM48.3 34.5h0.85v0.85h-0.85zM51.0 26.3h0.85v0.85h-0.85zM54.6 30.0h0.85v0.85h-0.85zM52.6 27.3h0.85v0.85h-0.85zM51.9 28.2h0.85v0.85h-0.85zM50.1 24.7h0.85v0.85h-0.85zM52.7 24.4h0.85v0.85h-0.85zM46.2 31.9h0.85v0.85h-0.85zM49.5 35.6h0.85v0.85h-0.85zM53.8 33.6h0.85v0.85h-0.85zM48.0 29.9h0.85v0.85h-0.85zM54.3 25.0h0.85v0.85h-0.85zM47.5 27.3h0.85v0.85h-0.85zM44.0 34.2h0.85v0.85h-0.85zM48.3 26.5h0.85v0.85h-0.85zM46.3 29.6h0.85v0.85h-0.85zM45.6 27.0h0.85v0.85h-0.85zM50.1 27.1h0.85v0.85h-0.85zM45.1 35.4h0.85v0.85h-0.85zM47.3 28.8h0.85v0.85h-0.85zM52.1 26.0h0.85v0.85h-0.85zM48.4 35.9h0.85v0.85h-0.85zM46.3 34.1h0.85v0.85h-0.85zM55.0 25.7h0.85v0.85h-0.85zM54.0 27.8h0.85v0.85h-0.85zM46.7 25.7h0.85v0.85h-0.85zM46.2 34.7h0.85v0.85h-0.85zM55.2 26.9h0.85v0.85h-0.85zM53.4 26.6h0.85v0.85h-0.85zM50.8 25.0h0.85v0.85h-0.85zM54.7 29.9h0.85v0.85h-0.85zM50.9 34.2h0.85v0.85h-0.85zM50.1 29.5h0.85v0.85h-0.85zM50.7 26.6h0.85v0.85h-0.85zM55.5 31.1h0.85v0.85h-0.85zM44.7 34.4h0.85v0.85h-0.85zM55.2 27.9h0.85v0.85h-0.85zM53.4 33.0h0.85v0.85h-0.85zM53.6 27.2h0.85v0.85h-0.85zM53.3 31.2h0.85v0.85h-0.85zM55.3 27.0h0.85v0.85h-0.85zM51.2 35.3h0.85v0.85h-0.85zM52.9 32.7h0.85v0.85h-0.85zM54.1 31.1h0.85v0.85h-0.85zM45.4 27.6h0.85v0.85h-0.85zM46.4 28.9h0.85v0.85h-0.85zM47.2 35.3h0.85v0.85h-0.85zM54.6 24.9h0.85v0.85h-0.85zM48.4 35.5h0.85v0.85h-0.85zM30.5 45.8h0.85v0.85h-0.85zM31.0 44.2h0.85v0.85h-0.85zM31.8 46.0h0.85v0.85h-0.85zM38.5 40.1h0.85v0.85h-0.85zM37.2 41.7h0.85v0.85h-0.85zM35.9 40.0h0.85v0.85h-0.85zM40.7 39.4h0.85v0.85h-0.85zM34.5 43.9h0.85v0.85h-0.85zM34.9 43.3h0.85v0.85h-0.85zM38.2 38.9h0.85v0.85h-0.85zM31.4 46.5h0.85v0.85h-0.85zM37.5 43.9h0.85v0.85h-0.85zM43.2 38.5h0.85v0.85h-0.85zM32.1 42.2h0.85v0.85h-0.85zM32.7 42.4h0.85v0.85h-0.85zM39.9 38.9h0.85v0.85h-0.85zM32.5 44.5h0.85v0.85h-0.85zM40.6 39.7h0.85v0.85h-0.85zM37.3 43.4h0.85v0.85h-0.85zM43.1 38.8h0.85v0.85h-0.85zM39.5 40.7h0.85v0.85h-0.85zM38.0 40.7h0.85v0.85h-0.85zM33.6 46.1h0.85v0.85h-0.85zM33.0 45.4h0.85v0.85h-0.85zM37.8 39.1h0.85v0.85h-0.85zM31.7 45.2h0.85v0.85h-0.85zM37.4 44.3h0.85v0.85h-0.85zM30.1 43.6h0.85v0.85h-0.85zM33.4 42.1h0.85v0.85h-0.85zM31.8 44.9h0.85v0.85h-0.85zM35.6 41.6h0.85v0.85h-0.85zM35.0 44.5h0.85v0.85h-0.85zM31.8 43.6h0.85v0.85h-0.85zM38.5 41.9h0.85v0.85h-0.85zM36.0 43.4h0.85v0.85h-0.85zM34.9 41.5h0.85v0.85h-0.85zM40.1 40.8h0.85v0.85h-0.85zM31.2 43.0h0.85v0.85h-0.85zM36.8 42.7h0.85v0.85h-0.85zM40.5 39.0h0.85v0.85h-0.85zM35.3 40.9h0.85v0.85h-0.85zM41.6 34.2h0.85v0.85h-0.85zM39.9 34.4h0.85v0.85h-0.85zM41.7 42.3h0.85v0.85h-0.85zM39.6 40.4h0.85v0.85h-0.85zM37.4 39.4h0.85v0.85h-0.85zM36.2 40.2h0.85v0.85h-0.85zM38.9 25.7h0.85v0.85h-0.85zM42.5 40.3h0.85v0.85h-0.85zM41.5 38.9h0.85v0.85h-0.85zM31.4 51.8h0.85v0.85h-0.85zM42.2 37.3h0.85v0.85h-0.85zM32.7 32.4h0.85v0.85h-0.85zM37.2 39.6h0.85v0.85h-0.85zM31.5 44.3h0.85v0.85h-0.85zM43.2 38.3h0.85v0.85h-0.85z" fill="#0a0aff" opacity="0.85"/>
<polygon points="56.0,22.1 61.7,22.1 58.3,28.8 56.4,32.3 56.0,32.3" fill="#4aa02a" opacity="0.73"/>
<path d="M58.3 26.0h0.8v0.8h-0.8zM59.5 22.3h0.8v0.8h-0.8zM56.2 22.2h0.8v0.8h-0.8zM57.8 23.6h0.8v0.8h-0.8zM57.3 24.1h0.8v0.8h-0.8zM58.2 26.7h0.8v0.8h-0.8zM57.3 25.0h0.8v0.8h-0.8zM58.3 28.8h0.8v0.8h-0.8zM56.5 24.1h0.8v0.8h-0.8zM60.9 22.9h0.8v0.8h-0.8zM57.6 27.1h0.8v0.8h-0.8zM60.7 24.0h0.8v0.8h-0.8zM60.4 23.0h0.8v0.8h-0.8zM58.0 26.8h0.8v0.8h-0.8zM58.2 27.4h0.8v0.8h-0.8zM57.7 23.9h0.8v0.8h-0.8zM57.4 24.7h0.8v0.8h-0.8zM57.4 26.4h0.8v0.8h-0.8zM56.3 32.3h0.8v0.8h-0.8zM56.2 29.1h0.8v0.8h-0.8zM59.3 23.7h0.8v0.8h-0.8zM58.0 28.4h0.8v0.8h-0.8zM57.7 24.3h0.8v0.8h-0.8zM61.0 23.2h0.8v0.8h-0.8zM56.1 30.4h0.8v0.8h-0.8zM60.5 22.1h0.8v0.8h-0.8zM57.3 29.6h0.8v0.8h-0.8zM61.1 23.0h0.8v0.8h-0.8zM60.5 24.4h0.8v0.8h-0.8zM59.2 26.6h0.8v0.8h-0.8zM60.1 24.8h0.8v0.8h-0.8zM58.9 24.0h0.8v0.8h-0.8zM58.0 26.4h0.8v0.8h-0.8zM56.5 25.3h0.8v0.8h-0.8zM58.0 25.4h0.8v0.8h-0.8zM56.8 23.0h0.8v0.8h-0.8zM58.3 23.8h0.8v0.8h-0.8zM56.5 26.2h0.8v0.8h-0.8zM60.4 23.0h0.8v0.8h-0.8zM58.5 22.9h0.8v0.8h-0.8zM57.2 27.7h0.8v0.8h-0.8zM57.8 24.5h0.8v0.8h-0.8zM56.4 24.0h0.8v0.8h-0.8zM56.2 22.1h0.8v0.8h-0.8zM56.7 27.6h0.8v0.8h-0.8zM58.8 23.0h0.8v0.8h-0.8zM56.8 29.2h0.8v0.8h-0.8zM57.3 25.6h0.8v0.8h-0.8zM58.5 26.5h0.8v0.8h-0.8zM57.6 23.7h0.8v0.8h-0.8zM56.2 31.1h0.8v0.8h-0.8zM57.2 23.2h0.8v0.8h-0.8zM56.0 25.5h0.8v0.8h-0.8zM57.3 27.0h0.8v0.8h-0.8zM59.1 24.1h0.8v0.8h-0.8zM60.1 23.4h0.8v0.8h-0.8zM58.5 24.0h0.8v0.8h-0.8zM59.8 24.0h0.8v0.8h-0.8zM58.6 23.6h0.8v0.8h-0.8zM59.4 25.0h0.8v0.8h-0.8zM57.2 28.3h0.8v0.8h-0.8zM58.8 25.1h0.8v0.8h-0.8zM59.3 22.6h0.8v0.8h-0.8zM57.1 27.0h0.8v0.8h-0.8zM56.6 23.4h0.8v0.8h-0.8zM56.2 26.0h0.8v0.8h-0.8zM57.0 22.8h0.8v0.8h-0.8zM56.4 30.0h0.8v0.8h-0.8zM58.6 27.5h0.8v0.8h-0.8zM57.7 25.4h0.8v0.8h-0.8zM56.3 31.2h0.8v0.8h-0.8zM60.7 22.6h0.8v0.8h-0.8zM56.8 25.0h0.8v0.8h-0.8zM56.2 27.2h0.8v0.8h-0.8zM57.7 25.3h0.8v0.8h-0.8z" fill="#2c9a10" opacity="0.9"/>
<path d="M53.0 21.1h0.8v0.8h-0.8zM53.8 20.6h0.8v0.8h-0.8zM53.9 21.5h0.8v0.8h-0.8z" fill="#ff2a2a" opacity="0.75"/>
<path d="M60.5 20.7h0.8v0.8h-0.8zM60.4 20.4h0.8v0.8h-0.8z" fill="#a040f0" opacity="0.75"/>
<rect x="-1.90" y="0.00" width="2.50" height="72.00" fill="#6c6cff" stroke="none" stroke-width="0" />
<rect x="-1.20" y="70.20" width="71.20" height="2.50" fill="#6c6cff" stroke="none" stroke-width="0" />
<path d="M-1.9 1.2h2.5v2.6h-2.5zM-1.9 6.2h2.5v1.2h-2.5zM-1.9 11.0h2.5v2.6h-2.5zM-1.9 16.0h2.5v1.2h-2.5zM-1.9 20.8h2.5v2.6h-2.5zM-1.9 25.8h2.5v1.2h-2.5zM-1.9 30.6h2.5v2.6h-2.5zM-1.9 35.6h2.5v1.2h-2.5zM-1.9 40.4h2.5v2.6h-2.5zM-1.9 45.4h2.5v1.2h-2.5zM-1.9 50.2h2.5v2.6h-2.5zM-1.9 55.2h2.5v1.2h-2.5zM-1.9 60.0h2.5v2.6h-2.5zM-1.9 65.0h2.5v1.2h-2.5zM-1.9 69.8h2.5v2.6h-2.5zM-1.9 74.8h2.5v1.2h-2.5zM-0.5 70.2h3.2v2.5h-3.2zM4.7 70.2h1.5v2.5h-1.5zM9.2 70.2h3.2v2.5h-3.2zM14.4 70.2h1.5v2.5h-1.5zM18.9 70.2h3.2v2.5h-3.2zM24.1 70.2h1.5v2.5h-1.5zM28.6 70.2h3.2v2.5h-3.2zM33.8 70.2h1.5v2.5h-1.5zM38.3 70.2h3.2v2.5h-3.2zM43.5 70.2h1.5v2.5h-1.5zM48.0 70.2h3.2v2.5h-3.2zM53.2 70.2h1.5v2.5h-1.5zM57.7 70.2h3.2v2.5h-3.2zM62.9 70.2h1.5v2.5h-1.5zM67.4 70.2h3.2v2.5h-3.2zM72.6 70.2h1.5v2.5h-1.5z" fill="#1010ff"/>
<path d="M-6.8 -0.3l1.5 1.3l0.5 2.3M-6.6 2.3l0.3 0.4 M-6.8 9.5l1.5 1.3l0.5 2.3M-6.6 12.1l0.3 0.4 M-6.8 19.3l1.5 1.3l0.5 2.3M-6.6 21.9l0.3 0.4 M-6.8 29.1l1.5 1.3l0.5 2.3M-6.6 31.7l0.3 0.4 M-6.8 38.9l1.5 1.3l0.5 2.3M-6.6 41.5l0.3 0.4 M-6.8 48.7l1.5 1.3l0.5 2.3M-6.6 51.3l0.3 0.4 M-6.8 58.5l1.5 1.3l0.5 2.3M-6.6 61.1l0.3 0.4 M-6.8 68.3l1.5 1.3l0.5 2.3M-6.6 70.9l0.3 0.4 M-0.8 76.8l1.8-0.3l1.4-1.4l0.2-1.1M2.1 77.1l0.4 0.2 M8.9 76.8l1.8-0.3l1.4-1.4l0.2-1.1M11.8 77.1l0.4 0.2 M18.6 76.8l1.8-0.3l1.4-1.4l0.2-1.1M21.5 77.1l0.4 0.2 M28.3 76.8l1.8-0.3l1.4-1.4l0.2-1.1M31.2 77.1l0.4 0.2 M38.0 76.8l1.8-0.3l1.4-1.4l0.2-1.1M40.9 77.1l0.4 0.2 M47.7 76.8l1.8-0.3l1.4-1.4l0.2-1.1M50.6 77.1l0.4 0.2 M57.4 76.8l1.8-0.3l1.4-1.4l0.2-1.1M60.3 77.1l0.4 0.2 M67.1 76.8l1.8-0.3l1.4-1.4l0.2-1.1M70.0 77.1l0.4 0.2" fill="none" stroke="#2a2af0" stroke-width="1.0"/>
<text transform="translate(-8.6,43.4) rotate(-90)" font-size="3.9" font-family="'Liberation Sans',Arial,sans-serif" fill="#222" text-anchor="middle">PI-A</text>
<text x="37.1" y="81.1" font-size="3.9" font-family="'Liberation Sans',Arial,sans-serif" fill="#222" text-anchor="middle">FITC-A</text>
<text transform="translate(1.0,4.7) scale(1.12,1)" font-size="4.5" font-family="'Liberation Sans',Arial,sans-serif" fill="#f04848" opacity="0.85">Q2-UL</text>
<text transform="translate(1.0,8.8) scale(1.12,1)" font-size="4.5" font-family="'Liberation Sans',Arial,sans-serif" fill="#f04848" opacity="0.85">0.9%</text>
<text transform="translate(54.6,4.7) scale(1.12,1)" font-size="4.5" font-family="'Liberation Sans',Arial,sans-serif" fill="#b060e0" opacity="0.85">Q2-UR</text>
<text transform="translate(54.6,8.8) scale(1.12,1)" font-size="4.5" font-family="'Liberation Sans',Arial,sans-serif" fill="#b060e0" opacity="0.85">0.4%</text>
<text transform="translate(1.0,65.6) scale(1.12,1)" font-size="4.5" font-family="'Liberation Sans',Arial,sans-serif" fill="#2020d0" opacity="0.85">Q2-LL</text>
<text transform="translate(1.0,69.6) scale(1.12,1)" font-size="4.5" font-family="'Liberation Sans',Arial,sans-serif" fill="#2020d0" opacity="0.85">90.6%</text>
<text transform="translate(54.6,65.6) scale(1.12,1)" font-size="4.5" font-family="'Liberation Sans',Arial,sans-serif" fill="#48a030" opacity="0.85">Q2-LR</text>
<text transform="translate(54.6,69.6) scale(1.12,1)" font-size="4.5" font-family="'Liberation Sans',Arial,sans-serif" fill="#48a030" opacity="0.85">8.1%</text>
</g>
<g transform="translate(216,124.8)">
<rect x="0.00" y="0.00" width="70.00" height="70.50" fill="none" stroke="#7a7aff" stroke-width="0.9" />
<line x1="55.7" y1="0" x2="55.7" y2="70.5" stroke="#f28080" stroke-width="1.15" />
<line x1="0" y1="21.6" x2="70" y2="21.6" stroke="#f28080" stroke-width="1.15" />
<polygon points="29.5,43.5 35.2,39.7 41.7,36.9 45.4,35.9 46.2,37.8 41.7,40.7 36.1,44.5 32.4,46.9 29.7,46.0" fill="#0a0aff" opacity="0.88" filter="url(#fb)"/>
<path d="M42.4 32.7h0.85v0.85h-0.85zM45.2 33.3h0.85v0.85h-0.85zM35.6 38.3h0.85v0.85h-0.85zM38.7 36.0h0.85v0.85h-0.85zM43.3 29.8h0.85v0.85h-0.85zM44.2 33.4h0.85v0.85h-0.85zM45.3 35.9h0.85v0.85h-0.85zM41.0 36.5h0.85v0.85h-0.85zM29.2 42.8h0.85v0.85h-0.85zM39.1 36.9h0.85v0.85h-0.85zM43.9 35.7h0.85v0.85h-0.85zM44.2 31.9h0.85v0.85h-0.85zM40.7 37.9h0.85v0.85h-0.85zM44.6 36.5h0.85v0.85h-0.85zM32.9 41.4h0.85v0.85h-0.85zM29.2 42.3h0.85v0.85h-0.85zM44.1 34.8h0.85v0.85h-0.85zM45.1 32.9h0.85v0.85h-0.85zM36.9 37.1h0.85v0.85h-0.85zM41.4 36.7h0.85v0.85h-0.85zM42.0 34.6h0.85v0.85h-0.85zM42.0 37.4h0.85v0.85h-0.85zM46.0 32.1h0.85v0.85h-0.85zM31.9 41.6h0.85v0.85h-0.85zM43.2 30.2h0.85v0.85h-0.85zM40.9 32.6h0.85v0.85h-0.85zM34.3 40.0h0.85v0.85h-0.85zM42.5 30.8h0.85v0.85h-0.85zM43.5 36.9h0.85v0.85h-0.85zM34.5 37.3h0.85v0.85h-0.85zM40.8 32.4h0.85v0.85h-0.85zM29.5 43.1h0.85v0.85h-0.85zM35.2 38.9h0.85v0.85h-0.85zM33.9 40.9h0.85v0.85h-0.85zM41.1 36.0h0.85v0.85h-0.85zM28.4 41.4h0.85v0.85h-0.85zM43.1 31.8h0.85v0.85h-0.85zM44.2 34.4h0.85v0.85h-0.85zM41.5 33.8h0.85v0.85h-0.85zM35.9 37.6h0.85v0.85h-0.85zM38.3 37.7h0.85v0.85h-0.85zM40.9 32.4h0.85v0.85h-0.85zM45.9 27.4h0.85v0.85h-0.85zM41.7 36.0h0.85v0.85h-0.85zM31.7 41.8h0.85v0.85h-0.85zM43.5 29.1h0.85v0.85h-0.85zM43.5 31.3h0.85v0.85h-0.85zM36.6 38.0h0.85v0.85h-0.85zM43.3 37.0h0.85v0.85h-0.85zM31.5 42.2h0.85v0.85h-0.85zM42.7 36.4h0.85v0.85h-0.85zM46.1 36.1h0.85v0.85h-0.85zM43.4 30.5h0.85v0.85h-0.85zM44.7 36.0h0.85v0.85h-0.85zM42.9 31.9h0.85v0.85h-0.85zM39.0 37.6h0.85v0.85h-0.85zM45.6 31.9h0.85v0.85h-0.85zM40.9 33.1h0.85v0.85h-0.85zM44.0 33.3h0.85v0.85h-0.85zM38.2 36.3h0.85v0.85h-0.85zM31.2 42.0h0.85v0.85h-0.85zM44.8 35.3h0.85v0.85h-0.85zM36.4 38.9h0.85v0.85h-0.85zM44.9 33.1h0.85v0.85h-0.85zM35.4 37.9h0.85v0.85h-0.85zM31.6 39.0h0.85v0.85h-0.85zM40.8 37.7h0.85v0.85h-0.85zM39.7 35.4h0.85v0.85h-0.85zM41.4 35.3h0.85v0.85h-0.85zM30.8 42.6h0.85v0.85h-0.85zM29.8 42.0h0.85v0.85h-0.85zM33.5 38.4h0.85v0.85h-0.85zM46.1 33.2h0.85v0.85h-0.85zM39.6 35.4h0.85v0.85h-0.85zM45.9 31.4h0.85v0.85h-0.85zM28.3 43.0h0.85v0.85h-0.85zM35.0 37.6h0.85v0.85h-0.85zM36.6 37.9h0.85v0.85h-0.85zM32.3 39.2h0.85v0.85h-0.85zM42.7 35.4h0.85v0.85h-0.85zM42.4 35.7h0.85v0.85h-0.85zM31.2 39.7h0.85v0.85h-0.85zM44.1 33.9h0.85v0.85h-0.85zM31.4 41.2h0.85v0.85h-0.85zM43.6 33.4h0.85v0.85h-0.85zM43.8 33.2h0.85v0.85h-0.85zM44.6 28.8h0.85v0.85h-0.85zM42.4 35.2h0.85v0.85h-0.85zM44.9 32.5h0.85v0.85h-0.85zM42.2 33.3h0.85v0.85h-0.85zM42.2 35.1h0.85v0.85h-0.85zM43.2 30.4h0.85v0.85h-0.85zM40.4 36.1h0.85v0.85h-0.85zM44.6 34.9h0.85v0.85h-0.85zM37.1 38.7h0.85v0.85h-0.85zM37.1 36.1h0.85v0.85h-0.85zM35.5 37.4h0.85v0.85h-0.85zM33.0 38.6h0.85v0.85h-0.85zM38.1 35.6h0.85v0.85h-0.85zM45.8 28.5h0.85v0.85h-0.85zM42.4 36.2h0.85v0.85h-0.85zM45.1 33.4h0.85v0.85h-0.85zM39.6 37.6h0.85v0.85h-0.85zM32.3 41.1h0.85v0.85h-0.85zM36.5 39.0h0.85v0.85h-0.85zM30.2 42.0h0.85v0.85h-0.85zM41.6 37.1h0.85v0.85h-0.85zM44.7 31.1h0.85v0.85h-0.85zM41.3 32.9h0.85v0.85h-0.85zM29.4 42.7h0.85v0.85h-0.85zM42.6 36.7h0.85v0.85h-0.85zM45.2 34.9h0.85v0.85h-0.85zM42.2 31.0h0.85v0.85h-0.85zM28.7 44.4h0.85v0.85h-0.85zM28.0 42.6h0.85v0.85h-0.85zM37.8 38.9h0.85v0.85h-0.85zM31.2 42.0h0.85v0.85h-0.85zM41.5 31.8h0.85v0.85h-0.85zM44.8 35.0h0.85v0.85h-0.85zM43.4 31.5h0.85v0.85h-0.85zM44.6 34.6h0.85v0.85h-0.85zM42.2 36.5h0.85v0.85h-0.85zM41.6 33.2h0.85v0.85h-0.85zM38.9 35.6h0.85v0.85h-0.85zM31.6 39.2h0.85v0.85h-0.85zM52.6 28.3h0.85v0.85h-0.85zM46.5 30.0h0.85v0.85h-0.85zM55.0 24.6h0.85v0.85h-0.85zM55.3 24.4h0.85v0.85h-0.85zM48.7 27.2h0.85v0.85h-0.85zM52.4 26.1h0.85v0.85h-0.85zM47.4 31.8h0.85v0.85h-0.85zM52.4 22.1h0.85v0.85h-0.85zM50.3 34.7h0.85v0.85h-0.85zM49.9 24.2h0.85v0.85h-0.85zM54.7 30.8h0.85v0.85h-0.85zM54.5 31.9h0.85v0.85h-0.85zM49.4 32.7h0.85v0.85h-0.85zM52.1 33.6h0.85v0.85h-0.85zM47.0 29.9h0.85v0.85h-0.85zM47.0 31.5h0.85v0.85h-0.85zM53.7 27.8h0.85v0.85h-0.85zM54.2 32.3h0.85v0.85h-0.85zM52.6 25.4h0.85v0.85h-0.85zM54.4 22.9h0.85v0.85h-0.85zM50.7 27.1h0.85v0.85h-0.85zM49.4 25.9h0.85v0.85h-0.85zM54.1 28.8h0.85v0.85h-0.85zM51.4 23.8h0.85v0.85h-0.85zM47.3 27.1h0.85v0.85h-0.85zM49.8 35.9h0.85v0.85h-0.85zM46.4 33.3h0.85v0.85h-0.85zM54.7 28.6h0.85v0.85h-0.85zM49.0 25.7h0.85v0.85h-0.85zM54.9 31.7h0.85v0.85h-0.85zM53.7 33.1h0.85v0.85h-0.85zM48.8 26.7h0.85v0.85h-0.85zM50.1 23.7h0.85v0.85h-0.85zM52.5 27.0h0.85v0.85h-0.85zM49.2 25.3h0.85v0.85h-0.85zM48.5 25.4h0.85v0.85h-0.85zM54.6 28.8h0.85v0.85h-0.85zM51.3 26.8h0.85v0.85h-0.85zM55.3 31.0h0.85v0.85h-0.85zM53.2 25.2h0.85v0.85h-0.85zM50.2 35.6h0.85v0.85h-0.85zM51.7 25.0h0.85v0.85h-0.85zM47.1 35.2h0.85v0.85h-0.85zM54.6 26.5h0.85v0.85h-0.85zM53.0 33.1h0.85v0.85h-0.85zM50.2 35.2h0.85v0.85h-0.85zM47.2 34.4h0.85v0.85h-0.85zM53.2 25.4h0.85v0.85h-0.85zM51.5 28.2h0.85v0.85h-0.85zM49.2 27.5h0.85v0.85h-0.85zM47.7 31.5h0.85v0.85h-0.85zM54.0 25.4h0.85v0.85h-0.85zM51.8 27.9h0.85v0.85h-0.85zM46.5 33.2h0.85v0.85h-0.85zM47.4 26.2h0.85v0.85h-0.85zM51.0 25.0h0.85v0.85h-0.85zM47.1 34.4h0.85v0.85h-0.85zM47.2 30.4h0.85v0.85h-0.85zM49.9 26.0h0.85v0.85h-0.85zM50.5 26.2h0.85v0.85h-0.85zM55.2 28.9h0.85v0.85h-0.85zM47.3 33.1h0.85v0.85h-0.85zM47.7 33.2h0.85v0.85h-0.85zM53.3 27.7h0.85v0.85h-0.85zM49.6 34.6h0.85v0.85h-0.85zM55.0 27.7h0.85v0.85h-0.85zM52.8 27.1h0.85v0.85h-0.85zM48.7 26.3h0.85v0.85h-0.85zM52.7 28.9h0.85v0.85h-0.85zM53.9 24.9h0.85v0.85h-0.85zM47.7 30.0h0.85v0.85h-0.85zM46.6 28.1h0.85v0.85h-0.85zM48.1 34.9h0.85v0.85h-0.85zM46.2 30.5h0.85v0.85h-0.85zM54.6 24.2h0.85v0.85h-0.85zM48.6 28.5h0.85v0.85h-0.85zM47.1 29.1h0.85v0.85h-0.85zM50.5 26.7h0.85v0.85h-0.85zM48.1 28.5h0.85v0.85h-0.85zM51.6 28.1h0.85v0.85h-0.85zM51.8 28.2h0.85v0.85h-0.85zM51.7 33.4h0.85v0.85h-0.85zM49.0 24.4h0.85v0.85h-0.85zM49.1 24.1h0.85v0.85h-0.85zM52.3 25.3h0.85v0.85h-0.85zM47.4 33.6h0.85v0.85h-0.85zM51.6 24.2h0.85v0.85h-0.85zM55.2 24.4h0.85v0.85h-0.85zM52.2 24.3h0.85v0.85h-0.85zM48.7 33.6h0.85v0.85h-0.85zM55.4 29.1h0.85v0.85h-0.85zM54.7 24.8h0.85v0.85h-0.85zM49.8 32.0h0.85v0.85h-0.85zM47.3 32.2h0.85v0.85h-0.85zM46.6 29.7h0.85v0.85h-0.85zM47.3 31.9h0.85v0.85h-0.85zM50.0 34.1h0.85v0.85h-0.85zM49.2 36.9h0.85v0.85h-0.85zM54.2 22.4h0.85v0.85h-0.85zM47.8 25.7h0.85v0.85h-0.85zM50.3 34.3h0.85v0.85h-0.85zM52.5 25.6h0.85v0.85h-0.85zM51.4 23.6h0.85v0.85h-0.85zM50.5 25.5h0.85v0.85h-0.85zM49.0 27.1h0.85v0.85h-0.85zM54.4 23.2h0.85v0.85h-0.85zM48.7 24.0h0.85v0.85h-0.85zM51.4 34.5h0.85v0.85h-0.85zM48.3 33.5h0.85v0.85h-0.85zM49.6 36.4h0.85v0.85h-0.85zM55.3 24.6h0.85v0.85h-0.85zM53.8 30.9h0.85v0.85h-0.85zM54.8 29.2h0.85v0.85h-0.85zM46.3 33.4h0.85v0.85h-0.85zM47.1 35.5h0.85v0.85h-0.85zM46.2 30.5h0.85v0.85h-0.85zM49.9 25.1h0.85v0.85h-0.85zM51.1 26.7h0.85v0.85h-0.85zM46.9 34.1h0.85v0.85h-0.85zM50.5 34.6h0.85v0.85h-0.85zM47.1 27.1h0.85v0.85h-0.85zM47.2 34.7h0.85v0.85h-0.85zM50.4 31.1h0.85v0.85h-0.85zM46.6 28.6h0.85v0.85h-0.85zM48.4 36.8h0.85v0.85h-0.85zM50.6 27.1h0.85v0.85h-0.85zM52.0 24.0h0.85v0.85h-0.85zM48.0 26.8h0.85v0.85h-0.85zM46.4 27.1h0.85v0.85h-0.85zM48.8 26.9h0.85v0.85h-0.85zM54.1 30.4h0.85v0.85h-0.85zM46.8 33.4h0.85v0.85h-0.85zM49.7 34.2h0.85v0.85h-0.85zM47.1 32.8h0.85v0.85h-0.85zM52.0 29.0h0.85v0.85h-0.85zM51.9 34.7h0.85v0.85h-0.85zM49.8 24.6h0.85v0.85h-0.85zM52.9 22.1h0.85v0.85h-0.85zM54.5 22.7h0.85v0.85h-0.85zM47.7 33.2h0.85v0.85h-0.85zM50.3 26.5h0.85v0.85h-0.85zM52.3 27.4h0.85v0.85h-0.85zM55.2 25.7h0.85v0.85h-0.85zM47.0 33.0h0.85v0.85h-0.85zM48.1 26.0h0.85v0.85h-0.85zM55.2 30.3h0.85v0.85h-0.85zM52.9 27.4h0.85v0.85h-0.85zM49.9 35.9h0.85v0.85h-0.85zM47.6 28.2h0.85v0.85h-0.85zM47.1 28.9h0.85v0.85h-0.85zM46.2 28.5h0.85v0.85h-0.85zM48.0 28.1h0.85v0.85h-0.85zM49.0 27.0h0.85v0.85h-0.85zM50.1 25.8h0.85v0.85h-0.85zM48.9 26.2h0.85v0.85h-0.85zM53.4 23.4h0.85v0.85h-0.85zM48.1 33.4h0.85v0.85h-0.85zM54.8 24.3h0.85v0.85h-0.85zM55.1 29.6h0.85v0.85h-0.85zM47.3 30.2h0.85v0.85h-0.85zM52.1 34.5h0.85v0.85h-0.85zM52.6 32.9h0.85v0.85h-0.85zM55.3 25.0h0.85v0.85h-0.85zM51.3 28.3h0.85v0.85h-0.85zM50.9 25.1h0.85v0.85h-0.85zM53.3 32.6h0.85v0.85h-0.85zM48.3 26.5h0.85v0.85h-0.85zM54.3 24.9h0.85v0.85h-0.85zM54.2 30.3h0.85v0.85h-0.85zM46.3 29.1h0.85v0.85h-0.85zM51.3 23.9h0.85v0.85h-0.85zM50.6 35.8h0.85v0.85h-0.85zM49.8 35.4h0.85v0.85h-0.85zM46.6 33.2h0.85v0.85h-0.85zM47.6 36.5h0.85v0.85h-0.85zM49.0 34.8h0.85v0.85h-0.85zM51.3 25.3h0.85v0.85h-0.85zM53.0 28.4h0.85v0.85h-0.85zM48.3 31.5h0.85v0.85h-0.85zM52.9 22.9h0.85v0.85h-0.85zM50.5 26.4h0.85v0.85h-0.85zM49.0 26.3h0.85v0.85h-0.85zM50.1 26.3h0.85v0.85h-0.85zM47.9 25.3h0.85v0.85h-0.85zM50.8 35.2h0.85v0.85h-0.85zM48.2 36.4h0.85v0.85h-0.85zM54.9 24.9h0.85v0.85h-0.85zM52.2 27.4h0.85v0.85h-0.85zM47.7 26.1h0.85v0.85h-0.85zM52.3 24.0h0.85v0.85h-0.85zM47.1 34.7h0.85v0.85h-0.85zM53.9 22.5h0.85v0.85h-0.85zM47.1 36.7h0.85v0.85h-0.85zM53.6 23.6h0.85v0.85h-0.85zM46.2 34.2h0.85v0.85h-0.85zM53.5 27.7h0.85v0.85h-0.85zM55.0 31.5h0.85v0.85h-0.85zM51.0 22.6h0.85v0.85h-0.85zM50.8 27.7h0.85v0.85h-0.85zM50.3 27.2h0.85v0.85h-0.85zM54.3 27.5h0.85v0.85h-0.85zM54.1 29.8h0.85v0.85h-0.85zM49.5 35.1h0.85v0.85h-0.85zM47.4 26.8h0.85v0.85h-0.85zM47.2 35.1h0.85v0.85h-0.85zM52.9 26.8h0.85v0.85h-0.85zM52.3 34.7h0.85v0.85h-0.85zM50.5 28.1h0.85v0.85h-0.85zM51.6 27.9h0.85v0.85h-0.85zM48.9 28.2h0.85v0.85h-0.85zM53.6 24.3h0.85v0.85h-0.85zM50.6 25.5h0.85v0.85h-0.85zM55.0 22.1h0.85v0.85h-0.85zM49.4 36.5h0.85v0.85h-0.85zM52.9 25.5h0.85v0.85h-0.85zM53.2 29.5h0.85v0.85h-0.85zM54.6 30.3h0.85v0.85h-0.85zM53.9 27.6h0.85v0.85h-0.85zM52.3 25.3h0.85v0.85h-0.85zM48.3 26.0h0.85v0.85h-0.85zM50.0 26.4h0.85v0.85h-0.85zM51.8 22.6h0.85v0.85h-0.85zM46.3 35.9h0.85v0.85h-0.85zM52.5 33.9h0.85v0.85h-0.85zM47.1 28.2h0.85v0.85h-0.85zM49.0 34.6h0.85v0.85h-0.85zM53.4 24.4h0.85v0.85h-0.85zM47.4 30.4h0.85v0.85h-0.85zM46.5 35.6h0.85v0.85h-0.85zM53.0 26.8h0.85v0.85h-0.85zM47.6 32.6h0.85v0.85h-0.85zM46.9 27.2h0.85v0.85h-0.85zM52.2 33.8h0.85v0.85h-0.85zM55.2 27.1h0.85v0.85h-0.85zM55.2 25.8h0.85v0.85h-0.85zM47.2 31.8h0.85v0.85h-0.85zM46.6 35.1h0.85v0.85h-0.85zM48.6 29.9h0.85v0.85h-0.85zM46.6 28.7h0.85v0.85h-0.85zM54.0 24.9h0.85v0.85h-0.85zM47.6 27.3h0.85v0.85h-0.85zM49.5 27.0h0.85v0.85h-0.85zM52.0 26.9h0.85v0.85h-0.85zM51.4 27.8h0.85v0.85h-0.85zM54.3 28.5h0.85v0.85h-0.85zM46.6 29.4h0.85v0.85h-0.85zM46.9 35.8h0.85v0.85h-0.85zM53.7 23.8h0.85v0.85h-0.85zM51.3 28.1h0.85v0.85h-0.85zM50.0 25.4h0.85v0.85h-0.85zM48.0 27.3h0.85v0.85h-0.85zM52.9 34.3h0.85v0.85h-0.85zM37.2 43.0h0.85v0.85h-0.85zM43.4 38.7h0.85v0.85h-0.85zM45.4 37.0h0.85v0.85h-0.85zM39.3 38.5h0.85v0.85h-0.85zM34.1 44.8h0.85v0.85h-0.85zM37.1 41.2h0.85v0.85h-0.85zM33.8 44.5h0.85v0.85h-0.85zM30.7 46.3h0.85v0.85h-0.85zM46.0 37.6h0.85v0.85h-0.85zM40.1 41.7h0.85v0.85h-0.85zM32.7 44.1h0.85v0.85h-0.85zM44.8 38.7h0.85v0.85h-0.85zM45.2 38.3h0.85v0.85h-0.85zM37.3 43.6h0.85v0.85h-0.85zM35.1 40.0h0.85v0.85h-0.85zM43.4 38.3h0.85v0.85h-0.85zM39.6 39.2h0.85v0.85h-0.85zM33.3 43.3h0.85v0.85h-0.85zM38.4 39.0h0.85v0.85h-0.85zM36.8 43.9h0.85v0.85h-0.85zM40.5 41.0h0.85v0.85h-0.85zM33.3 46.0h0.85v0.85h-0.85zM44.9 38.2h0.85v0.85h-0.85zM43.5 36.7h0.85v0.85h-0.85zM34.0 43.6h0.85v0.85h-0.85zM41.5 40.8h0.85v0.85h-0.85zM39.5 38.5h0.85v0.85h-0.85zM32.2 46.4h0.85v0.85h-0.85zM38.9 39.0h0.85v0.85h-0.85zM36.9 39.4h0.85v0.85h-0.85zM35.7 39.6h0.85v0.85h-0.85zM34.1 44.7h0.85v0.85h-0.85zM35.0 43.8h0.85v0.85h-0.85zM34.3 40.8h0.85v0.85h-0.85zM40.8 39.8h0.85v0.85h-0.85zM33.1 41.8h0.85v0.85h-0.85zM32.0 45.4h0.85v0.85h-0.85zM31.1 45.1h0.85v0.85h-0.85zM41.3 37.8h0.85v0.85h-0.85zM43.1 39.3h0.85v0.85h-0.85zM40.2 36.7h0.85v0.85h-0.85zM40.5 36.1h0.85v0.85h-0.85zM33.3 37.4h0.85v0.85h-0.85zM36.0 38.4h0.85v0.85h-0.85zM34.0 42.6h0.85v0.85h-0.85zM29.0 35.1h0.85v0.85h-0.85zM23.8 39.9h0.85v0.85h-0.85zM42.4 45.5h0.85v0.85h-0.85zM34.3 41.3h0.85v0.85h-0.85zM34.7 43.2h0.85v0.85h-0.85zM31.0 39.9h0.85v0.85h-0.85zM39.9 31.7h0.85v0.85h-0.85zM29.7 44.0h0.85v0.85h-0.85zM36.2 38.8h0.85v0.85h-0.85zM42.7 31.2h0.85v0.85h-0.85zM33.2 35.3h0.85v0.85h-0.85z" fill="#0a0aff" opacity="0.85"/>
<polygon points="55.9,22.1 62.7,22.1 59.3,28.0 56.7,31.8 55.9,31.8" fill="#4aa02a" opacity="0.77"/>
<path d="M59.9 22.6h0.8v0.8h-0.8zM59.4 24.1h0.8v0.8h-0.8zM59.1 27.9h0.8v0.8h-0.8zM57.4 22.7h0.8v0.8h-0.8zM58.2 26.5h0.8v0.8h-0.8zM59.8 24.2h0.8v0.8h-0.8zM59.3 27.2h0.8v0.8h-0.8zM56.6 24.6h0.8v0.8h-0.8zM56.3 25.4h0.8v0.8h-0.8zM59.4 26.1h0.8v0.8h-0.8zM57.7 23.8h0.8v0.8h-0.8zM58.0 22.7h0.8v0.8h-0.8zM57.8 22.7h0.8v0.8h-0.8zM59.3 25.2h0.8v0.8h-0.8zM60.5 25.4h0.8v0.8h-0.8zM57.5 27.1h0.8v0.8h-0.8zM57.5 22.5h0.8v0.8h-0.8zM58.8 27.2h0.8v0.8h-0.8zM61.5 23.7h0.8v0.8h-0.8zM56.3 26.6h0.8v0.8h-0.8zM57.6 27.4h0.8v0.8h-0.8zM56.6 30.1h0.8v0.8h-0.8zM57.4 27.1h0.8v0.8h-0.8zM56.8 25.1h0.8v0.8h-0.8zM56.4 23.9h0.8v0.8h-0.8zM58.0 26.8h0.8v0.8h-0.8zM56.1 24.0h0.8v0.8h-0.8zM57.4 27.0h0.8v0.8h-0.8zM58.5 23.3h0.8v0.8h-0.8zM59.6 25.4h0.8v0.8h-0.8zM59.3 24.5h0.8v0.8h-0.8zM56.2 25.0h0.8v0.8h-0.8zM56.7 25.1h0.8v0.8h-0.8zM57.1 29.7h0.8v0.8h-0.8zM57.0 27.6h0.8v0.8h-0.8zM59.5 24.9h0.8v0.8h-0.8zM57.0 27.4h0.8v0.8h-0.8zM59.4 23.0h0.8v0.8h-0.8zM56.2 26.9h0.8v0.8h-0.8zM60.3 24.6h0.8v0.8h-0.8zM58.7 25.8h0.8v0.8h-0.8zM56.0 25.8h0.8v0.8h-0.8zM58.8 26.4h0.8v0.8h-0.8zM60.0 22.6h0.8v0.8h-0.8zM56.8 22.9h0.8v0.8h-0.8zM59.3 28.0h0.8v0.8h-0.8zM58.5 26.1h0.8v0.8h-0.8zM58.1 24.7h0.8v0.8h-0.8zM59.7 22.9h0.8v0.8h-0.8zM57.5 24.9h0.8v0.8h-0.8zM56.0 30.3h0.8v0.8h-0.8zM57.5 23.7h0.8v0.8h-0.8zM58.9 24.5h0.8v0.8h-0.8zM58.7 24.6h0.8v0.8h-0.8zM57.4 22.4h0.8v0.8h-0.8zM58.0 29.9h0.8v0.8h-0.8zM57.6 24.6h0.8v0.8h-0.8zM56.1 28.5h0.8v0.8h-0.8zM57.5 30.4h0.8v0.8h-0.8zM59.8 23.0h0.8v0.8h-0.8zM57.1 23.3h0.8v0.8h-0.8zM56.6 30.5h0.8v0.8h-0.8zM59.0 27.7h0.8v0.8h-0.8zM60.6 22.9h0.8v0.8h-0.8zM62.5 22.4h0.8v0.8h-0.8zM56.7 29.1h0.8v0.8h-0.8zM58.1 28.3h0.8v0.8h-0.8zM59.7 26.8h0.8v0.8h-0.8zM56.6 25.0h0.8v0.8h-0.8zM56.1 22.4h0.8v0.8h-0.8zM59.6 26.5h0.8v0.8h-0.8zM57.1 23.6h0.8v0.8h-0.8zM57.3 30.7h0.8v0.8h-0.8zM59.7 26.1h0.8v0.8h-0.8zM59.8 26.3h0.8v0.8h-0.8zM59.2 22.8h0.8v0.8h-0.8zM56.6 22.7h0.8v0.8h-0.8zM57.4 23.8h0.8v0.8h-0.8zM57.2 25.9h0.8v0.8h-0.8zM56.8 28.6h0.8v0.8h-0.8zM59.6 25.9h0.8v0.8h-0.8zM56.5 24.7h0.8v0.8h-0.8zM56.5 22.8h0.8v0.8h-0.8zM58.4 29.0h0.8v0.8h-0.8zM57.5 24.0h0.8v0.8h-0.8zM62.2 22.4h0.8v0.8h-0.8zM57.4 27.9h0.8v0.8h-0.8zM57.4 27.2h0.8v0.8h-0.8zM57.1 24.1h0.8v0.8h-0.8zM56.0 25.5h0.8v0.8h-0.8zM56.4 25.0h0.8v0.8h-0.8zM56.7 26.8h0.8v0.8h-0.8zM59.5 22.9h0.8v0.8h-0.8zM56.3 30.0h0.8v0.8h-0.8zM56.5 25.7h0.8v0.8h-0.8zM57.5 24.1h0.8v0.8h-0.8zM57.4 24.2h0.8v0.8h-0.8zM60.3 24.4h0.8v0.8h-0.8z" fill="#2c9a10" opacity="0.9"/>
<path d="M55.4 21.4h0.8v0.8h-0.8zM53.9 21.5h0.8v0.8h-0.8zM54.7 21.4h0.8v0.8h-0.8z" fill="#ff2a2a" opacity="0.75"/>
<path d="M59.9 20.3h0.8v0.8h-0.8zM56.6 21.4h0.8v0.8h-0.8zM63.2 20.8h0.8v0.8h-0.8zM62.7 21.5h0.8v0.8h-0.8zM58.4 21.3h0.8v0.8h-0.8zM61.8 21.1h0.8v0.8h-0.8zM57.7 20.3h0.8v0.8h-0.8zM58.5 20.6h0.8v0.8h-0.8zM59.9 20.7h0.8v0.8h-0.8zM59.0 20.6h0.8v0.8h-0.8zM57.0 20.6h0.8v0.8h-0.8zM61.0 20.6h0.8v0.8h-0.8zM62.7 21.4h0.8v0.8h-0.8zM59.4 20.6h0.8v0.8h-0.8zM60.9 21.4h0.8v0.8h-0.8zM62.1 20.5h0.8v0.8h-0.8zM57.6 20.3h0.8v0.8h-0.8zM63.1 20.6h0.8v0.8h-0.8zM58.9 21.3h0.8v0.8h-0.8zM58.2 21.2h0.8v0.8h-0.8zM56.1 20.8h0.8v0.8h-0.8z" fill="#a040f0" opacity="0.75"/>
<rect x="-1.90" y="0.00" width="2.50" height="72.00" fill="#6c6cff" stroke="none" stroke-width="0" />
<rect x="-1.20" y="70.20" width="71.20" height="2.50" fill="#6c6cff" stroke="none" stroke-width="0" />
<path d="M-1.9 1.2h2.5v2.6h-2.5zM-1.9 6.2h2.5v1.2h-2.5zM-1.9 11.0h2.5v2.6h-2.5zM-1.9 16.0h2.5v1.2h-2.5zM-1.9 20.8h2.5v2.6h-2.5zM-1.9 25.8h2.5v1.2h-2.5zM-1.9 30.6h2.5v2.6h-2.5zM-1.9 35.6h2.5v1.2h-2.5zM-1.9 40.4h2.5v2.6h-2.5zM-1.9 45.4h2.5v1.2h-2.5zM-1.9 50.2h2.5v2.6h-2.5zM-1.9 55.2h2.5v1.2h-2.5zM-1.9 60.0h2.5v2.6h-2.5zM-1.9 65.0h2.5v1.2h-2.5zM-1.9 69.8h2.5v2.6h-2.5zM-1.9 74.8h2.5v1.2h-2.5zM-0.5 70.2h3.2v2.5h-3.2zM4.7 70.2h1.5v2.5h-1.5zM9.2 70.2h3.2v2.5h-3.2zM14.4 70.2h1.5v2.5h-1.5zM18.9 70.2h3.2v2.5h-3.2zM24.1 70.2h1.5v2.5h-1.5zM28.6 70.2h3.2v2.5h-3.2zM33.8 70.2h1.5v2.5h-1.5zM38.3 70.2h3.2v2.5h-3.2zM43.5 70.2h1.5v2.5h-1.5zM48.0 70.2h3.2v2.5h-3.2zM53.2 70.2h1.5v2.5h-1.5zM57.7 70.2h3.2v2.5h-3.2zM62.9 70.2h1.5v2.5h-1.5zM67.4 70.2h3.2v2.5h-3.2zM72.6 70.2h1.5v2.5h-1.5z" fill="#1010ff"/>
<path d="M-6.8 -0.3l1.5 1.3l0.5 2.3M-6.6 2.3l0.3 0.4 M-6.8 9.5l1.5 1.3l0.5 2.3M-6.6 12.1l0.3 0.4 M-6.8 19.3l1.5 1.3l0.5 2.3M-6.6 21.9l0.3 0.4 M-6.8 29.1l1.5 1.3l0.5 2.3M-6.6 31.7l0.3 0.4 M-6.8 38.9l1.5 1.3l0.5 2.3M-6.6 41.5l0.3 0.4 M-6.8 48.7l1.5 1.3l0.5 2.3M-6.6 51.3l0.3 0.4 M-6.8 58.5l1.5 1.3l0.5 2.3M-6.6 61.1l0.3 0.4 M-6.8 68.3l1.5 1.3l0.5 2.3M-6.6 70.9l0.3 0.4 M-0.8 76.8l1.8-0.3l1.4-1.4l0.2-1.1M2.1 77.1l0.4 0.2 M8.9 76.8l1.8-0.3l1.4-1.4l0.2-1.1M11.8 77.1l0.4 0.2 M18.6 76.8l1.8-0.3l1.4-1.4l0.2-1.1M21.5 77.1l0.4 0.2 M28.3 76.8l1.8-0.3l1.4-1.4l0.2-1.1M31.2 77.1l0.4 0.2 M38.0 76.8l1.8-0.3l1.4-1.4l0.2-1.1M40.9 77.1l0.4 0.2 M47.7 76.8l1.8-0.3l1.4-1.4l0.2-1.1M50.6 77.1l0.4 0.2 M57.4 76.8l1.8-0.3l1.4-1.4l0.2-1.1M60.3 77.1l0.4 0.2 M67.1 76.8l1.8-0.3l1.4-1.4l0.2-1.1M70.0 77.1l0.4 0.2" fill="none" stroke="#2a2af0" stroke-width="1.0"/>
<text transform="translate(-8.6,43.4) rotate(-90)" font-size="3.9" font-family="'Liberation Sans',Arial,sans-serif" fill="#222" text-anchor="middle">PI-A</text>
<text x="37.1" y="81.1" font-size="3.9" font-family="'Liberation Sans',Arial,sans-serif" fill="#222" text-anchor="middle">FITC-A</text>
<text transform="translate(1.0,4.7) scale(1.12,1)" font-size="4.5" font-family="'Liberation Sans',Arial,sans-serif" fill="#f04848" opacity="0.85">Q2-UL</text>
<text transform="translate(1.0,8.8) scale(1.12,1)" font-size="4.5" font-family="'Liberation Sans',Arial,sans-serif" fill="#f04848" opacity="0.85">0.5%</text>
<text transform="translate(54.6,4.7) scale(1.12,1)" font-size="4.5" font-family="'Liberation Sans',Arial,sans-serif" fill="#b060e0" opacity="0.85">Q2-UR</text>
<text transform="translate(54.6,8.8) scale(1.12,1)" font-size="4.5" font-family="'Liberation Sans',Arial,sans-serif" fill="#b060e0" opacity="0.85">2.4%</text>
<text transform="translate(1.0,65.6) scale(1.12,1)" font-size="4.5" font-family="'Liberation Sans',Arial,sans-serif" fill="#2020d0" opacity="0.85">Q2-LL</text>
<text transform="translate(1.0,69.6) scale(1.12,1)" font-size="4.5" font-family="'Liberation Sans',Arial,sans-serif" fill="#2020d0" opacity="0.85">87.2%</text>
<text transform="translate(54.6,65.6) scale(1.12,1)" font-size="4.5" font-family="'Liberation Sans',Arial,sans-serif" fill="#48a030" opacity="0.85">Q2-LR</text>
<text transform="translate(54.6,69.6) scale(1.12,1)" font-size="4.5" font-family="'Liberation Sans',Arial,sans-serif" fill="#48a030" opacity="0.85">9.9%</text>
</g>
<g transform="translate(303,124.8)">
<rect x="0.00" y="0.00" width="70.00" height="70.50" fill="none" stroke="#7a7aff" stroke-width="0.9" />
<line x1="55.8" y1="0" x2="55.8" y2="70.5" stroke="#f28080" stroke-width="1.15" />
<line x1="0" y1="21.6" x2="70" y2="21.6" stroke="#f28080" stroke-width="1.15" />
<polygon points="30.2,44.0 35.7,40.2 43.1,36.4 46.8,34.5 50.5,31.7 54.1,26.9 55.8,21.6 55.8,31.7 53.2,36.4 48.6,39.3 43.1,41.2 36.6,45.0 32.0,46.9 29.7,46.0" fill="#0a0aff" opacity="0.88" filter="url(#fb)"/>
<path d="M38.2 35.8h0.85v0.85h-0.85zM38.4 38.3h0.85v0.85h-0.85zM35.8 39.3h0.85v0.85h-0.85zM36.0 36.0h0.85v0.85h-0.85zM39.6 31.0h0.85v0.85h-0.85zM38.8 36.3h0.85v0.85h-0.85zM37.6 35.2h0.85v0.85h-0.85zM38.2 36.4h0.85v0.85h-0.85zM30.4 42.9h0.85v0.85h-0.85zM31.8 40.5h0.85v0.85h-0.85zM30.3 43.3h0.85v0.85h-0.85zM41.3 36.4h0.85v0.85h-0.85zM37.1 36.1h0.85v0.85h-0.85zM39.9 29.3h0.85v0.85h-0.85zM36.2 36.3h0.85v0.85h-0.85zM30.9 43.2h0.85v0.85h-0.85zM41.0 36.5h0.85v0.85h-0.85zM36.4 38.6h0.85v0.85h-0.85zM42.9 36.6h0.85v0.85h-0.85zM31.1 42.8h0.85v0.85h-0.85zM40.1 32.9h0.85v0.85h-0.85zM42.1 35.9h0.85v0.85h-0.85zM29.1 41.5h0.85v0.85h-0.85zM33.0 39.6h0.85v0.85h-0.85zM35.1 38.1h0.85v0.85h-0.85zM33.3 40.7h0.85v0.85h-0.85zM38.7 35.0h0.85v0.85h-0.85zM29.9 40.5h0.85v0.85h-0.85zM35.7 36.6h0.85v0.85h-0.85zM39.7 34.7h0.85v0.85h-0.85zM38.5 36.8h0.85v0.85h-0.85zM38.7 35.2h0.85v0.85h-0.85zM31.9 41.3h0.85v0.85h-0.85zM36.1 40.0h0.85v0.85h-0.85zM37.4 35.9h0.85v0.85h-0.85zM40.0 31.6h0.85v0.85h-0.85zM32.3 42.3h0.85v0.85h-0.85zM35.6 35.8h0.85v0.85h-0.85zM41.7 37.0h0.85v0.85h-0.85zM38.4 37.8h0.85v0.85h-0.85zM38.6 32.7h0.85v0.85h-0.85zM40.5 36.4h0.85v0.85h-0.85zM28.1 45.9h0.85v0.85h-0.85zM29.0 44.1h0.85v0.85h-0.85zM33.8 40.0h0.85v0.85h-0.85zM30.9 42.2h0.85v0.85h-0.85zM39.0 38.6h0.85v0.85h-0.85zM29.5 43.0h0.85v0.85h-0.85zM36.9 34.7h0.85v0.85h-0.85zM36.7 38.1h0.85v0.85h-0.85zM37.4 38.2h0.85v0.85h-0.85zM40.3 34.3h0.85v0.85h-0.85zM29.1 42.2h0.85v0.85h-0.85zM40.6 36.1h0.85v0.85h-0.85zM36.8 37.8h0.85v0.85h-0.85zM38.4 32.3h0.85v0.85h-0.85zM32.3 42.5h0.85v0.85h-0.85zM38.4 34.4h0.85v0.85h-0.85zM39.9 33.7h0.85v0.85h-0.85zM38.6 35.6h0.85v0.85h-0.85zM37.7 35.6h0.85v0.85h-0.85zM38.6 34.0h0.85v0.85h-0.85zM39.1 32.5h0.85v0.85h-0.85zM29.7 42.4h0.85v0.85h-0.85zM30.8 41.2h0.85v0.85h-0.85zM28.3 42.8h0.85v0.85h-0.85zM33.0 40.7h0.85v0.85h-0.85zM28.1 45.8h0.85v0.85h-0.85zM29.1 44.7h0.85v0.85h-0.85zM37.0 34.8h0.85v0.85h-0.85zM38.6 32.9h0.85v0.85h-0.85zM28.0 44.4h0.85v0.85h-0.85zM39.8 29.9h0.85v0.85h-0.85zM34.7 39.6h0.85v0.85h-0.85zM37.8 36.3h0.85v0.85h-0.85zM37.5 38.3h0.85v0.85h-0.85zM35.3 38.5h0.85v0.85h-0.85zM32.6 38.9h0.85v0.85h-0.85zM39.4 32.8h0.85v0.85h-0.85zM36.0 37.7h0.85v0.85h-0.85zM40.1 29.9h0.85v0.85h-0.85zM38.8 35.4h0.85v0.85h-0.85zM38.8 37.9h0.85v0.85h-0.85zM36.2 37.9h0.85v0.85h-0.85zM33.7 38.3h0.85v0.85h-0.85zM40.1 32.1h0.85v0.85h-0.85zM42.1 35.6h0.85v0.85h-0.85zM42.1 36.9h0.85v0.85h-0.85zM35.9 36.1h0.85v0.85h-0.85zM27.9 45.4h0.85v0.85h-0.85zM33.7 39.8h0.85v0.85h-0.85zM35.5 37.3h0.85v0.85h-0.85zM37.2 38.0h0.85v0.85h-0.85zM29.7 42.4h0.85v0.85h-0.85zM28.7 44.5h0.85v0.85h-0.85zM31.8 40.9h0.85v0.85h-0.85zM39.6 33.0h0.85v0.85h-0.85zM34.4 39.0h0.85v0.85h-0.85zM38.7 35.6h0.85v0.85h-0.85zM42.0 29.8h0.85v0.85h-0.85zM46.7 31.9h0.85v0.85h-0.85zM45.6 22.8h0.85v0.85h-0.85zM51.2 26.6h0.85v0.85h-0.85zM49.1 28.3h0.85v0.85h-0.85zM48.3 30.4h0.85v0.85h-0.85zM50.1 22.0h0.85v0.85h-0.85zM48.3 27.6h0.85v0.85h-0.85zM42.8 24.1h0.85v0.85h-0.85zM53.1 25.3h0.85v0.85h-0.85zM49.7 27.1h0.85v0.85h-0.85zM45.2 27.3h0.85v0.85h-0.85zM50.0 27.2h0.85v0.85h-0.85zM46.4 32.6h0.85v0.85h-0.85zM48.4 32.3h0.85v0.85h-0.85zM43.6 31.3h0.85v0.85h-0.85zM46.5 32.6h0.85v0.85h-0.85zM42.8 29.3h0.85v0.85h-0.85zM42.7 33.3h0.85v0.85h-0.85zM48.7 22.8h0.85v0.85h-0.85zM49.5 28.4h0.85v0.85h-0.85zM50.9 29.2h0.85v0.85h-0.85zM51.5 29.7h0.85v0.85h-0.85zM53.3 26.8h0.85v0.85h-0.85zM44.9 33.4h0.85v0.85h-0.85zM48.6 30.9h0.85v0.85h-0.85zM41.7 30.5h0.85v0.85h-0.85zM52.8 27.1h0.85v0.85h-0.85zM51.0 24.5h0.85v0.85h-0.85zM54.0 22.3h0.85v0.85h-0.85zM42.2 24.8h0.85v0.85h-0.85zM52.6 24.3h0.85v0.85h-0.85zM48.7 26.4h0.85v0.85h-0.85zM51.1 28.2h0.85v0.85h-0.85zM48.7 32.4h0.85v0.85h-0.85zM42.3 30.3h0.85v0.85h-0.85zM41.9 26.1h0.85v0.85h-0.85zM46.5 23.8h0.85v0.85h-0.85zM45.3 31.8h0.85v0.85h-0.85zM49.2 23.6h0.85v0.85h-0.85zM43.9 32.0h0.85v0.85h-0.85zM45.5 22.8h0.85v0.85h-0.85zM41.8 24.2h0.85v0.85h-0.85zM49.3 29.7h0.85v0.85h-0.85zM46.0 33.4h0.85v0.85h-0.85zM44.6 33.2h0.85v0.85h-0.85zM42.7 27.9h0.85v0.85h-0.85zM47.8 22.3h0.85v0.85h-0.85zM49.2 24.4h0.85v0.85h-0.85zM48.2 33.1h0.85v0.85h-0.85zM52.0 27.3h0.85v0.85h-0.85zM42.0 32.0h0.85v0.85h-0.85zM47.7 30.9h0.85v0.85h-0.85zM45.7 24.1h0.85v0.85h-0.85zM46.8 25.2h0.85v0.85h-0.85zM48.3 25.6h0.85v0.85h-0.85zM50.9 26.1h0.85v0.85h-0.85zM41.4 32.9h0.85v0.85h-0.85zM42.4 30.9h0.85v0.85h-0.85zM53.6 26.5h0.85v0.85h-0.85zM46.6 25.8h0.85v0.85h-0.85zM46.7 34.0h0.85v0.85h-0.85zM45.2 25.4h0.85v0.85h-0.85zM47.6 28.0h0.85v0.85h-0.85zM45.6 24.6h0.85v0.85h-0.85zM42.8 25.0h0.85v0.85h-0.85zM49.1 23.1h0.85v0.85h-0.85zM44.4 31.3h0.85v0.85h-0.85zM48.7 30.5h0.85v0.85h-0.85zM41.4 25.4h0.85v0.85h-0.85zM48.1 30.2h0.85v0.85h-0.85zM49.3 31.1h0.85v0.85h-0.85zM42.4 27.1h0.85v0.85h-0.85zM49.7 30.9h0.85v0.85h-0.85zM44.0 35.9h0.85v0.85h-0.85zM48.4 23.0h0.85v0.85h-0.85zM53.2 25.9h0.85v0.85h-0.85zM53.5 25.4h0.85v0.85h-0.85zM48.4 32.0h0.85v0.85h-0.85zM51.8 29.0h0.85v0.85h-0.85zM47.5 34.0h0.85v0.85h-0.85zM41.0 26.4h0.85v0.85h-0.85zM51.2 23.6h0.85v0.85h-0.85zM52.8 27.1h0.85v0.85h-0.85zM54.0 25.4h0.85v0.85h-0.85zM43.7 28.6h0.85v0.85h-0.85zM49.9 30.9h0.85v0.85h-0.85zM42.2 30.3h0.85v0.85h-0.85zM43.3 26.5h0.85v0.85h-0.85zM41.9 26.1h0.85v0.85h-0.85zM49.3 24.4h0.85v0.85h-0.85zM48.1 29.0h0.85v0.85h-0.85zM50.7 26.0h0.85v0.85h-0.85zM43.5 28.7h0.85v0.85h-0.85zM43.4 30.1h0.85v0.85h-0.85zM46.6 34.3h0.85v0.85h-0.85zM43.4 29.7h0.85v0.85h-0.85zM44.8 24.0h0.85v0.85h-0.85zM42.7 30.1h0.85v0.85h-0.85zM48.5 31.0h0.85v0.85h-0.85zM50.9 23.1h0.85v0.85h-0.85zM44.5 24.5h0.85v0.85h-0.85zM52.7 23.2h0.85v0.85h-0.85zM50.3 26.5h0.85v0.85h-0.85zM48.1 23.8h0.85v0.85h-0.85zM42.6 32.4h0.85v0.85h-0.85zM52.6 24.3h0.85v0.85h-0.85zM45.1 25.6h0.85v0.85h-0.85zM44.5 30.7h0.85v0.85h-0.85zM40.8 33.7h0.85v0.85h-0.85zM50.5 23.9h0.85v0.85h-0.85zM45.0 23.9h0.85v0.85h-0.85zM43.4 27.3h0.85v0.85h-0.85zM47.8 30.9h0.85v0.85h-0.85zM48.2 25.6h0.85v0.85h-0.85zM45.4 31.8h0.85v0.85h-0.85zM41.8 34.0h0.85v0.85h-0.85zM41.9 28.2h0.85v0.85h-0.85zM53.9 24.7h0.85v0.85h-0.85zM48.5 25.0h0.85v0.85h-0.85zM42.3 30.9h0.85v0.85h-0.85zM43.3 32.6h0.85v0.85h-0.85zM42.8 35.0h0.85v0.85h-0.85zM49.4 30.5h0.85v0.85h-0.85zM52.6 28.5h0.85v0.85h-0.85zM54.0 25.3h0.85v0.85h-0.85zM53.9 24.3h0.85v0.85h-0.85zM42.0 33.2h0.85v0.85h-0.85zM46.9 26.0h0.85v0.85h-0.85zM43.8 30.4h0.85v0.85h-0.85zM49.7 22.7h0.85v0.85h-0.85zM48.5 30.7h0.85v0.85h-0.85zM43.4 35.0h0.85v0.85h-0.85zM46.3 30.1h0.85v0.85h-0.85zM47.7 25.7h0.85v0.85h-0.85zM46.8 26.1h0.85v0.85h-0.85zM42.8 33.2h0.85v0.85h-0.85zM50.9 28.7h0.85v0.85h-0.85zM50.3 22.9h0.85v0.85h-0.85zM47.1 22.9h0.85v0.85h-0.85zM51.3 23.7h0.85v0.85h-0.85zM42.3 25.0h0.85v0.85h-0.85zM43.1 34.6h0.85v0.85h-0.85zM51.2 28.3h0.85v0.85h-0.85zM43.7 24.8h0.85v0.85h-0.85zM41.7 30.2h0.85v0.85h-0.85zM48.2 26.4h0.85v0.85h-0.85zM41.8 27.8h0.85v0.85h-0.85zM51.4 26.4h0.85v0.85h-0.85zM43.2 33.2h0.85v0.85h-0.85zM41.9 28.7h0.85v0.85h-0.85zM46.1 24.8h0.85v0.85h-0.85zM41.4 26.4h0.85v0.85h-0.85zM49.3 29.3h0.85v0.85h-0.85zM45.2 27.1h0.85v0.85h-0.85zM42.8 26.1h0.85v0.85h-0.85zM48.2 27.6h0.85v0.85h-0.85zM45.0 33.3h0.85v0.85h-0.85zM48.9 30.4h0.85v0.85h-0.85zM45.6 34.4h0.85v0.85h-0.85zM48.3 33.1h0.85v0.85h-0.85zM52.5 26.2h0.85v0.85h-0.85zM49.6 28.6h0.85v0.85h-0.85zM43.1 27.6h0.85v0.85h-0.85zM42.6 32.0h0.85v0.85h-0.85zM47.8 30.8h0.85v0.85h-0.85zM42.5 29.6h0.85v0.85h-0.85zM41.4 27.1h0.85v0.85h-0.85zM40.7 24.7h0.85v0.85h-0.85zM43.8 27.5h0.85v0.85h-0.85zM43.7 26.9h0.85v0.85h-0.85zM45.7 24.0h0.85v0.85h-0.85zM49.8 27.9h0.85v0.85h-0.85zM42.3 26.3h0.85v0.85h-0.85zM42.9 32.7h0.85v0.85h-0.85zM50.2 30.0h0.85v0.85h-0.85zM42.4 29.2h0.85v0.85h-0.85zM41.6 27.8h0.85v0.85h-0.85zM48.0 28.6h0.85v0.85h-0.85zM49.6 24.2h0.85v0.85h-0.85zM43.2 31.1h0.85v0.85h-0.85zM49.3 29.1h0.85v0.85h-0.85zM48.5 27.1h0.85v0.85h-0.85zM48.7 26.3h0.85v0.85h-0.85zM49.7 26.4h0.85v0.85h-0.85zM47.0 22.7h0.85v0.85h-0.85zM41.4 26.7h0.85v0.85h-0.85zM48.2 31.0h0.85v0.85h-0.85zM42.6 32.5h0.85v0.85h-0.85zM46.6 34.7h0.85v0.85h-0.85zM48.5 33.1h0.85v0.85h-0.85zM48.6 26.5h0.85v0.85h-0.85zM46.9 22.3h0.85v0.85h-0.85zM42.9 26.8h0.85v0.85h-0.85zM50.9 30.4h0.85v0.85h-0.85zM51.4 23.3h0.85v0.85h-0.85zM43.9 35.5h0.85v0.85h-0.85zM42.7 24.5h0.85v0.85h-0.85zM49.0 28.7h0.85v0.85h-0.85zM49.5 28.5h0.85v0.85h-0.85zM42.3 29.0h0.85v0.85h-0.85zM42.1 33.8h0.85v0.85h-0.85zM43.2 35.0h0.85v0.85h-0.85zM45.9 33.1h0.85v0.85h-0.85zM50.4 24.0h0.85v0.85h-0.85zM49.6 25.5h0.85v0.85h-0.85zM44.5 31.5h0.85v0.85h-0.85zM52.0 28.9h0.85v0.85h-0.85zM43.0 33.6h0.85v0.85h-0.85zM50.5 30.0h0.85v0.85h-0.85zM48.2 23.8h0.85v0.85h-0.85zM50.2 25.4h0.85v0.85h-0.85zM41.3 34.5h0.85v0.85h-0.85zM51.0 25.1h0.85v0.85h-0.85zM46.3 31.8h0.85v0.85h-0.85zM53.1 23.1h0.85v0.85h-0.85zM45.9 34.3h0.85v0.85h-0.85zM45.9 34.1h0.85v0.85h-0.85zM50.1 23.7h0.85v0.85h-0.85zM41.9 27.1h0.85v0.85h-0.85zM47.2 31.3h0.85v0.85h-0.85zM42.5 32.3h0.85v0.85h-0.85zM42.1 35.0h0.85v0.85h-0.85zM51.4 29.5h0.85v0.85h-0.85zM49.4 31.1h0.85v0.85h-0.85zM42.2 28.9h0.85v0.85h-0.85zM54.4 22.5h0.85v0.85h-0.85zM51.4 23.1h0.85v0.85h-0.85zM48.7 24.6h0.85v0.85h-0.85zM42.8 28.4h0.85v0.85h-0.85zM43.9 27.8h0.85v0.85h-0.85zM47.6 32.0h0.85v0.85h-0.85zM41.4 33.0h0.85v0.85h-0.85zM55.4 22.8h0.85v0.85h-0.85zM41.7 29.8h0.85v0.85h-0.85zM46.4 33.9h0.85v0.85h-0.85zM44.4 33.9h0.85v0.85h-0.85zM52.1 28.2h0.85v0.85h-0.85zM49.6 27.5h0.85v0.85h-0.85zM41.9 25.3h0.85v0.85h-0.85zM46.1 23.5h0.85v0.85h-0.85zM51.0 25.9h0.85v0.85h-0.85zM49.1 22.0h0.85v0.85h-0.85zM45.5 24.7h0.85v0.85h-0.85zM42.3 32.5h0.85v0.85h-0.85zM47.3 26.6h0.85v0.85h-0.85zM43.4 28.5h0.85v0.85h-0.85zM41.7 32.7h0.85v0.85h-0.85zM52.0 22.5h0.85v0.85h-0.85zM45.8 23.0h0.85v0.85h-0.85zM44.4 32.1h0.85v0.85h-0.85zM46.5 22.3h0.85v0.85h-0.85zM46.2 25.8h0.85v0.85h-0.85zM51.3 26.8h0.85v0.85h-0.85zM53.5 26.0h0.85v0.85h-0.85zM48.8 22.5h0.85v0.85h-0.85zM42.6 32.6h0.85v0.85h-0.85zM42.0 26.6h0.85v0.85h-0.85zM45.0 24.3h0.85v0.85h-0.85zM44.6 23.9h0.85v0.85h-0.85zM44.9 33.9h0.85v0.85h-0.85zM46.6 34.6h0.85v0.85h-0.85zM42.8 24.9h0.85v0.85h-0.85zM50.0 29.1h0.85v0.85h-0.85zM51.0 24.5h0.85v0.85h-0.85zM51.6 25.4h0.85v0.85h-0.85zM42.1 26.3h0.85v0.85h-0.85zM42.4 31.2h0.85v0.85h-0.85zM50.7 23.2h0.85v0.85h-0.85zM54.6 23.2h0.85v0.85h-0.85zM43.9 26.6h0.85v0.85h-0.85zM43.3 25.7h0.85v0.85h-0.85zM42.1 30.5h0.85v0.85h-0.85zM44.4 30.9h0.85v0.85h-0.85zM50.4 22.1h0.85v0.85h-0.85zM47.9 23.8h0.85v0.85h-0.85zM48.1 26.7h0.85v0.85h-0.85zM42.8 31.4h0.85v0.85h-0.85zM41.9 29.1h0.85v0.85h-0.85zM55.1 22.4h0.85v0.85h-0.85zM42.1 28.5h0.85v0.85h-0.85zM48.7 30.4h0.85v0.85h-0.85zM48.8 31.8h0.85v0.85h-0.85zM44.0 25.4h0.85v0.85h-0.85zM48.1 31.7h0.85v0.85h-0.85zM52.7 26.0h0.85v0.85h-0.85zM43.5 23.3h0.85v0.85h-0.85zM52.2 22.4h0.85v0.85h-0.85zM44.7 27.1h0.85v0.85h-0.85zM42.3 23.9h0.85v0.85h-0.85zM43.6 33.5h0.85v0.85h-0.85zM52.4 24.9h0.85v0.85h-0.85zM44.6 33.7h0.85v0.85h-0.85zM52.2 23.9h0.85v0.85h-0.85zM49.6 29.9h0.85v0.85h-0.85zM44.9 35.1h0.85v0.85h-0.85zM49.9 26.2h0.85v0.85h-0.85zM45.3 26.3h0.85v0.85h-0.85zM49.4 31.1h0.85v0.85h-0.85zM51.9 22.9h0.85v0.85h-0.85zM48.1 22.3h0.85v0.85h-0.85zM41.1 26.0h0.85v0.85h-0.85zM48.1 26.3h0.85v0.85h-0.85zM51.4 27.3h0.85v0.85h-0.85zM47.9 28.0h0.85v0.85h-0.85zM46.5 34.6h0.85v0.85h-0.85zM41.4 27.0h0.85v0.85h-0.85zM49.0 32.0h0.85v0.85h-0.85zM46.4 25.0h0.85v0.85h-0.85zM45.7 33.9h0.85v0.85h-0.85zM53.6 27.3h0.85v0.85h-0.85zM41.4 27.6h0.85v0.85h-0.85zM46.8 32.1h0.85v0.85h-0.85zM41.2 31.9h0.85v0.85h-0.85zM41.2 25.0h0.85v0.85h-0.85zM47.3 33.1h0.85v0.85h-0.85zM43.5 31.5h0.85v0.85h-0.85zM45.3 23.1h0.85v0.85h-0.85zM49.1 22.4h0.85v0.85h-0.85zM49.6 31.8h0.85v0.85h-0.85zM44.4 33.2h0.85v0.85h-0.85zM42.1 27.8h0.85v0.85h-0.85zM51.3 22.4h0.85v0.85h-0.85zM43.2 28.6h0.85v0.85h-0.85zM51.8 23.0h0.85v0.85h-0.85zM45.5 31.7h0.85v0.85h-0.85zM50.0 30.2h0.85v0.85h-0.85zM42.4 30.3h0.85v0.85h-0.85zM46.8 22.1h0.85v0.85h-0.85zM42.4 27.3h0.85v0.85h-0.85zM46.4 22.4h0.85v0.85h-0.85zM44.9 31.1h0.85v0.85h-0.85zM47.9 33.6h0.85v0.85h-0.85zM44.3 35.9h0.85v0.85h-0.85zM49.2 31.4h0.85v0.85h-0.85zM48.0 24.9h0.85v0.85h-0.85zM46.1 32.5h0.85v0.85h-0.85zM52.5 25.1h0.85v0.85h-0.85zM41.6 27.7h0.85v0.85h-0.85zM48.5 28.5h0.85v0.85h-0.85zM41.7 32.9h0.85v0.85h-0.85zM45.8 23.1h0.85v0.85h-0.85zM47.7 32.1h0.85v0.85h-0.85zM48.8 27.7h0.85v0.85h-0.85zM51.8 25.6h0.85v0.85h-0.85zM51.3 28.1h0.85v0.85h-0.85zM44.0 34.9h0.85v0.85h-0.85zM47.4 26.9h0.85v0.85h-0.85zM42.8 24.5h0.85v0.85h-0.85zM41.2 25.2h0.85v0.85h-0.85zM46.5 31.9h0.85v0.85h-0.85zM53.8 26.2h0.85v0.85h-0.85zM41.3 30.6h0.85v0.85h-0.85zM44.9 31.8h0.85v0.85h-0.85zM51.7 29.0h0.85v0.85h-0.85zM42.5 33.8h0.85v0.85h-0.85zM49.6 30.7h0.85v0.85h-0.85zM42.1 30.1h0.85v0.85h-0.85zM45.1 25.4h0.85v0.85h-0.85zM43.6 34.5h0.85v0.85h-0.85zM43.2 35.1h0.85v0.85h-0.85zM49.9 26.9h0.85v0.85h-0.85zM46.0 23.6h0.85v0.85h-0.85zM51.0 36.6h0.85v0.85h-0.85zM31.0 44.3h0.85v0.85h-0.85zM54.5 32.9h0.85v0.85h-0.85zM47.6 39.0h0.85v0.85h-0.85zM35.0 44.3h0.85v0.85h-0.85zM31.8 46.6h0.85v0.85h-0.85zM37.7 44.3h0.85v0.85h-0.85zM54.8 25.5h0.85v0.85h-0.85zM37.2 41.7h0.85v0.85h-0.85zM45.4 36.7h0.85v0.85h-0.85zM55.0 26.5h0.85v0.85h-0.85zM37.8 42.8h0.85v0.85h-0.85zM40.0 40.2h0.85v0.85h-0.85zM45.3 35.6h0.85v0.85h-0.85zM51.3 36.2h0.85v0.85h-0.85zM32.4 45.5h0.85v0.85h-0.85zM44.9 40.0h0.85v0.85h-0.85zM51.9 34.0h0.85v0.85h-0.85zM44.4 36.2h0.85v0.85h-0.85zM53.5 29.6h0.85v0.85h-0.85zM32.1 42.8h0.85v0.85h-0.85zM53.5 32.2h0.85v0.85h-0.85zM31.4 44.9h0.85v0.85h-0.85zM44.3 40.2h0.85v0.85h-0.85zM42.7 40.4h0.85v0.85h-0.85zM35.0 41.3h0.85v0.85h-0.85zM32.4 43.5h0.85v0.85h-0.85zM48.6 39.0h0.85v0.85h-0.85zM54.5 32.3h0.85v0.85h-0.85zM33.7 43.8h0.85v0.85h-0.85zM54.5 32.1h0.85v0.85h-0.85zM34.0 43.0h0.85v0.85h-0.85zM35.5 42.0h0.85v0.85h-0.85zM40.4 39.8h0.85v0.85h-0.85zM53.5 33.0h0.85v0.85h-0.85zM54.4 32.9h0.85v0.85h-0.85zM31.4 44.7h0.85v0.85h-0.85zM54.2 29.6h0.85v0.85h-0.85zM30.4 45.4h0.85v0.85h-0.85zM31.5 46.1h0.85v0.85h-0.85zM51.3 31.8h0.85v0.85h-0.85zM35.8 45.3h0.85v0.85h-0.85zM53.9 32.1h0.85v0.85h-0.85zM53.1 34.5h0.85v0.85h-0.85zM48.0 36.7h0.85v0.85h-0.85zM38.1 42.4h0.85v0.85h-0.85zM47.7 34.3h0.85v0.85h-0.85zM51.0 35.0h0.85v0.85h-0.85zM45.1 36.0h0.85v0.85h-0.85zM46.8 39.1h0.85v0.85h-0.85zM38.9 42.1h0.85v0.85h-0.85zM55.2 24.9h0.85v0.85h-0.85zM37.5 42.8h0.85v0.85h-0.85zM53.2 33.3h0.85v0.85h-0.85zM31.6 45.8h0.85v0.85h-0.85zM44.0 36.7h0.85v0.85h-0.85zM42.5 41.3h0.85v0.85h-0.85zM54.3 29.9h0.85v0.85h-0.85zM44.6 40.7h0.85v0.85h-0.85zM30.7 45.7h0.85v0.85h-0.85zM32.5 46.2h0.85v0.85h-0.85zM41.2 40.6h0.85v0.85h-0.85zM44.7 39.9h0.85v0.85h-0.85zM42.9 37.3h0.85v0.85h-0.85zM35.4 40.6h0.85v0.85h-0.85zM42.2 37.2h0.85v0.85h-0.85zM50.8 35.1h0.85v0.85h-0.85zM53.7 34.0h0.85v0.85h-0.85zM49.5 34.5h0.85v0.85h-0.85zM53.4 30.9h0.85v0.85h-0.85zM48.5 36.9h0.85v0.85h-0.85zM52.4 34.3h0.85v0.85h-0.85zM52.7 36.7h0.85v0.85h-0.85zM49.7 34.6h0.85v0.85h-0.85zM44.0 37.4h0.85v0.85h-0.85zM54.7 28.2h0.85v0.85h-0.85zM53.3 36.0h0.85v0.85h-0.85zM35.1 43.9h0.85v0.85h-0.85zM52.8 34.3h0.85v0.85h-0.85zM52.6 29.5h0.85v0.85h-0.85zM47.0 38.7h0.85v0.85h-0.85zM50.3 37.9h0.85v0.85h-0.85zM32.0 43.3h0.85v0.85h-0.85zM48.9 36.3h0.85v0.85h-0.85zM44.6 39.6h0.85v0.85h-0.85zM33.9 38.6h0.85v0.85h-0.85zM34.9 34.5h0.85v0.85h-0.85zM29.8 27.8h0.85v0.85h-0.85zM41.7 37.1h0.85v0.85h-0.85zM37.9 36.2h0.85v0.85h-0.85zM36.6 40.5h0.85v0.85h-0.85zM38.5 36.2h0.85v0.85h-0.85zM41.3 33.9h0.85v0.85h-0.85zM41.3 33.1h0.85v0.85h-0.85zM41.4 46.0h0.85v0.85h-0.85zM39.9 34.8h0.85v0.85h-0.85zM38.7 35.4h0.85v0.85h-0.85zM43.1 42.3h0.85v0.85h-0.85zM42.4 41.1h0.85v0.85h-0.85zM47.3 35.2h0.85v0.85h-0.85zM37.6 34.8h0.85v0.85h-0.85z" fill="#0a0aff" opacity="0.85"/>
<polygon points="56.0,22.1 62.8,22.1 59.4,28.8 56.6,32.3 56.0,32.3" fill="#4aa02a" opacity="0.81"/>
<path d="M57.0 27.4h0.8v0.8h-0.8zM56.6 29.9h0.8v0.8h-0.8zM61.5 23.0h0.8v0.8h-0.8zM58.2 27.5h0.8v0.8h-0.8zM58.6 29.2h0.8v0.8h-0.8zM56.2 29.8h0.8v0.8h-0.8zM60.5 24.4h0.8v0.8h-0.8zM56.5 23.5h0.8v0.8h-0.8zM57.0 26.8h0.8v0.8h-0.8zM57.1 22.2h0.8v0.8h-0.8zM58.5 22.5h0.8v0.8h-0.8zM56.2 30.4h0.8v0.8h-0.8zM60.1 24.8h0.8v0.8h-0.8zM58.0 26.3h0.8v0.8h-0.8zM58.9 28.4h0.8v0.8h-0.8zM57.2 28.3h0.8v0.8h-0.8zM60.0 22.6h0.8v0.8h-0.8zM60.1 25.8h0.8v0.8h-0.8zM56.6 23.2h0.8v0.8h-0.8zM59.3 25.4h0.8v0.8h-0.8zM58.7 27.2h0.8v0.8h-0.8zM56.3 29.8h0.8v0.8h-0.8zM58.4 23.4h0.8v0.8h-0.8zM61.0 25.0h0.8v0.8h-0.8zM59.5 27.9h0.8v0.8h-0.8zM57.9 28.0h0.8v0.8h-0.8zM60.1 26.7h0.8v0.8h-0.8zM57.7 30.8h0.8v0.8h-0.8zM56.6 26.9h0.8v0.8h-0.8zM60.4 22.6h0.8v0.8h-0.8zM58.2 23.5h0.8v0.8h-0.8zM62.1 22.6h0.8v0.8h-0.8zM57.0 25.6h0.8v0.8h-0.8zM57.5 24.4h0.8v0.8h-0.8zM56.3 27.9h0.8v0.8h-0.8zM60.4 22.5h0.8v0.8h-0.8zM56.9 26.8h0.8v0.8h-0.8zM60.3 22.6h0.8v0.8h-0.8zM58.6 28.2h0.8v0.8h-0.8zM58.7 29.6h0.8v0.8h-0.8zM59.5 22.6h0.8v0.8h-0.8zM58.6 22.7h0.8v0.8h-0.8zM62.1 22.9h0.8v0.8h-0.8zM58.8 22.3h0.8v0.8h-0.8zM57.4 26.3h0.8v0.8h-0.8zM57.7 30.5h0.8v0.8h-0.8zM60.6 24.5h0.8v0.8h-0.8zM58.9 28.0h0.8v0.8h-0.8zM57.1 31.3h0.8v0.8h-0.8zM57.0 29.0h0.8v0.8h-0.8zM56.6 23.5h0.8v0.8h-0.8zM59.8 24.7h0.8v0.8h-0.8zM57.7 25.3h0.8v0.8h-0.8zM57.0 28.7h0.8v0.8h-0.8zM57.1 22.1h0.8v0.8h-0.8zM57.8 26.0h0.8v0.8h-0.8zM59.3 24.5h0.8v0.8h-0.8zM57.0 30.5h0.8v0.8h-0.8zM56.7 27.4h0.8v0.8h-0.8zM60.5 24.9h0.8v0.8h-0.8zM60.4 22.8h0.8v0.8h-0.8zM59.1 28.4h0.8v0.8h-0.8zM59.3 25.5h0.8v0.8h-0.8zM57.3 25.1h0.8v0.8h-0.8zM60.8 23.0h0.8v0.8h-0.8zM60.2 22.6h0.8v0.8h-0.8zM61.3 24.4h0.8v0.8h-0.8zM61.1 23.3h0.8v0.8h-0.8zM60.6 26.0h0.8v0.8h-0.8zM60.2 26.9h0.8v0.8h-0.8zM59.4 28.6h0.8v0.8h-0.8zM60.2 24.7h0.8v0.8h-0.8zM57.4 28.7h0.8v0.8h-0.8zM59.7 23.7h0.8v0.8h-0.8zM58.8 25.1h0.8v0.8h-0.8zM60.2 22.7h0.8v0.8h-0.8zM56.2 23.5h0.8v0.8h-0.8zM58.4 24.4h0.8v0.8h-0.8zM56.3 27.3h0.8v0.8h-0.8zM60.1 22.3h0.8v0.8h-0.8zM60.3 24.5h0.8v0.8h-0.8zM56.1 25.8h0.8v0.8h-0.8zM59.0 24.3h0.8v0.8h-0.8zM59.6 25.6h0.8v0.8h-0.8zM56.7 31.6h0.8v0.8h-0.8zM59.1 24.8h0.8v0.8h-0.8zM61.1 23.9h0.8v0.8h-0.8zM60.2 22.7h0.8v0.8h-0.8zM61.3 24.2h0.8v0.8h-0.8zM59.2 27.8h0.8v0.8h-0.8zM56.1 25.4h0.8v0.8h-0.8zM56.7 26.7h0.8v0.8h-0.8zM56.5 31.1h0.8v0.8h-0.8zM61.0 22.6h0.8v0.8h-0.8zM58.3 29.3h0.8v0.8h-0.8zM57.5 24.0h0.8v0.8h-0.8zM58.1 26.1h0.8v0.8h-0.8zM59.4 24.6h0.8v0.8h-0.8zM56.3 24.1h0.8v0.8h-0.8zM57.4 27.2h0.8v0.8h-0.8zM56.7 23.3h0.8v0.8h-0.8zM60.1 23.0h0.8v0.8h-0.8zM57.0 26.9h0.8v0.8h-0.8zM58.0 30.4h0.8v0.8h-0.8zM56.9 27.1h0.8v0.8h-0.8zM58.7 23.3h0.8v0.8h-0.8zM56.1 26.5h0.8v0.8h-0.8zM58.6 26.2h0.8v0.8h-0.8zM61.0 25.6h0.8v0.8h-0.8zM59.6 23.2h0.8v0.8h-0.8zM56.1 26.4h0.8v0.8h-0.8zM60.7 25.4h0.8v0.8h-0.8zM56.8 24.6h0.8v0.8h-0.8zM57.4 23.3h0.8v0.8h-0.8zM60.1 22.9h0.8v0.8h-0.8z" fill="#2c9a10" opacity="0.9"/>
<path d="M54.6 20.9h0.8v0.8h-0.8zM55.4 21.2h0.8v0.8h-0.8zM54.1 20.9h0.8v0.8h-0.8zM53.4 20.3h0.8v0.8h-0.8zM53.0 20.9h0.8v0.8h-0.8zM53.5 20.3h0.8v0.8h-0.8zM54.9 21.4h0.8v0.8h-0.8zM52.9 21.6h0.8v0.8h-0.8zM53.7 20.6h0.8v0.8h-0.8zM54.7 21.4h0.8v0.8h-0.8zM55.3 21.3h0.8v0.8h-0.8zM54.5 21.0h0.8v0.8h-0.8zM52.5 20.8h0.8v0.8h-0.8zM52.7 21.4h0.8v0.8h-0.8zM53.4 21.0h0.8v0.8h-0.8zM52.7 21.3h0.8v0.8h-0.8zM53.1 20.0h0.8v0.8h-0.8zM53.5 21.1h0.8v0.8h-0.8zM54.5 20.4h0.8v0.8h-0.8z" fill="#ff2a2a" opacity="0.75"/>
<path d="M58.5 19.5h0.8v0.8h-0.8zM57.6 19.7h0.8v0.8h-0.8zM60.8 19.9h0.8v0.8h-0.8zM59.5 20.9h0.8v0.8h-0.8zM57.1 21.1h0.8v0.8h-0.8zM60.2 21.1h0.8v0.8h-0.8zM57.2 19.6h0.8v0.8h-0.8zM59.6 21.5h0.8v0.8h-0.8zM59.8 19.5h0.8v0.8h-0.8zM59.6 19.7h0.8v0.8h-0.8zM57.6 20.3h0.8v0.8h-0.8zM59.7 20.2h0.8v0.8h-0.8zM57.9 21.1h0.8v0.8h-0.8zM58.3 20.3h0.8v0.8h-0.8zM57.2 20.1h0.8v0.8h-0.8zM60.0 19.5h0.8v0.8h-0.8zM59.0 20.1h0.8v0.8h-0.8zM59.5 20.0h0.8v0.8h-0.8zM58.8 20.9h0.8v0.8h-0.8zM60.7 19.8h0.8v0.8h-0.8zM58.9 20.8h0.8v0.8h-0.8zM56.9 19.8h0.8v0.8h-0.8z" fill="#a040f0" opacity="0.75"/>
<rect x="-1.90" y="0.00" width="2.50" height="72.00" fill="#6c6cff" stroke="none" stroke-width="0" />
<rect x="-1.20" y="70.20" width="71.20" height="2.50" fill="#6c6cff" stroke="none" stroke-width="0" />
<path d="M-1.9 1.2h2.5v2.6h-2.5zM-1.9 6.2h2.5v1.2h-2.5zM-1.9 11.0h2.5v2.6h-2.5zM-1.9 16.0h2.5v1.2h-2.5zM-1.9 20.8h2.5v2.6h-2.5zM-1.9 25.8h2.5v1.2h-2.5zM-1.9 30.6h2.5v2.6h-2.5zM-1.9 35.6h2.5v1.2h-2.5zM-1.9 40.4h2.5v2.6h-2.5zM-1.9 45.4h2.5v1.2h-2.5zM-1.9 50.2h2.5v2.6h-2.5zM-1.9 55.2h2.5v1.2h-2.5zM-1.9 60.0h2.5v2.6h-2.5zM-1.9 65.0h2.5v1.2h-2.5zM-1.9 69.8h2.5v2.6h-2.5zM-1.9 74.8h2.5v1.2h-2.5zM-0.5 70.2h3.2v2.5h-3.2zM4.7 70.2h1.5v2.5h-1.5zM9.2 70.2h3.2v2.5h-3.2zM14.4 70.2h1.5v2.5h-1.5zM18.9 70.2h3.2v2.5h-3.2zM24.1 70.2h1.5v2.5h-1.5zM28.6 70.2h3.2v2.5h-3.2zM33.8 70.2h1.5v2.5h-1.5zM38.3 70.2h3.2v2.5h-3.2zM43.5 70.2h1.5v2.5h-1.5zM48.0 70.2h3.2v2.5h-3.2zM53.2 70.2h1.5v2.5h-1.5zM57.7 70.2h3.2v2.5h-3.2zM62.9 70.2h1.5v2.5h-1.5zM67.4 70.2h3.2v2.5h-3.2zM72.6 70.2h1.5v2.5h-1.5z" fill="#1010ff"/>
<path d="M-6.8 -0.3l1.5 1.3l0.5 2.3M-6.6 2.3l0.3 0.4 M-6.8 9.5l1.5 1.3l0.5 2.3M-6.6 12.1l0.3 0.4 M-6.8 19.3l1.5 1.3l0.5 2.3M-6.6 21.9l0.3 0.4 M-6.8 29.1l1.5 1.3l0.5 2.3M-6.6 31.7l0.3 0.4 M-6.8 38.9l1.5 1.3l0.5 2.3M-6.6 41.5l0.3 0.4 M-6.8 48.7l1.5 1.3l0.5 2.3M-6.6 51.3l0.3 0.4 M-6.8 58.5l1.5 1.3l0.5 2.3M-6.6 61.1l0.3 0.4 M-6.8 68.3l1.5 1.3l0.5 2.3M-6.6 70.9l0.3 0.4 M-0.8 76.8l1.8-0.3l1.4-1.4l0.2-1.1M2.1 77.1l0.4 0.2 M8.9 76.8l1.8-0.3l1.4-1.4l0.2-1.1M11.8 77.1l0.4 0.2 M18.6 76.8l1.8-0.3l1.4-1.4l0.2-1.1M21.5 77.1l0.4 0.2 M28.3 76.8l1.8-0.3l1.4-1.4l0.2-1.1M31.2 77.1l0.4 0.2 M38.0 76.8l1.8-0.3l1.4-1.4l0.2-1.1M40.9 77.1l0.4 0.2 M47.7 76.8l1.8-0.3l1.4-1.4l0.2-1.1M50.6 77.1l0.4 0.2 M57.4 76.8l1.8-0.3l1.4-1.4l0.2-1.1M60.3 77.1l0.4 0.2 M67.1 76.8l1.8-0.3l1.4-1.4l0.2-1.1M70.0 77.1l0.4 0.2" fill="none" stroke="#2a2af0" stroke-width="1.0"/>
<text transform="translate(-8.6,43.4) rotate(-90)" font-size="3.9" font-family="'Liberation Sans',Arial,sans-serif" fill="#222" text-anchor="middle">PI-A</text>
<text x="37.1" y="81.1" font-size="3.9" font-family="'Liberation Sans',Arial,sans-serif" fill="#222" text-anchor="middle">FITC-A</text>
<text transform="translate(1.0,4.7) scale(1.12,1)" font-size="4.5" font-family="'Liberation Sans',Arial,sans-serif" fill="#f04848" opacity="0.85">Q2-UL</text>
<text transform="translate(1.0,8.8) scale(1.12,1)" font-size="4.5" font-family="'Liberation Sans',Arial,sans-serif" fill="#f04848" opacity="0.85">1.3%</text>
<text transform="translate(54.6,4.7) scale(1.12,1)" font-size="4.5" font-family="'Liberation Sans',Arial,sans-serif" fill="#b060e0" opacity="0.85">Q2-UR</text>
<text transform="translate(54.6,8.8) scale(1.12,1)" font-size="4.5" font-family="'Liberation Sans',Arial,sans-serif" fill="#b060e0" opacity="0.85">4.3%</text>
<text transform="translate(1.0,65.6) scale(1.12,1)" font-size="4.5" font-family="'Liberation Sans',Arial,sans-serif" fill="#2020d0" opacity="0.85">Q2-LL</text>
<text transform="translate(1.0,69.6) scale(1.12,1)" font-size="4.5" font-family="'Liberation Sans',Arial,sans-serif" fill="#2020d0" opacity="0.85">73.7%</text>
<text transform="translate(54.6,65.6) scale(1.12,1)" font-size="4.5" font-family="'Liberation Sans',Arial,sans-serif" fill="#48a030" opacity="0.85">Q2-LR</text>
<text transform="translate(54.6,69.6) scale(1.12,1)" font-size="4.5" font-family="'Liberation Sans',Arial,sans-serif" fill="#48a030" opacity="0.85">20.6%</text>
</g>
<g transform="translate(390.5,124.8)">
<rect x="0.00" y="0.00" width="70.00" height="70.50" fill="none" stroke="#7a7aff" stroke-width="0.9" />
<line x1="54.9" y1="0" x2="54.9" y2="70.5" stroke="#f28080" stroke-width="1.15" />
<line x1="0" y1="21.6" x2="70" y2="21.6" stroke="#f28080" stroke-width="1.15" />
<polygon points="28.8,45.2 33.9,40.4 40.4,36.6 45.9,32.7 49.5,27.9 52.2,23.2 54.9,21.6 54.9,32.7 52.2,36.6 46.7,39.5 40.4,41.4 33.9,45.2 30.2,47.1" fill="#0a0aff" opacity="0.88" filter="url(#fb)"/>
<path d="M34.5 38.7h0.85v0.85h-0.85zM34.8 35.7h0.85v0.85h-0.85zM35.1 36.7h0.85v0.85h-0.85zM27.9 42.9h0.85v0.85h-0.85zM28.0 42.4h0.85v0.85h-0.85zM32.2 40.0h0.85v0.85h-0.85zM31.2 39.9h0.85v0.85h-0.85zM37.1 36.3h0.85v0.85h-0.85zM27.2 44.8h0.85v0.85h-0.85zM30.8 41.8h0.85v0.85h-0.85zM28.7 43.2h0.85v0.85h-0.85zM37.0 34.4h0.85v0.85h-0.85zM34.2 39.5h0.85v0.85h-0.85zM32.6 40.1h0.85v0.85h-0.85zM37.8 37.8h0.85v0.85h-0.85zM32.8 40.9h0.85v0.85h-0.85zM35.6 35.1h0.85v0.85h-0.85zM37.2 37.5h0.85v0.85h-0.85zM27.2 46.4h0.85v0.85h-0.85zM29.2 41.3h0.85v0.85h-0.85zM36.5 34.0h0.85v0.85h-0.85zM36.0 34.5h0.85v0.85h-0.85zM37.1 33.0h0.85v0.85h-0.85zM38.3 35.7h0.85v0.85h-0.85zM39.3 36.5h0.85v0.85h-0.85zM29.4 42.3h0.85v0.85h-0.85zM31.4 39.9h0.85v0.85h-0.85zM37.8 34.2h0.85v0.85h-0.85zM31.8 41.9h0.85v0.85h-0.85zM38.4 37.6h0.85v0.85h-0.85zM35.1 35.8h0.85v0.85h-0.85zM33.5 36.7h0.85v0.85h-0.85zM36.9 38.6h0.85v0.85h-0.85zM35.1 38.1h0.85v0.85h-0.85zM31.4 41.3h0.85v0.85h-0.85zM37.8 35.9h0.85v0.85h-0.85zM30.6 43.4h0.85v0.85h-0.85zM27.7 43.9h0.85v0.85h-0.85zM38.9 37.4h0.85v0.85h-0.85zM28.8 41.4h0.85v0.85h-0.85zM34.9 37.9h0.85v0.85h-0.85zM39.0 37.3h0.85v0.85h-0.85zM35.8 37.4h0.85v0.85h-0.85zM31.0 42.5h0.85v0.85h-0.85zM39.2 36.6h0.85v0.85h-0.85zM29.2 42.0h0.85v0.85h-0.85zM37.3 35.9h0.85v0.85h-0.85zM31.1 42.6h0.85v0.85h-0.85zM31.4 38.6h0.85v0.85h-0.85zM37.7 32.4h0.85v0.85h-0.85zM28.2 44.0h0.85v0.85h-0.85zM30.5 43.4h0.85v0.85h-0.85zM30.8 39.7h0.85v0.85h-0.85zM35.9 35.0h0.85v0.85h-0.85zM36.5 33.4h0.85v0.85h-0.85zM36.5 37.7h0.85v0.85h-0.85zM32.4 39.8h0.85v0.85h-0.85zM28.6 44.0h0.85v0.85h-0.85zM32.1 39.0h0.85v0.85h-0.85zM38.2 37.3h0.85v0.85h-0.85zM39.0 37.0h0.85v0.85h-0.85zM31.8 39.2h0.85v0.85h-0.85zM36.5 35.2h0.85v0.85h-0.85zM36.6 38.6h0.85v0.85h-0.85zM32.3 39.7h0.85v0.85h-0.85zM31.3 40.3h0.85v0.85h-0.85zM38.2 30.6h0.85v0.85h-0.85zM34.8 35.9h0.85v0.85h-0.85zM29.3 43.6h0.85v0.85h-0.85zM31.2 42.2h0.85v0.85h-0.85zM38.0 35.0h0.85v0.85h-0.85zM37.0 35.6h0.85v0.85h-0.85zM35.9 35.8h0.85v0.85h-0.85zM33.0 40.9h0.85v0.85h-0.85zM35.5 35.1h0.85v0.85h-0.85zM27.6 45.4h0.85v0.85h-0.85zM30.7 43.0h0.85v0.85h-0.85zM38.1 35.7h0.85v0.85h-0.85zM33.2 40.2h0.85v0.85h-0.85zM32.8 41.0h0.85v0.85h-0.85zM36.7 37.6h0.85v0.85h-0.85zM39.4 27.6h0.85v0.85h-0.85zM41.5 35.0h0.85v0.85h-0.85zM38.7 32.0h0.85v0.85h-0.85zM40.3 33.9h0.85v0.85h-0.85zM40.7 31.3h0.85v0.85h-0.85zM51.4 24.0h0.85v0.85h-0.85zM49.2 26.3h0.85v0.85h-0.85zM49.9 24.7h0.85v0.85h-0.85zM48.1 28.7h0.85v0.85h-0.85zM49.2 23.3h0.85v0.85h-0.85zM46.6 28.1h0.85v0.85h-0.85zM52.8 23.4h0.85v0.85h-0.85zM43.1 24.4h0.85v0.85h-0.85zM41.8 32.2h0.85v0.85h-0.85zM42.2 33.4h0.85v0.85h-0.85zM39.0 34.8h0.85v0.85h-0.85zM46.7 24.0h0.85v0.85h-0.85zM40.4 28.0h0.85v0.85h-0.85zM47.3 30.6h0.85v0.85h-0.85zM47.0 27.7h0.85v0.85h-0.85zM41.4 28.8h0.85v0.85h-0.85zM48.2 23.7h0.85v0.85h-0.85zM46.4 23.3h0.85v0.85h-0.85zM47.9 25.2h0.85v0.85h-0.85zM44.2 34.0h0.85v0.85h-0.85zM38.6 29.1h0.85v0.85h-0.85zM50.3 24.1h0.85v0.85h-0.85zM44.5 23.3h0.85v0.85h-0.85zM47.4 24.7h0.85v0.85h-0.85zM44.8 27.0h0.85v0.85h-0.85zM45.9 22.4h0.85v0.85h-0.85zM43.8 32.6h0.85v0.85h-0.85zM47.2 23.6h0.85v0.85h-0.85zM38.7 33.9h0.85v0.85h-0.85zM42.7 32.7h0.85v0.85h-0.85zM44.8 33.2h0.85v0.85h-0.85zM52.7 23.1h0.85v0.85h-0.85zM40.5 28.6h0.85v0.85h-0.85zM45.0 23.5h0.85v0.85h-0.85zM38.4 31.0h0.85v0.85h-0.85zM50.3 23.4h0.85v0.85h-0.85zM50.9 23.9h0.85v0.85h-0.85zM40.5 32.4h0.85v0.85h-0.85zM45.8 29.8h0.85v0.85h-0.85zM44.5 29.6h0.85v0.85h-0.85zM49.1 27.0h0.85v0.85h-0.85zM48.0 25.4h0.85v0.85h-0.85zM50.2 24.1h0.85v0.85h-0.85zM46.9 26.7h0.85v0.85h-0.85zM42.6 32.9h0.85v0.85h-0.85zM45.9 23.8h0.85v0.85h-0.85zM46.7 29.2h0.85v0.85h-0.85zM45.5 23.3h0.85v0.85h-0.85zM49.9 26.0h0.85v0.85h-0.85zM43.9 26.2h0.85v0.85h-0.85zM46.7 26.0h0.85v0.85h-0.85zM47.9 25.4h0.85v0.85h-0.85zM42.1 27.1h0.85v0.85h-0.85zM45.2 23.2h0.85v0.85h-0.85zM46.7 24.4h0.85v0.85h-0.85zM42.0 25.0h0.85v0.85h-0.85zM40.0 30.0h0.85v0.85h-0.85zM42.3 24.6h0.85v0.85h-0.85zM41.9 33.7h0.85v0.85h-0.85zM41.1 24.7h0.85v0.85h-0.85zM42.8 34.9h0.85v0.85h-0.85zM48.9 24.3h0.85v0.85h-0.85zM52.7 22.3h0.85v0.85h-0.85zM49.8 23.4h0.85v0.85h-0.85zM40.4 27.9h0.85v0.85h-0.85zM45.9 30.8h0.85v0.85h-0.85zM39.8 35.3h0.85v0.85h-0.85zM50.3 25.2h0.85v0.85h-0.85zM47.2 28.3h0.85v0.85h-0.85zM43.4 24.0h0.85v0.85h-0.85zM50.4 26.0h0.85v0.85h-0.85zM39.2 27.8h0.85v0.85h-0.85zM42.7 34.0h0.85v0.85h-0.85zM46.1 27.7h0.85v0.85h-0.85zM46.3 31.0h0.85v0.85h-0.85zM45.7 30.8h0.85v0.85h-0.85zM38.3 32.0h0.85v0.85h-0.85zM51.2 23.5h0.85v0.85h-0.85zM40.4 25.3h0.85v0.85h-0.85zM39.5 29.9h0.85v0.85h-0.85zM39.6 25.6h0.85v0.85h-0.85zM50.3 24.6h0.85v0.85h-0.85zM46.4 31.2h0.85v0.85h-0.85zM39.5 27.5h0.85v0.85h-0.85zM46.3 23.4h0.85v0.85h-0.85zM47.0 30.0h0.85v0.85h-0.85zM41.9 24.9h0.85v0.85h-0.85zM44.3 32.4h0.85v0.85h-0.85zM45.9 27.1h0.85v0.85h-0.85zM47.0 29.3h0.85v0.85h-0.85zM46.4 25.1h0.85v0.85h-0.85zM49.0 25.0h0.85v0.85h-0.85zM38.6 32.0h0.85v0.85h-0.85zM44.5 24.6h0.85v0.85h-0.85zM49.8 26.9h0.85v0.85h-0.85zM46.1 23.4h0.85v0.85h-0.85zM45.0 27.3h0.85v0.85h-0.85zM44.0 33.8h0.85v0.85h-0.85zM39.2 28.1h0.85v0.85h-0.85zM42.1 25.5h0.85v0.85h-0.85zM47.8 22.4h0.85v0.85h-0.85zM42.7 33.9h0.85v0.85h-0.85zM47.2 28.4h0.85v0.85h-0.85zM44.7 23.5h0.85v0.85h-0.85zM45.2 22.4h0.85v0.85h-0.85zM46.0 28.0h0.85v0.85h-0.85zM42.6 26.1h0.85v0.85h-0.85zM40.8 35.9h0.85v0.85h-0.85zM46.8 25.5h0.85v0.85h-0.85zM46.7 29.0h0.85v0.85h-0.85zM45.8 27.5h0.85v0.85h-0.85zM43.7 25.6h0.85v0.85h-0.85zM47.9 28.3h0.85v0.85h-0.85zM40.8 34.5h0.85v0.85h-0.85zM46.4 23.4h0.85v0.85h-0.85zM49.5 23.1h0.85v0.85h-0.85zM43.9 25.2h0.85v0.85h-0.85zM48.5 24.4h0.85v0.85h-0.85zM47.4 25.4h0.85v0.85h-0.85zM40.9 28.1h0.85v0.85h-0.85zM42.6 24.1h0.85v0.85h-0.85zM40.1 32.2h0.85v0.85h-0.85zM44.6 25.0h0.85v0.85h-0.85zM43.0 25.9h0.85v0.85h-0.85zM47.5 29.7h0.85v0.85h-0.85zM40.5 30.0h0.85v0.85h-0.85zM44.5 23.1h0.85v0.85h-0.85zM46.2 29.0h0.85v0.85h-0.85zM40.2 35.3h0.85v0.85h-0.85zM45.6 26.9h0.85v0.85h-0.85zM48.6 23.7h0.85v0.85h-0.85zM40.6 34.5h0.85v0.85h-0.85zM45.6 26.9h0.85v0.85h-0.85zM46.5 24.6h0.85v0.85h-0.85zM41.8 34.4h0.85v0.85h-0.85zM47.1 26.9h0.85v0.85h-0.85zM38.3 31.6h0.85v0.85h-0.85zM42.2 34.2h0.85v0.85h-0.85zM50.9 25.8h0.85v0.85h-0.85zM46.1 24.6h0.85v0.85h-0.85zM49.7 25.7h0.85v0.85h-0.85zM40.2 30.0h0.85v0.85h-0.85zM45.6 25.8h0.85v0.85h-0.85zM45.0 32.3h0.85v0.85h-0.85zM41.4 33.2h0.85v0.85h-0.85zM40.2 30.5h0.85v0.85h-0.85zM48.9 27.7h0.85v0.85h-0.85zM48.7 25.1h0.85v0.85h-0.85zM41.9 33.7h0.85v0.85h-0.85zM46.7 27.0h0.85v0.85h-0.85zM40.0 26.7h0.85v0.85h-0.85zM44.4 27.0h0.85v0.85h-0.85zM38.7 33.6h0.85v0.85h-0.85zM44.4 27.1h0.85v0.85h-0.85zM48.3 24.1h0.85v0.85h-0.85zM40.2 30.6h0.85v0.85h-0.85zM39.3 33.4h0.85v0.85h-0.85zM39.0 26.4h0.85v0.85h-0.85zM47.0 24.8h0.85v0.85h-0.85zM49.3 25.8h0.85v0.85h-0.85zM48.7 25.1h0.85v0.85h-0.85zM46.4 27.7h0.85v0.85h-0.85zM49.2 23.8h0.85v0.85h-0.85zM39.5 31.5h0.85v0.85h-0.85zM38.9 33.4h0.85v0.85h-0.85zM50.3 25.3h0.85v0.85h-0.85zM40.6 26.2h0.85v0.85h-0.85zM43.3 34.0h0.85v0.85h-0.85zM40.1 26.9h0.85v0.85h-0.85zM40.9 36.1h0.85v0.85h-0.85zM48.1 26.7h0.85v0.85h-0.85zM48.5 26.7h0.85v0.85h-0.85zM40.7 31.2h0.85v0.85h-0.85zM38.8 26.8h0.85v0.85h-0.85zM48.1 28.7h0.85v0.85h-0.85zM43.3 28.5h0.85v0.85h-0.85zM45.6 26.2h0.85v0.85h-0.85zM42.6 23.9h0.85v0.85h-0.85zM38.8 31.9h0.85v0.85h-0.85zM49.7 24.0h0.85v0.85h-0.85zM45.0 32.8h0.85v0.85h-0.85zM41.2 35.0h0.85v0.85h-0.85zM46.9 26.2h0.85v0.85h-0.85zM45.4 31.7h0.85v0.85h-0.85zM49.6 23.1h0.85v0.85h-0.85zM43.9 26.2h0.85v0.85h-0.85zM41.1 31.4h0.85v0.85h-0.85zM44.4 31.4h0.85v0.85h-0.85zM40.6 32.5h0.85v0.85h-0.85zM49.7 27.1h0.85v0.85h-0.85zM42.4 34.3h0.85v0.85h-0.85zM48.1 28.6h0.85v0.85h-0.85zM48.3 29.0h0.85v0.85h-0.85zM44.4 33.2h0.85v0.85h-0.85zM47.9 24.5h0.85v0.85h-0.85zM47.1 26.4h0.85v0.85h-0.85zM48.1 23.2h0.85v0.85h-0.85zM50.2 26.8h0.85v0.85h-0.85zM49.4 25.8h0.85v0.85h-0.85zM43.0 26.7h0.85v0.85h-0.85zM46.4 23.9h0.85v0.85h-0.85zM40.6 28.7h0.85v0.85h-0.85zM44.7 26.4h0.85v0.85h-0.85zM52.1 22.4h0.85v0.85h-0.85zM42.3 32.9h0.85v0.85h-0.85zM43.7 23.8h0.85v0.85h-0.85zM46.8 24.5h0.85v0.85h-0.85zM51.6 23.5h0.85v0.85h-0.85zM42.4 32.9h0.85v0.85h-0.85zM44.9 23.3h0.85v0.85h-0.85zM46.5 28.4h0.85v0.85h-0.85zM40.6 32.6h0.85v0.85h-0.85zM42.1 25.9h0.85v0.85h-0.85zM49.6 24.5h0.85v0.85h-0.85zM48.8 23.1h0.85v0.85h-0.85zM39.2 35.0h0.85v0.85h-0.85zM50.1 25.7h0.85v0.85h-0.85zM43.0 33.3h0.85v0.85h-0.85zM44.8 23.8h0.85v0.85h-0.85zM47.2 26.5h0.85v0.85h-0.85zM42.5 34.7h0.85v0.85h-0.85zM41.2 33.6h0.85v0.85h-0.85zM48.8 24.7h0.85v0.85h-0.85zM41.7 34.4h0.85v0.85h-0.85zM53.9 22.9h0.85v0.85h-0.85zM40.3 30.1h0.85v0.85h-0.85zM40.4 30.0h0.85v0.85h-0.85zM46.8 27.8h0.85v0.85h-0.85zM42.9 32.3h0.85v0.85h-0.85zM49.4 25.2h0.85v0.85h-0.85zM40.7 36.4h0.85v0.85h-0.85zM40.1 27.6h0.85v0.85h-0.85zM48.4 28.0h0.85v0.85h-0.85zM47.2 27.3h0.85v0.85h-0.85zM44.3 26.6h0.85v0.85h-0.85zM49.2 22.7h0.85v0.85h-0.85zM43.4 25.3h0.85v0.85h-0.85zM46.4 28.0h0.85v0.85h-0.85zM41.8 25.0h0.85v0.85h-0.85zM38.9 26.6h0.85v0.85h-0.85zM41.2 30.4h0.85v0.85h-0.85zM38.9 29.6h0.85v0.85h-0.85zM39.0 30.6h0.85v0.85h-0.85zM47.4 24.4h0.85v0.85h-0.85zM38.4 32.1h0.85v0.85h-0.85zM39.0 27.0h0.85v0.85h-0.85zM42.9 34.6h0.85v0.85h-0.85zM44.3 33.9h0.85v0.85h-0.85zM42.3 26.7h0.85v0.85h-0.85zM39.6 34.0h0.85v0.85h-0.85zM38.9 26.7h0.85v0.85h-0.85zM39.8 29.6h0.85v0.85h-0.85zM49.4 26.8h0.85v0.85h-0.85zM40.8 27.0h0.85v0.85h-0.85zM44.2 31.4h0.85v0.85h-0.85zM47.9 27.1h0.85v0.85h-0.85zM38.4 30.7h0.85v0.85h-0.85zM46.0 30.6h0.85v0.85h-0.85zM49.8 24.0h0.85v0.85h-0.85zM41.3 28.0h0.85v0.85h-0.85zM42.0 31.5h0.85v0.85h-0.85zM45.1 31.2h0.85v0.85h-0.85zM46.1 25.3h0.85v0.85h-0.85zM45.0 26.2h0.85v0.85h-0.85zM45.5 23.5h0.85v0.85h-0.85zM46.6 30.4h0.85v0.85h-0.85zM47.5 29.7h0.85v0.85h-0.85zM49.3 23.2h0.85v0.85h-0.85zM41.5 27.4h0.85v0.85h-0.85zM44.3 33.3h0.85v0.85h-0.85zM49.3 23.3h0.85v0.85h-0.85zM45.0 25.6h0.85v0.85h-0.85zM44.7 23.2h0.85v0.85h-0.85zM49.7 23.5h0.85v0.85h-0.85zM49.6 25.6h0.85v0.85h-0.85zM40.7 32.1h0.85v0.85h-0.85zM41.2 31.2h0.85v0.85h-0.85zM40.8 24.6h0.85v0.85h-0.85zM43.2 24.4h0.85v0.85h-0.85zM40.3 31.0h0.85v0.85h-0.85zM42.4 24.9h0.85v0.85h-0.85zM43.8 33.1h0.85v0.85h-0.85zM46.9 31.3h0.85v0.85h-0.85zM50.2 24.4h0.85v0.85h-0.85zM40.7 27.2h0.85v0.85h-0.85zM45.1 25.8h0.85v0.85h-0.85zM41.6 25.6h0.85v0.85h-0.85zM48.1 22.5h0.85v0.85h-0.85zM42.4 34.2h0.85v0.85h-0.85zM39.6 34.6h0.85v0.85h-0.85zM44.5 32.9h0.85v0.85h-0.85zM47.2 22.5h0.85v0.85h-0.85zM39.9 27.7h0.85v0.85h-0.85zM43.2 23.1h0.85v0.85h-0.85zM39.3 31.7h0.85v0.85h-0.85zM47.4 25.3h0.85v0.85h-0.85zM44.3 28.1h0.85v0.85h-0.85zM42.6 29.1h0.85v0.85h-0.85zM47.1 23.8h0.85v0.85h-0.85zM47.5 27.8h0.85v0.85h-0.85zM52.4 23.3h0.85v0.85h-0.85zM43.4 34.3h0.85v0.85h-0.85zM41.6 35.3h0.85v0.85h-0.85zM40.4 33.5h0.85v0.85h-0.85zM41.2 30.4h0.85v0.85h-0.85zM50.4 35.8h0.85v0.85h-0.85zM53.0 32.0h0.85v0.85h-0.85zM37.4 42.4h0.85v0.85h-0.85zM50.7 28.1h0.85v0.85h-0.85zM50.2 32.6h0.85v0.85h-0.85zM44.8 36.2h0.85v0.85h-0.85zM30.7 45.5h0.85v0.85h-0.85zM34.0 45.0h0.85v0.85h-0.85zM38.5 39.2h0.85v0.85h-0.85zM39.0 38.7h0.85v0.85h-0.85zM50.9 26.4h0.85v0.85h-0.85zM32.4 43.4h0.85v0.85h-0.85zM50.3 32.6h0.85v0.85h-0.85zM51.8 27.9h0.85v0.85h-0.85zM49.6 36.8h0.85v0.85h-0.85zM33.6 42.8h0.85v0.85h-0.85zM52.0 27.1h0.85v0.85h-0.85zM50.3 29.8h0.85v0.85h-0.85zM48.3 31.9h0.85v0.85h-0.85zM35.2 39.8h0.85v0.85h-0.85zM50.7 32.8h0.85v0.85h-0.85zM52.9 26.4h0.85v0.85h-0.85zM52.2 31.1h0.85v0.85h-0.85zM51.5 36.0h0.85v0.85h-0.85zM50.8 34.5h0.85v0.85h-0.85zM44.1 39.0h0.85v0.85h-0.85zM44.3 39.3h0.85v0.85h-0.85zM51.1 36.3h0.85v0.85h-0.85zM53.9 27.7h0.85v0.85h-0.85zM36.4 42.7h0.85v0.85h-0.85zM49.9 27.4h0.85v0.85h-0.85zM51.2 36.0h0.85v0.85h-0.85zM33.8 40.6h0.85v0.85h-0.85zM30.7 44.6h0.85v0.85h-0.85zM34.3 42.8h0.85v0.85h-0.85zM40.1 40.1h0.85v0.85h-0.85zM54.3 30.6h0.85v0.85h-0.85zM51.6 36.2h0.85v0.85h-0.85zM42.9 37.1h0.85v0.85h-0.85zM49.0 35.6h0.85v0.85h-0.85zM51.3 26.3h0.85v0.85h-0.85zM37.0 40.7h0.85v0.85h-0.85zM51.9 33.6h0.85v0.85h-0.85zM51.6 24.5h0.85v0.85h-0.85zM40.3 40.0h0.85v0.85h-0.85zM39.2 41.2h0.85v0.85h-0.85zM38.9 41.2h0.85v0.85h-0.85zM41.1 38.9h0.85v0.85h-0.85zM37.5 41.0h0.85v0.85h-0.85zM45.1 37.5h0.85v0.85h-0.85zM44.4 37.2h0.85v0.85h-0.85zM43.9 39.9h0.85v0.85h-0.85zM48.1 35.1h0.85v0.85h-0.85zM33.4 43.0h0.85v0.85h-0.85zM42.7 37.9h0.85v0.85h-0.85zM53.6 32.1h0.85v0.85h-0.85zM32.4 44.6h0.85v0.85h-0.85zM51.9 29.0h0.85v0.85h-0.85zM48.0 33.6h0.85v0.85h-0.85zM46.8 31.8h0.85v0.85h-0.85zM51.1 28.2h0.85v0.85h-0.85zM50.3 34.6h0.85v0.85h-0.85zM39.8 41.6h0.85v0.85h-0.85zM49.7 31.0h0.85v0.85h-0.85zM47.1 34.7h0.85v0.85h-0.85zM52.8 24.9h0.85v0.85h-0.85zM49.6 28.6h0.85v0.85h-0.85zM48.8 34.4h0.85v0.85h-0.85zM41.0 39.6h0.85v0.85h-0.85zM38.4 38.6h0.85v0.85h-0.85zM43.5 36.7h0.85v0.85h-0.85zM35.2 40.2h0.85v0.85h-0.85zM33.5 45.2h0.85v0.85h-0.85zM29.5 45.3h0.85v0.85h-0.85zM48.6 31.9h0.85v0.85h-0.85zM52.3 35.2h0.85v0.85h-0.85zM54.4 28.0h0.85v0.85h-0.85zM40.9 38.9h0.85v0.85h-0.85zM44.8 35.6h0.85v0.85h-0.85zM40.3 40.8h0.85v0.85h-0.85zM42.6 36.1h0.85v0.85h-0.85zM44.7 33.7h0.85v0.85h-0.85zM46.9 38.5h0.85v0.85h-0.85zM52.8 32.4h0.85v0.85h-0.85zM43.4 39.7h0.85v0.85h-0.85zM33.4 44.6h0.85v0.85h-0.85zM44.1 35.7h0.85v0.85h-0.85zM44.7 39.3h0.85v0.85h-0.85zM45.8 37.8h0.85v0.85h-0.85zM49.1 37.0h0.85v0.85h-0.85zM35.6 40.6h0.85v0.85h-0.85zM29.7 45.6h0.85v0.85h-0.85zM54.5 26.6h0.85v0.85h-0.85zM52.9 30.7h0.85v0.85h-0.85zM40.2 39.0h0.85v0.85h-0.85zM36.6 40.3h0.85v0.85h-0.85zM52.8 26.4h0.85v0.85h-0.85zM44.5 39.2h0.85v0.85h-0.85zM44.7 39.1h0.85v0.85h-0.85zM43.4 37.5h0.85v0.85h-0.85zM45.0 33.6h0.85v0.85h-0.85zM33.1 44.4h0.85v0.85h-0.85zM45.5 36.4h0.85v0.85h-0.85zM40.7 39.6h0.85v0.85h-0.85zM39.4 38.4h0.85v0.85h-0.85zM33.4 41.8h0.85v0.85h-0.85zM38.5 41.1h0.85v0.85h-0.85zM36.8 34.3h0.85v0.85h-0.85zM34.6 47.2h0.85v0.85h-0.85zM29.1 41.3h0.85v0.85h-0.85zM37.1 39.8h0.85v0.85h-0.85zM36.1 40.6h0.85v0.85h-0.85zM40.5 35.9h0.85v0.85h-0.85zM43.7 44.5h0.85v0.85h-0.85zM36.1 47.3h0.85v0.85h-0.85zM29.3 33.8h0.85v0.85h-0.85zM43.9 44.4h0.85v0.85h-0.85zM40.4 49.7h0.85v0.85h-0.85zM37.0 38.6h0.85v0.85h-0.85z" fill="#0a0aff" opacity="0.85"/>
<polygon points="55.1,22.1 61.0,22.1 58.0,28.0 55.7,32.7 55.1,32.7" fill="#4aa02a" opacity="0.81"/>
<path d="M58.5 26.5h0.8v0.8h-0.8zM58.8 23.1h0.8v0.8h-0.8zM58.1 26.7h0.8v0.8h-0.8zM57.4 27.7h0.8v0.8h-0.8zM59.6 24.0h0.8v0.8h-0.8zM55.6 27.6h0.8v0.8h-0.8zM56.3 26.5h0.8v0.8h-0.8zM56.9 29.8h0.8v0.8h-0.8zM56.3 23.4h0.8v0.8h-0.8zM56.6 28.4h0.8v0.8h-0.8zM55.4 23.0h0.8v0.8h-0.8zM57.2 24.9h0.8v0.8h-0.8zM58.6 26.9h0.8v0.8h-0.8zM56.3 26.0h0.8v0.8h-0.8zM55.2 31.2h0.8v0.8h-0.8zM56.0 24.8h0.8v0.8h-0.8zM57.4 28.3h0.8v0.8h-0.8zM57.5 22.2h0.8v0.8h-0.8zM57.2 28.5h0.8v0.8h-0.8zM55.4 29.8h0.8v0.8h-0.8zM56.0 26.0h0.8v0.8h-0.8zM58.2 22.6h0.8v0.8h-0.8zM56.0 24.5h0.8v0.8h-0.8zM56.4 24.7h0.8v0.8h-0.8zM58.4 22.4h0.8v0.8h-0.8zM56.8 29.0h0.8v0.8h-0.8zM56.6 29.4h0.8v0.8h-0.8zM57.1 23.3h0.8v0.8h-0.8zM55.7 24.9h0.8v0.8h-0.8zM55.3 30.6h0.8v0.8h-0.8zM56.1 31.2h0.8v0.8h-0.8zM57.9 24.8h0.8v0.8h-0.8zM57.6 26.1h0.8v0.8h-0.8zM55.8 26.7h0.8v0.8h-0.8zM57.4 26.2h0.8v0.8h-0.8zM56.3 23.1h0.8v0.8h-0.8zM55.1 28.9h0.8v0.8h-0.8zM55.3 31.8h0.8v0.8h-0.8zM58.7 24.5h0.8v0.8h-0.8zM55.9 27.8h0.8v0.8h-0.8zM57.9 27.8h0.8v0.8h-0.8zM58.3 23.8h0.8v0.8h-0.8zM58.0 22.9h0.8v0.8h-0.8zM55.8 28.0h0.8v0.8h-0.8zM55.3 28.9h0.8v0.8h-0.8zM55.4 30.1h0.8v0.8h-0.8zM55.2 29.7h0.8v0.8h-0.8zM57.8 22.8h0.8v0.8h-0.8zM57.1 24.8h0.8v0.8h-0.8zM57.6 26.8h0.8v0.8h-0.8zM55.1 22.1h0.8v0.8h-0.8zM56.8 30.0h0.8v0.8h-0.8zM57.9 23.7h0.8v0.8h-0.8zM55.7 29.4h0.8v0.8h-0.8zM58.1 22.3h0.8v0.8h-0.8zM55.4 23.8h0.8v0.8h-0.8zM57.3 23.4h0.8v0.8h-0.8zM58.0 22.7h0.8v0.8h-0.8zM56.0 30.6h0.8v0.8h-0.8zM55.6 25.2h0.8v0.8h-0.8zM55.3 25.0h0.8v0.8h-0.8zM59.1 22.3h0.8v0.8h-0.8zM57.3 26.6h0.8v0.8h-0.8zM57.1 27.2h0.8v0.8h-0.8zM57.5 23.9h0.8v0.8h-0.8zM60.3 22.4h0.8v0.8h-0.8zM59.3 22.2h0.8v0.8h-0.8zM55.8 27.6h0.8v0.8h-0.8zM56.6 24.6h0.8v0.8h-0.8zM56.2 24.1h0.8v0.8h-0.8zM56.6 25.5h0.8v0.8h-0.8zM59.2 22.7h0.8v0.8h-0.8zM55.2 27.6h0.8v0.8h-0.8zM56.9 27.6h0.8v0.8h-0.8zM55.7 22.9h0.8v0.8h-0.8zM58.8 25.6h0.8v0.8h-0.8zM56.9 24.9h0.8v0.8h-0.8zM56.6 26.5h0.8v0.8h-0.8zM55.8 25.3h0.8v0.8h-0.8zM57.2 23.3h0.8v0.8h-0.8zM56.2 26.7h0.8v0.8h-0.8zM57.8 24.3h0.8v0.8h-0.8zM55.2 28.4h0.8v0.8h-0.8zM59.1 22.5h0.8v0.8h-0.8zM55.2 31.8h0.8v0.8h-0.8zM55.9 32.0h0.8v0.8h-0.8zM55.3 24.7h0.8v0.8h-0.8zM57.2 27.0h0.8v0.8h-0.8zM56.2 30.5h0.8v0.8h-0.8zM56.4 22.9h0.8v0.8h-0.8zM56.0 28.5h0.8v0.8h-0.8zM55.6 22.6h0.8v0.8h-0.8zM56.4 28.0h0.8v0.8h-0.8zM57.5 25.9h0.8v0.8h-0.8zM57.1 26.1h0.8v0.8h-0.8z" fill="#2c9a10" opacity="0.9"/>
<path d="M53.9 20.5h0.8v0.8h-0.8zM52.9 20.0h0.8v0.8h-0.8zM52.0 21.0h0.8v0.8h-0.8zM54.5 20.7h0.8v0.8h-0.8zM52.3 20.8h0.8v0.8h-0.8zM54.1 21.5h0.8v0.8h-0.8z" fill="#ff2a2a" opacity="0.75"/>
<polygon points="55.9,21.5 56.5,19.6 58.5,19.0 60.5,19.6 61.0,21.5" fill="#a040f0" opacity="0.55" filter="url(#fb)"/>
<path d="M56.1 19.2h0.8v0.8h-0.8zM58.1 19.1h0.8v0.8h-0.8zM58.6 19.9h0.8v0.8h-0.8zM56.0 19.3h0.8v0.8h-0.8zM58.5 21.2h0.8v0.8h-0.8zM57.2 19.9h0.8v0.8h-0.8zM59.0 21.1h0.8v0.8h-0.8zM59.0 20.8h0.8v0.8h-0.8zM57.7 19.6h0.8v0.8h-0.8zM60.3 20.5h0.8v0.8h-0.8zM56.6 20.7h0.8v0.8h-0.8zM56.4 20.9h0.8v0.8h-0.8zM59.4 21.1h0.8v0.8h-0.8zM57.9 19.6h0.8v0.8h-0.8zM60.7 19.1h0.8v0.8h-0.8zM58.5 19.7h0.8v0.8h-0.8zM56.4 19.5h0.8v0.8h-0.8zM61.0 19.2h0.8v0.8h-0.8zM60.7 19.8h0.8v0.8h-0.8zM59.5 19.9h0.8v0.8h-0.8zM56.0 20.5h0.8v0.8h-0.8zM56.5 19.1h0.8v0.8h-0.8zM56.7 21.2h0.8v0.8h-0.8zM57.5 20.4h0.8v0.8h-0.8zM57.7 19.9h0.8v0.8h-0.8zM56.4 19.0h0.8v0.8h-0.8zM59.9 19.6h0.8v0.8h-0.8zM60.7 19.2h0.8v0.8h-0.8zM60.2 21.0h0.8v0.8h-0.8zM60.2 20.2h0.8v0.8h-0.8zM56.2 20.8h0.8v0.8h-0.8zM60.0 19.5h0.8v0.8h-0.8zM59.8 19.1h0.8v0.8h-0.8zM59.0 19.0h0.8v0.8h-0.8zM56.5 20.1h0.8v0.8h-0.8zM60.5 21.0h0.8v0.8h-0.8z" fill="#a040f0" opacity="0.75"/>
<rect x="-1.90" y="0.00" width="2.50" height="72.00" fill="#6c6cff" stroke="none" stroke-width="0" />
<rect x="-1.20" y="70.20" width="71.20" height="2.50" fill="#6c6cff" stroke="none" stroke-width="0" />
<path d="M-1.9 1.2h2.5v2.6h-2.5zM-1.9 6.2h2.5v1.2h-2.5zM-1.9 11.0h2.5v2.6h-2.5zM-1.9 16.0h2.5v1.2h-2.5zM-1.9 20.8h2.5v2.6h-2.5zM-1.9 25.8h2.5v1.2h-2.5zM-1.9 30.6h2.5v2.6h-2.5zM-1.9 35.6h2.5v1.2h-2.5zM-1.9 40.4h2.5v2.6h-2.5zM-1.9 45.4h2.5v1.2h-2.5zM-1.9 50.2h2.5v2.6h-2.5zM-1.9 55.2h2.5v1.2h-2.5zM-1.9 60.0h2.5v2.6h-2.5zM-1.9 65.0h2.5v1.2h-2.5zM-1.9 69.8h2.5v2.6h-2.5zM-1.9 74.8h2.5v1.2h-2.5zM-0.5 70.2h3.2v2.5h-3.2zM4.7 70.2h1.5v2.5h-1.5zM9.2 70.2h3.2v2.5h-3.2zM14.4 70.2h1.5v2.5h-1.5zM18.9 70.2h3.2v2.5h-3.2zM24.1 70.2h1.5v2.5h-1.5zM28.6 70.2h3.2v2.5h-3.2zM33.8 70.2h1.5v2.5h-1.5zM38.3 70.2h3.2v2.5h-3.2zM43.5 70.2h1.5v2.5h-1.5zM48.0 70.2h3.2v2.5h-3.2zM53.2 70.2h1.5v2.5h-1.5zM57.7 70.2h3.2v2.5h-3.2zM62.9 70.2h1.5v2.5h-1.5zM67.4 70.2h3.2v2.5h-3.2zM72.6 70.2h1.5v2.5h-1.5z" fill="#1010ff"/>
<path d="M-6.8 -0.3l1.5 1.3l0.5 2.3M-6.6 2.3l0.3 0.4 M-6.8 9.5l1.5 1.3l0.5 2.3M-6.6 12.1l0.3 0.4 M-6.8 19.3l1.5 1.3l0.5 2.3M-6.6 21.9l0.3 0.4 M-6.8 29.1l1.5 1.3l0.5 2.3M-6.6 31.7l0.3 0.4 M-6.8 38.9l1.5 1.3l0.5 2.3M-6.6 41.5l0.3 0.4 M-6.8 48.7l1.5 1.3l0.5 2.3M-6.6 51.3l0.3 0.4 M-6.8 58.5l1.5 1.3l0.5 2.3M-6.6 61.1l0.3 0.4 M-6.8 68.3l1.5 1.3l0.5 2.3M-6.6 70.9l0.3 0.4 M-0.8 76.8l1.8-0.3l1.4-1.4l0.2-1.1M2.1 77.1l0.4 0.2 M8.9 76.8l1.8-0.3l1.4-1.4l0.2-1.1M11.8 77.1l0.4 0.2 M18.6 76.8l1.8-0.3l1.4-1.4l0.2-1.1M21.5 77.1l0.4 0.2 M28.3 76.8l1.8-0.3l1.4-1.4l0.2-1.1M31.2 77.1l0.4 0.2 M38.0 76.8l1.8-0.3l1.4-1.4l0.2-1.1M40.9 77.1l0.4 0.2 M47.7 76.8l1.8-0.3l1.4-1.4l0.2-1.1M50.6 77.1l0.4 0.2 M57.4 76.8l1.8-0.3l1.4-1.4l0.2-1.1M60.3 77.1l0.4 0.2 M67.1 76.8l1.8-0.3l1.4-1.4l0.2-1.1M70.0 77.1l0.4 0.2" fill="none" stroke="#2a2af0" stroke-width="1.0"/>
<text x="71.2" y="77.1" font-size="3.8" font-family="'Liberation Sans',Arial,sans-serif" fill="#3a3af0">2</text>
<text transform="translate(-8.6,43.4) rotate(-90)" font-size="3.9" font-family="'Liberation Sans',Arial,sans-serif" fill="#222" text-anchor="middle">PI-A</text>
<text x="37.1" y="81.1" font-size="3.9" font-family="'Liberation Sans',Arial,sans-serif" fill="#222" text-anchor="middle">FITC-A</text>
<text transform="translate(1.0,4.7) scale(1.12,1)" font-size="4.5" font-family="'Liberation Sans',Arial,sans-serif" fill="#f04848" opacity="0.85">Q2-UL</text>
<text transform="translate(1.0,8.8) scale(1.12,1)" font-size="4.5" font-family="'Liberation Sans',Arial,sans-serif" fill="#f04848" opacity="0.85">1.3%</text>
<text transform="translate(54.6,4.7) scale(1.12,1)" font-size="4.5" font-family="'Liberation Sans',Arial,sans-serif" fill="#b060e0" opacity="0.85">Q2-UR</text>
<text transform="translate(54.6,8.8) scale(1.12,1)" font-size="4.5" font-family="'Liberation Sans',Arial,sans-serif" fill="#b060e0" opacity="0.85">4.6%</text>
<text transform="translate(1.0,65.6) scale(1.12,1)" font-size="4.5" font-family="'Liberation Sans',Arial,sans-serif" fill="#2020d0" opacity="0.85">Q2-LL</text>
<text transform="translate(1.0,69.6) scale(1.12,1)" font-size="4.5" font-family="'Liberation Sans',Arial,sans-serif" fill="#2020d0" opacity="0.85">73.1%</text>
<text transform="translate(54.6,65.6) scale(1.12,1)" font-size="4.5" font-family="'Liberation Sans',Arial,sans-serif" fill="#48a030" opacity="0.85">Q2-LR</text>
<text transform="translate(54.6,69.6) scale(1.12,1)" font-size="4.5" font-family="'Liberation Sans',Arial,sans-serif" fill="#48a030" opacity="0.85">21.0%</text>
</g>
<text x="126.9" y="227.1" font-size="11.2" text-anchor="middle" font-weight="bold" font-family="'Liberation Serif','Times New Roman',serif" fill="#000" >HCT116</text>
<line x1="42.5" y1="239.5" x2="42.5" y2="319.1" stroke="#000" stroke-width="1.2" />
<line x1="41.9" y1="318.5" x2="210.8" y2="318.5" stroke="#000" stroke-width="1.2" />
<line x1="39.9" y1="318.5" x2="42.5" y2="318.5" stroke="#000" stroke-width="1.1" />
<text x="39.5" y="321.3" font-size="8.4" text-anchor="end" font-weight="bold" font-family="'Liberation Serif','Times New Roman',serif" fill="#000" >0</text>
<line x1="39.9" y1="298.875" x2="42.5" y2="298.875" stroke="#000" stroke-width="1.1" />
<text x="39.5" y="301.675" font-size="8.4" text-anchor="end" font-weight="bold" font-family="'Liberation Serif','Times New Roman',serif" fill="#000" >10</text>
<line x1="39.9" y1="279.25" x2="42.5" y2="279.25" stroke="#000" stroke-width="1.1" />
<text x="39.5" y="282.05" font-size="8.4" text-anchor="end" font-weight="bold" font-family="'Liberation Serif','Times New Roman',serif" fill="#000" >20</text>
<line x1="39.9" y1="259.625" x2="42.5" y2="259.625" stroke="#000" stroke-width="1.1" />
<text x="39.5" y="262.425" font-size="8.4" text-anchor="end" font-weight="bold" font-family="'Liberation Serif','Times New Roman',serif" fill="#000" >30</text>
<line x1="39.9" y1="240.0" x2="42.5" y2="240.0" stroke="#000" stroke-width="1.1" />
<text x="39.5" y="242.8" font-size="8.4" text-anchor="end" font-weight="bold" font-family="'Liberation Serif','Times New Roman',serif" fill="#000" >40</text>
<line x1="59.6" y1="309.27625" x2="59.6" y2="308.6875" stroke="#000" stroke-width="1.1" />
<line x1="56.1" y1="308.6875" x2="63.1" y2="308.6875" stroke="#000" stroke-width="1.1" />
<rect x="48.30" y="309.28" width="22.60" height="9.22" fill="#fff" stroke="#000" stroke-width="1.2" />
<line x1="59.6" y1="318.5" x2="59.6" y2="321.0" stroke="#000" stroke-width="1.1" />
<text x="59.6" y="329.5" font-size="8.2" text-anchor="middle" font-weight="bold" font-family="'Liberation Serif','Times New Roman',serif" fill="#000" >0</text>
<line x1="93.2" y1="308.88375" x2="93.2" y2="307.90250000000003" stroke="#000" stroke-width="1.1" />
<line x1="89.7" y1="307.90250000000003" x2="96.7" y2="307.90250000000003" stroke="#000" stroke-width="1.1" />
<rect x="81.90" y="308.88" width="22.60" height="9.62" fill="#fff" stroke="#000" stroke-width="1.2" />
<line x1="93.2" y1="318.5" x2="93.2" y2="321.0" stroke="#000" stroke-width="1.1" />
<text x="93.2" y="329.5" font-size="8.2" text-anchor="middle" font-weight="bold" font-family="'Liberation Serif','Times New Roman',serif" fill="#000" >0.5</text>
<line x1="126.80000000000001" y1="302.898125" x2="126.80000000000001" y2="301.328125" stroke="#000" stroke-width="1.1" />
<line x1="123.30000000000001" y1="301.328125" x2="130.3" y2="301.328125" stroke="#000" stroke-width="1.1" />
<rect x="115.50" y="302.90" width="22.60" height="15.60" fill="#fff" stroke="#000" stroke-width="1.2" />
<line x1="126.80000000000001" y1="318.5" x2="126.80000000000001" y2="321.0" stroke="#000" stroke-width="1.1" />
<text x="126.80000000000001" y="329.5" font-size="8.2" text-anchor="middle" font-weight="bold" font-family="'Liberation Serif','Times New Roman',serif" fill="#000" >1</text>
<text x="126.80000000000001" y="301.128125" font-size="7.5" text-anchor="middle" font-weight="bold" font-family="'Liberation Serif','Times New Roman',serif" fill="#000" >**</text>
<line x1="160.4" y1="274.1475" x2="160.4" y2="270.61499999999995" stroke="#000" stroke-width="1.1" />
<line x1="156.9" y1="270.61499999999995" x2="163.9" y2="270.61499999999995" stroke="#000" stroke-width="1.1" />
<rect x="149.10" y="274.15" width="22.60" height="44.35" fill="#fff" stroke="#000" stroke-width="1.2" />
<line x1="160.4" y1="318.5" x2="160.4" y2="321.0" stroke="#000" stroke-width="1.1" />
<text x="160.4" y="329.5" font-size="8.2" text-anchor="middle" font-weight="bold" font-family="'Liberation Serif','Times New Roman',serif" fill="#000" >2</text>
<text x="160.4" y="270.41499999999996" font-size="7.5" text-anchor="middle" font-weight="bold" font-family="'Liberation Serif','Times New Roman',serif" fill="#000" >**</text>
<line x1="194.0" y1="249.22375" x2="194.0" y2="246.08375" stroke="#000" stroke-width="1.1" />
<line x1="190.5" y1="246.08375" x2="197.5" y2="246.08375" stroke="#000" stroke-width="1.1" />
<rect x="182.70" y="249.22" width="22.60" height="69.28" fill="#fff" stroke="#000" stroke-width="1.2" />
<line x1="194.0" y1="318.5" x2="194.0" y2="321.0" stroke="#000" stroke-width="1.1" />
<text x="194.0" y="329.5" font-size="8.2" text-anchor="middle" font-weight="bold" font-family="'Liberation Serif','Times New Roman',serif" fill="#000" >4</text>
<text x="194.0" y="245.88375000000002" font-size="7.5" text-anchor="middle" font-weight="bold" font-family="'Liberation Serif','Times New Roman',serif" fill="#000" >**</text>
<text x="126.7" y="343.2" font-size="10" text-anchor="middle" font-weight="bold" font-family="'Liberation Serif','Times New Roman',serif" fill="#000" >Concentration (μM)</text>
<text transform="translate(27.0,277.3) rotate(-90)" font-size="8.8" text-anchor="middle" font-weight="bold" font-family="'Liberation Serif','Times New Roman',serif">Apoptotic rate (%)</text>
<text x="366.9" y="227.1" font-size="11.2" text-anchor="middle" font-weight="bold" font-family="'Liberation Serif','Times New Roman',serif" fill="#000" >SW620</text>
<line x1="282.5" y1="239.5" x2="282.5" y2="319.1" stroke="#000" stroke-width="1.2" />
<line x1="281.9" y1="318.5" x2="450.8" y2="318.5" stroke="#000" stroke-width="1.2" />
<line x1="279.9" y1="318.5" x2="282.5" y2="318.5" stroke="#000" stroke-width="1.1" />
<text x="279.5" y="321.3" font-size="8.4" text-anchor="end" font-weight="bold" font-family="'Liberation Serif','Times New Roman',serif" fill="#000" >0</text>
<line x1="279.9" y1="298.875" x2="282.5" y2="298.875" stroke="#000" stroke-width="1.1" />
<text x="279.5" y="301.675" font-size="8.4" text-anchor="end" font-weight="bold" font-family="'Liberation Serif','Times New Roman',serif" fill="#000" >10</text>
<line x1="279.9" y1="279.25" x2="282.5" y2="279.25" stroke="#000" stroke-width="1.1" />
<text x="279.5" y="282.05" font-size="8.4" text-anchor="end" font-weight="bold" font-family="'Liberation Serif','Times New Roman',serif" fill="#000" >20</text>
<line x1="279.9" y1="259.625" x2="282.5" y2="259.625" stroke="#000" stroke-width="1.1" />
<text x="279.5" y="262.425" font-size="8.4" text-anchor="end" font-weight="bold" font-family="'Liberation Serif','Times New Roman',serif" fill="#000" >30</text>
<line x1="279.9" y1="240.0" x2="282.5" y2="240.0" stroke="#000" stroke-width="1.1" />
<text x="279.5" y="242.8" font-size="8.4" text-anchor="end" font-weight="bold" font-family="'Liberation Serif','Times New Roman',serif" fill="#000" >40</text>
<line x1="299.6" y1="308.88375" x2="299.6" y2="308.09875" stroke="#000" stroke-width="1.1" />
<line x1="296.1" y1="308.09875" x2="303.1" y2="308.09875" stroke="#000" stroke-width="1.1" />
<rect x="288.30" y="308.88" width="22.60" height="9.62" fill="#000" stroke="#000" stroke-width="1.2" />
<line x1="299.6" y1="318.5" x2="299.6" y2="321.0" stroke="#000" stroke-width="1.1" />
<text x="299.6" y="329.5" font-size="8.2" text-anchor="middle" font-weight="bold" font-family="'Liberation Serif','Times New Roman',serif" fill="#000" >0</text>
<line x1="333.20000000000005" y1="300.8375" x2="333.20000000000005" y2="298.875" stroke="#000" stroke-width="1.1" />
<line x1="329.70000000000005" y1="298.875" x2="336.70000000000005" y2="298.875" stroke="#000" stroke-width="1.1" />
<rect x="321.90" y="300.84" width="22.60" height="17.66" fill="#000" stroke="#000" stroke-width="1.2" />
<line x1="333.20000000000005" y1="318.5" x2="333.20000000000005" y2="321.0" stroke="#000" stroke-width="1.1" />
<text x="333.20000000000005" y="329.5" font-size="8.2" text-anchor="middle" font-weight="bold" font-family="'Liberation Serif','Times New Roman',serif" fill="#000" >0.5</text>
<text x="333.20000000000005" y="298.675" font-size="7.5" text-anchor="middle" font-weight="bold" font-family="'Liberation Serif','Times New Roman',serif" fill="#000" >**</text>
<line x1="366.8" y1="295.93125" x2="366.8" y2="293.57624999999996" stroke="#000" stroke-width="1.1" />
<line x1="363.3" y1="293.57624999999996" x2="370.3" y2="293.57624999999996" stroke="#000" stroke-width="1.1" />
<rect x="355.50" y="295.93" width="22.60" height="22.57" fill="#000" stroke="#000" stroke-width="1.2" />
<line x1="366.8" y1="318.5" x2="366.8" y2="321.0" stroke="#000" stroke-width="1.1" />
<text x="366.8" y="329.5" font-size="8.2" text-anchor="middle" font-weight="bold" font-family="'Liberation Serif','Times New Roman',serif" fill="#000" >1</text>
<text x="366.8" y="293.37624999999997" font-size="7.5" text-anchor="middle" font-weight="bold" font-family="'Liberation Serif','Times New Roman',serif" fill="#000" >**</text>
<line x1="400.40000000000003" y1="268.45625" x2="400.40000000000003" y2="266.2975" stroke="#000" stroke-width="1.1" />
<line x1="396.90000000000003" y1="266.2975" x2="403.90000000000003" y2="266.2975" stroke="#000" stroke-width="1.1" />
<rect x="389.10" y="268.46" width="22.60" height="50.04" fill="#000" stroke="#000" stroke-width="1.2" />
<line x1="400.40000000000003" y1="318.5" x2="400.40000000000003" y2="321.0" stroke="#000" stroke-width="1.1" />
<text x="400.40000000000003" y="329.5" font-size="8.2" text-anchor="middle" font-weight="bold" font-family="'Liberation Serif','Times New Roman',serif" fill="#000" >2</text>
<text x="400.40000000000003" y="266.0975" font-size="7.5" text-anchor="middle" font-weight="bold" font-family="'Liberation Serif','Times New Roman',serif" fill="#000" >**</text>
<line x1="434.0" y1="264.53125" x2="434.0" y2="261.98" stroke="#000" stroke-width="1.1" />
<line x1="430.5" y1="261.98" x2="437.5" y2="261.98" stroke="#000" stroke-width="1.1" />
<rect x="422.70" y="264.53" width="22.60" height="53.97" fill="#000" stroke="#000" stroke-width="1.2" />
<line x1="434.0" y1="318.5" x2="434.0" y2="321.0" stroke="#000" stroke-width="1.1" />
<text x="434.0" y="329.5" font-size="8.2" text-anchor="middle" font-weight="bold" font-family="'Liberation Serif','Times New Roman',serif" fill="#000" >4</text>
<text x="434.0" y="261.78000000000003" font-size="7.5" text-anchor="middle" font-weight="bold" font-family="'Liberation Serif','Times New Roman',serif" fill="#000" >**</text>
<text x="366.7" y="343.2" font-size="10" text-anchor="middle" font-weight="bold" font-family="'Liberation Serif','Times New Roman',serif" fill="#000" >Concentration (μM)</text>
<text transform="translate(267.0,277.3) rotate(-90)" font-size="8.8" text-anchor="middle" font-weight="bold" font-family="'Liberation Serif','Times New Roman',serif">Apoptotic rate (%)</text>
<text x="7" y="373.4" font-size="15" text-anchor="start" font-weight="bold" font-family="'Liberation Serif','Times New Roman',serif" fill="#000" >B</text>
<text x="107.3" y="373.9" font-size="9" text-anchor="middle" font-weight="bold" font-family="'Liberation Serif','Times New Roman',serif" fill="#000" >HCT116</text>
<text x="194.9" y="374.2" font-size="9" text-anchor="middle" font-weight="bold" font-family="'Liberation Serif','Times New Roman',serif" fill="#000" >SW620</text>
<line x1="65.3" y1="378.2" x2="146.4" y2="378.2" stroke="#333" stroke-width="1" />
<line x1="153.5" y1="378.2" x2="235" y2="378.2" stroke="#333" stroke-width="1" />
<text x="62.2" y="390.8" font-size="9" text-anchor="end" font-weight="bold" font-family="'Liberation Serif','Times New Roman',serif" fill="#000" >PPII (μM)</text>
<text x="79.7" y="390.3" font-size="8.2" text-anchor="middle" font-weight="bold" font-family="'Liberation Serif','Times New Roman',serif" fill="#000" >0</text>
<text x="97.4" y="390.3" font-size="8.2" text-anchor="middle" font-weight="bold" font-family="'Liberation Serif','Times New Roman',serif" fill="#000" >0.5</text>
<text x="116.5" y="390.3" font-size="8.2" text-anchor="middle" font-weight="bold" font-family="'Liberation Serif','Times New Roman',serif" fill="#000" >1</text>
<text x="135" y="390.3" font-size="8.2" text-anchor="middle" font-weight="bold" font-family="'Liberation Serif','Times New Roman',serif" fill="#000" >2</text>
<text x="167.6" y="390.3" font-size="8.2" text-anchor="middle" font-weight="bold" font-family="'Liberation Serif','Times New Roman',serif" fill="#000" >0</text>
<text x="185" y="390.3" font-size="8.2" text-anchor="middle" font-weight="bold" font-family="'Liberation Serif','Times New Roman',serif" fill="#000" >0.5</text>
<text x="202" y="390.3" font-size="8.2" text-anchor="middle" font-weight="bold" font-family="'Liberation Serif','Times New Roman',serif" fill="#000" >1</text>
<text x="220.7" y="390.3" font-size="8.2" text-anchor="middle" font-weight="bold" font-family="'Liberation Serif','Times New Roman',serif" fill="#000" >2</text>
<text x="61.5" y="407.2" font-size="9" text-anchor="end" font-weight="bold" font-family="'Liberation Serif','Times New Roman',serif" fill="#000" >PARP</text>
<text x="61.5" y="420.4" font-size="9.2" text-anchor="end" font-weight="bold" font-family="'Liberation Serif','Times New Roman',serif" fill="#000" >Cleaved-PARP</text>
<text x="61.5" y="445.0" font-size="9" text-anchor="end" font-weight="bold" font-family="'Liberation Serif','Times New Roman',serif" fill="#000" >Bcl-XL</text>
<text x="61.5" y="471.3" font-size="9" text-anchor="end" font-weight="bold" font-family="'Liberation Serif','Times New Roman',serif" fill="#000" >Mcl-1</text>
<text x="60.6" y="493.8" font-size="9.2" text-anchor="end" font-weight="bold" font-family="'Liberation Serif','Times New Roman',serif" fill="#000" >Cleaved-</text>
<text x="60.6" y="504.6" font-size="9" text-anchor="end" font-weight="bold" font-family="'Liberation Serif','Times New Roman',serif" fill="#000" >caspase3</text>
<text x="61.5" y="525.2" font-size="9" text-anchor="end" font-weight="bold" font-family="'Liberation Serif','Times New Roman',serif" fill="#000" >β-actin</text>
<linearGradient id="smr" x1="0" y1="0" x2="0" y2="1"><stop offset="0" stop-color="#ababab"/><stop offset="0.65" stop-color="#999"/><stop offset="1" stop-color="#6a6a6a"/></linearGradient><linearGradient id="smr2" x1="0" y1="0" x2="0" y2="1"><stop offset="0" stop-color="#ababab"/><stop offset="0.7" stop-color="#979797"/><stop offset="1" stop-color="#6a6a6a"/></linearGradient>
<linearGradient id="bclg" x1="0" y1="0" x2="0" y2="1"><stop offset="0" stop-color="#555"/><stop offset="0.4" stop-color="#2a2a2a"/><stop offset="0.55" stop-color="#000"/><stop offset="1" stop-color="#000"/></linearGradient>
<filter id="bl6" x="-30%" y="-60%" width="160%" height="220%"><feGaussianBlur stdDeviation="0.6"/></filter><filter id="bl7" x="-30%" y="-60%" width="160%" height="220%"><feGaussianBlur stdDeviation="0.7"/></filter><filter id="bl10" x="-30%" y="-60%" width="160%" height="220%"><feGaussianBlur stdDeviation="1.0"/></filter>
<rect x="64.40" y="397.30" width="82.10" height="26.90" fill="#d8d8d8" stroke="#7a7a7a" stroke-width="1" />
<rect x="64.40" y="429.80" width="82.10" height="22.50" fill="#dadada" stroke="#7a7a7a" stroke-width="1" />
<rect x="64.40" y="457.50" width="82.10" height="21.80" fill="#e3e3e3" stroke="#7a7a7a" stroke-width="1" />
<rect x="64.40" y="485.30" width="82.10" height="22.30" fill="#a8a8a8" stroke="#7a7a7a" stroke-width="1" />
<rect x="64.40" y="513.40" width="82.10" height="22.20" fill="#d2d2d2" stroke="#7a7a7a" stroke-width="1" />
<rect x="64.90" y="513.90" width="81.10" height="3.00" fill="#e6e6e6" stroke="none" stroke-width="0" />
<rect x="153.60" y="397.30" width="82.00" height="26.90" fill="#d6d6d6" stroke="#7a7a7a" stroke-width="1" />
<rect x="153.60" y="429.80" width="82.00" height="22.50" fill="#d9d9d9" stroke="#7a7a7a" stroke-width="1" />
<rect x="153.60" y="457.50" width="82.00" height="21.80" fill="#e1e1e1" stroke="#7a7a7a" stroke-width="1" />
<rect x="153.60" y="485.30" width="82.00" height="22.30" fill="#c9c9c9" stroke="#7a7a7a" stroke-width="1" />
<rect x="153.60" y="513.40" width="82.00" height="22.20" fill="#d6d6d6" stroke="#7a7a7a" stroke-width="1" />
<rect x="73.3" y="399.8" width="13.1" height="9.8" rx="0.0" fill="url(#smr)" opacity="1.0" filter="url(#bl6)"/>
<rect x="73.3" y="408.6" width="13.1" height="2.2" rx="1.1" fill="#444" opacity="0.75" filter="url(#bl7)"/>
<rect x="91.1" y="399.8" width="13.7" height="9.5" rx="0.0" fill="url(#smr)" opacity="1.0" filter="url(#bl6)"/>
<rect x="91.1" y="408.3" width="13.7" height="2.7" rx="1.3" fill="#222" opacity="0.9" filter="url(#bl7)"/>
<rect x="109.8" y="399.8" width="13.7" height="9.5" rx="0.0" fill="url(#smr)" opacity="1.0" filter="url(#bl6)"/>
<rect x="109.8" y="408.3" width="13.7" height="2.7" rx="1.3" fill="#1a1a1a" opacity="0.92" filter="url(#bl7)"/>
<rect x="109.8" y="413.4" width="13.7" height="2.4" rx="1.2" fill="#999" opacity="0.5" filter="url(#bl7)"/>
<rect x="128.6" y="399.8" width="14.1" height="10.2" rx="0.0" fill="url(#smr)" opacity="1.0" filter="url(#bl6)"/>
<rect x="128.6" y="409.0" width="14.1" height="3.8" rx="1.9" fill="#000" opacity="1.0" filter="url(#bl7)"/>
<rect x="128.6" y="414.4" width="14.1" height="2.4" rx="1.2" fill="#8a8a8a" opacity="0.6" filter="url(#bl7)"/>
<rect x="160.8" y="398.8" width="13.7" height="12.4" rx="0.0" fill="url(#smr2)" opacity="1.0" filter="url(#bl6)"/>
<rect x="160.8" y="410.2" width="13.7" height="3.6" rx="1.8" fill="#000" opacity="1.0" filter="url(#bl7)"/>
<rect x="178.8" y="398.8" width="13.5" height="11.2" rx="0.0" fill="url(#smr2)" opacity="1.0" filter="url(#bl6)"/>
<rect x="178.8" y="409.0" width="13.5" height="3.8" rx="1.9" fill="#000" opacity="1.0" filter="url(#bl7)"/>
<rect x="197.0" y="398.8" width="13.7" height="10.0" rx="0.0" fill="url(#smr2)" opacity="1.0" filter="url(#bl6)"/>
<rect x="197.0" y="407.8" width="13.7" height="3.0" rx="1.5" fill="#151515" opacity="0.9" filter="url(#bl7)"/>
<rect x="197.0" y="413.6" width="13.7" height="2.2" rx="1.1" fill="#aaa" opacity="0.45" filter="url(#bl7)"/>
<rect x="215.4" y="398.8" width="13.5" height="10.2" rx="0.0" fill="url(#smr2)" opacity="1.0" filter="url(#bl6)"/>
<rect x="215.4" y="408.0" width="13.5" height="2.8" rx="1.4" fill="#1a1a1a" opacity="0.85" filter="url(#bl7)"/>
<rect x="215.4" y="414.5" width="13.5" height="2.3" rx="1.2" fill="#a5a5a5" opacity="0.5" filter="url(#bl7)"/>
<rect x="72.0" y="437.2" width="12.8" height="6.6" rx="2.0" fill="#202020" opacity="0.95" filter="url(#bl7)"/>
<rect x="90.4" y="436.8" width="13.2" height="7.0" rx="2.0" fill="#080808" opacity="1.0" filter="url(#bl7)"/>
<rect x="110.2" y="437.3" width="11.7" height="5.9" rx="2.0" fill="#383838" opacity="0.9" filter="url(#bl7)"/>
<rect x="128.4" y="436.8" width="11.7" height="5.6" rx="2.0" fill="#3a3a3a" opacity="0.9" filter="url(#bl7)"/>
<rect x="165.6" y="436.7" width="12.0" height="9.0" rx="0.0" fill="url(#bclg)" opacity="1.0" filter="url(#bl7)"/>
<rect x="182.9" y="436.0" width="11.6" height="9.2" rx="0.0" fill="url(#bclg)" opacity="1.0" filter="url(#bl7)"/>
<rect x="200.2" y="435.5" width="11.8" height="9.2" rx="0.0" fill="url(#bclg)" opacity="1.0" filter="url(#bl7)"/>
<rect x="217.6" y="437.0" width="12.2" height="8.5" rx="0.0" fill="url(#bclg)" opacity="1.0" filter="url(#bl7)"/>
<rect x="70.4" y="465.6" width="10.4" height="3.0" rx="1.5" fill="#9a9a9a" opacity="0.8" filter="url(#bl6)"/>
<rect x="89.8" y="465.6" width="10.7" height="3.0" rx="1.5" fill="#808080" opacity="0.85" filter="url(#bl6)"/>
<rect x="108.5" y="465.6" width="10.7" height="3.0" rx="1.5" fill="#bbb" opacity="0.7" filter="url(#bl6)"/>
<rect x="128.6" y="465.6" width="11.3" height="3.0" rx="1.5" fill="#bbb" opacity="0.7" filter="url(#bl6)"/>
<rect x="159.4" y="466.0" width="13.7" height="4.8" rx="2.0" fill="#707070" opacity="0.85" filter="url(#bl6)"/>
<rect x="177.3" y="466.0" width="13.5" height="4.8" rx="2.0" fill="#6a6a6a" opacity="0.85" filter="url(#bl6)"/>
<rect x="195.1" y="467.2" width="13.1" height="4.6" rx="2.0" fill="#888" opacity="0.8" filter="url(#bl6)"/>
<rect x="213.9" y="467.4" width="14.0" height="4.0" rx="2.0" fill="#9a9a9a" opacity="0.75" filter="url(#bl6)"/>
<rect x="91.1" y="499.5" width="10.3" height="3.0" rx="1.5" fill="#555" opacity="0.75" filter="url(#bl7)"/>
<rect x="108.0" y="499.0" width="11.2" height="3.3" rx="1.7" fill="#666" opacity="0.65" filter="url(#bl7)"/>
<rect x="127.7" y="498.5" width="12.2" height="3.5" rx="1.8" fill="#5a5a5a" opacity="0.7" filter="url(#bl7)"/>
<rect x="163.2" y="489.7" width="10.3" height="11.3" rx="2.0" fill="#b0b0b0" opacity="0.6" filter="url(#bl10)"/>
<rect x="180.0" y="489.7" width="12.3" height="11.3" rx="2.0" fill="#a5a5a5" opacity="0.7" filter="url(#bl10)"/>
<rect x="197.0" y="489.7" width="11.2" height="11.3" rx="2.0" fill="#aaa" opacity="0.6" filter="url(#bl10)"/>
<rect x="215.7" y="490.5" width="12.2" height="9.0" rx="2.0" fill="#999" opacity="0.75" filter="url(#bl10)"/>
<rect x="69.3" y="523.3" width="13.5" height="5.9" rx="2.0" fill="#000" opacity="1.0" filter="url(#bl6)"/>
<rect x="88.1" y="523.3" width="14.4" height="5.7" rx="2.0" fill="#000" opacity="1.0" filter="url(#bl6)"/>
<rect x="107.8" y="523.3" width="14.1" height="5.7" rx="2.0" fill="#000" opacity="1.0" filter="url(#bl6)"/>
<rect x="127.5" y="522.8" width="13.9" height="5.7" rx="2.0" fill="#000" opacity="1.0" filter="url(#bl6)"/>
<rect x="159.4" y="522.2" width="16.4" height="7.5" rx="2.0" fill="#000" opacity="1.0" filter="url(#bl6)"/>
<rect x="179.1" y="522.5" width="14.1" height="6.0" rx="2.0" fill="#000" opacity="1.0" filter="url(#bl6)"/>
<rect x="197.0" y="522.2" width="14.0" height="5.6" rx="2.0" fill="#000" opacity="1.0" filter="url(#bl6)"/>
<rect x="215.4" y="519.7" width="13.5" height="6.6" rx="2.0" fill="#000" opacity="1.0" filter="url(#bl6)"/>
<text x="362.2" y="376.6" font-size="8.3" text-anchor="middle" font-weight="bold" font-family="'Liberation Serif','Times New Roman',serif" fill="#000" >HCT116</text>
<line x1="260.6" y1="384.55" x2="260.6" y2="438.3" stroke="#000" stroke-width="0.9" />
<line x1="260.20000000000005" y1="437.8" x2="464.1" y2="437.8" stroke="#000" stroke-width="0.9" />
<line x1="258.6" y1="437.8" x2="260.6" y2="437.8" stroke="#000" stroke-width="0.8" />
<text x="258.20000000000005" y="439.6" font-size="5.2" text-anchor="end" font-weight="bold" font-family="'Liberation Serif','Times New Roman',serif" fill="#000" >0.0</text>
<line x1="258.6" y1="427.15000000000003" x2="260.6" y2="427.15000000000003" stroke="#000" stroke-width="0.8" />
<text x="258.20000000000005" y="428.95000000000005" font-size="5.2" text-anchor="end" font-weight="bold" font-family="'Liberation Serif','Times New Roman',serif" fill="#000" >0.5</text>
<line x1="258.6" y1="416.5" x2="260.6" y2="416.5" stroke="#000" stroke-width="0.8" />
<text x="258.20000000000005" y="418.3" font-size="5.2" text-anchor="end" font-weight="bold" font-family="'Liberation Serif','Times New Roman',serif" fill="#000" >1.0</text>
<line x1="258.6" y1="405.85" x2="260.6" y2="405.85" stroke="#000" stroke-width="0.8" />
<text x="258.20000000000005" y="407.65000000000003" font-size="5.2" text-anchor="end" font-weight="bold" font-family="'Liberation Serif','Times New Roman',serif" fill="#000" >1.5</text>
<line x1="258.6" y1="395.2" x2="260.6" y2="395.2" stroke="#000" stroke-width="0.8" />
<text x="258.20000000000005" y="397.0" font-size="5.2" text-anchor="end" font-weight="bold" font-family="'Liberation Serif','Times New Roman',serif" fill="#000" >2.0</text>
<line x1="258.6" y1="384.55" x2="260.6" y2="384.55" stroke="#000" stroke-width="0.8" />
<text x="258.20000000000005" y="386.35" font-size="5.2" text-anchor="end" font-weight="bold" font-family="'Liberation Serif','Times New Roman',serif" fill="#000" >2.5</text>
<rect x="266.00" y="416.50" width="7.60" height="21.30" fill="#fff" stroke="#000" stroke-width="0.9" />
<text x="269.8" y="443.7" font-size="5.2" text-anchor="middle" font-weight="bold" font-family="'Liberation Serif','Times New Roman',serif" fill="#000" >0</text>
<line x1="280.6" y1="416.5" x2="280.6" y2="413.731" stroke="#000" stroke-width="0.8" />
<line x1="278.0" y1="413.731" x2="283.20000000000005" y2="413.731" stroke="#000" stroke-width="0.8" />
<rect x="276.80" y="416.50" width="7.60" height="21.30" fill="#fff" stroke="#000" stroke-width="0.9" />
<text x="280.6" y="443.7" font-size="5.2" text-anchor="middle" font-weight="bold" font-family="'Liberation Serif','Times New Roman',serif" fill="#000" >0.5</text>
<line x1="291.40000000000003" y1="406.915" x2="291.40000000000003" y2="404.785" stroke="#000" stroke-width="0.8" />
<line x1="288.8" y1="404.785" x2="294.00000000000006" y2="404.785" stroke="#000" stroke-width="0.8" />
<rect x="287.60" y="406.92" width="7.60" height="30.88" fill="#fff" stroke="#000" stroke-width="0.9" />
<text x="291.40000000000003" y="443.7" font-size="5.2" text-anchor="middle" font-weight="bold" font-family="'Liberation Serif','Times New Roman',serif" fill="#000" >1</text>
<text x="291.40000000000003" y="403.985" font-size="5" text-anchor="middle" font-weight="bold" font-family="'Liberation Serif','Times New Roman',serif" fill="#000" >**</text>
<line x1="302.20000000000005" y1="404.146" x2="302.20000000000005" y2="402.016" stroke="#000" stroke-width="0.8" />
<line x1="299.6" y1="402.016" x2="304.80000000000007" y2="402.016" stroke="#000" stroke-width="0.8" />
<rect x="298.40" y="404.15" width="7.60" height="33.65" fill="#fff" stroke="#000" stroke-width="0.9" />
<text x="302.20000000000005" y="443.7" font-size="5.2" text-anchor="middle" font-weight="bold" font-family="'Liberation Serif','Times New Roman',serif" fill="#000" >2</text>
<text x="302.20000000000005" y="401.216" font-size="5" text-anchor="middle" font-weight="bold" font-family="'Liberation Serif','Times New Roman',serif" fill="#000" >**</text>
<rect x="316.75" y="416.50" width="7.60" height="21.30" fill="#d4d4d4" stroke="#000" stroke-width="0.9" />
<text x="320.55" y="443.7" font-size="5.2" text-anchor="middle" font-weight="bold" font-family="'Liberation Serif','Times New Roman',serif" fill="#000" >0</text>
<line x1="331.35" y1="416.926" x2="331.35" y2="416.287" stroke="#000" stroke-width="0.8" />
<line x1="328.75" y1="416.287" x2="333.95000000000005" y2="416.287" stroke="#000" stroke-width="0.8" />
<rect x="327.55" y="416.93" width="7.60" height="20.87" fill="#d4d4d4" stroke="#000" stroke-width="0.9" />
<text x="331.35" y="443.7" font-size="5.2" text-anchor="middle" font-weight="bold" font-family="'Liberation Serif','Times New Roman',serif" fill="#000" >0.5</text>
<line x1="342.15000000000003" y1="427.789" x2="342.15000000000003" y2="426.724" stroke="#000" stroke-width="0.8" />
<line x1="339.55" y1="426.724" x2="344.75000000000006" y2="426.724" stroke="#000" stroke-width="0.8" />
<rect x="338.35" y="427.79" width="7.60" height="10.01" fill="#d4d4d4" stroke="#000" stroke-width="0.9" />
<text x="342.15000000000003" y="443.7" font-size="5.2" text-anchor="middle" font-weight="bold" font-family="'Liberation Serif','Times New Roman',serif" fill="#000" >1</text>
<text x="342.15000000000003" y="425.924" font-size="5" text-anchor="middle" font-weight="bold" font-family="'Liberation Serif','Times New Roman',serif" fill="#000" >**</text>
<line x1="352.95000000000005" y1="429.28000000000003" x2="352.95000000000005" y2="428.21500000000003" stroke="#000" stroke-width="0.8" />
<line x1="350.35" y1="428.21500000000003" x2="355.55000000000007" y2="428.21500000000003" stroke="#000" stroke-width="0.8" />
<rect x="349.15" y="429.28" width="7.60" height="8.52" fill="#d4d4d4" stroke="#000" stroke-width="0.9" />
<text x="352.95000000000005" y="443.7" font-size="5.2" text-anchor="middle" font-weight="bold" font-family="'Liberation Serif','Times New Roman',serif" fill="#000" >2</text>
<text x="352.95000000000005" y="427.415" font-size="5" text-anchor="middle" font-weight="bold" font-family="'Liberation Serif','Times New Roman',serif" fill="#000" >**</text>
<rect x="367.50" y="416.50" width="7.60" height="21.30" fill="#000" stroke="#000" stroke-width="0.9" />
<text x="371.3" y="443.7" font-size="5.2" text-anchor="middle" font-weight="bold" font-family="'Liberation Serif','Times New Roman',serif" fill="#000" >0</text>
<line x1="382.1" y1="417.139" x2="382.1" y2="416.28700000000003" stroke="#000" stroke-width="0.8" />
<line x1="379.5" y1="416.28700000000003" x2="384.70000000000005" y2="416.28700000000003" stroke="#000" stroke-width="0.8" />
<rect x="378.30" y="417.14" width="7.60" height="20.66" fill="#000" stroke="#000" stroke-width="0.9" />
<text x="382.1" y="443.7" font-size="5.2" text-anchor="middle" font-weight="bold" font-family="'Liberation Serif','Times New Roman',serif" fill="#000" >0.5</text>
<line x1="392.90000000000003" y1="425.659" x2="392.90000000000003" y2="424.594" stroke="#000" stroke-width="0.8" />
<line x1="390.3" y1="424.594" x2="395.50000000000006" y2="424.594" stroke="#000" stroke-width="0.8" />
<rect x="389.10" y="425.66" width="7.60" height="12.14" fill="#000" stroke="#000" stroke-width="0.9" />
<text x="392.90000000000003" y="443.7" font-size="5.2" text-anchor="middle" font-weight="bold" font-family="'Liberation Serif','Times New Roman',serif" fill="#000" >1</text>
<text x="392.90000000000003" y="423.794" font-size="5" text-anchor="middle" font-weight="bold" font-family="'Liberation Serif','Times New Roman',serif" fill="#000" >**</text>
<line x1="403.70000000000005" y1="425.02000000000004" x2="403.70000000000005" y2="423.52900000000005" stroke="#000" stroke-width="0.8" />
<line x1="401.1" y1="423.52900000000005" x2="406.30000000000007" y2="423.52900000000005" stroke="#000" stroke-width="0.8" />
<rect x="399.90" y="425.02" width="7.60" height="12.78" fill="#000" stroke="#000" stroke-width="0.9" />
<text x="403.70000000000005" y="443.7" font-size="5.2" text-anchor="middle" font-weight="bold" font-family="'Liberation Serif','Times New Roman',serif" fill="#000" >2</text>
<text x="403.70000000000005" y="422.72900000000004" font-size="5" text-anchor="middle" font-weight="bold" font-family="'Liberation Serif','Times New Roman',serif" fill="#000" >**</text>
<rect x="418.25" y="416.50" width="7.60" height="21.30" fill="#000" stroke="#000" stroke-width="0.9" />
<text x="422.05" y="443.7" font-size="5.2" text-anchor="middle" font-weight="bold" font-family="'Liberation Serif','Times New Roman',serif" fill="#000" >0</text>
<line x1="432.85" y1="403.081" x2="432.85" y2="401.59000000000003" stroke="#000" stroke-width="0.8" />
<line x1="430.25" y1="401.59000000000003" x2="435.45000000000005" y2="401.59000000000003" stroke="#000" stroke-width="0.8" />
<rect x="429.05" y="403.08" width="7.60" height="34.72" fill="#000" stroke="#000" stroke-width="0.9" />
<text x="432.85" y="443.7" font-size="5.2" text-anchor="middle" font-weight="bold" font-family="'Liberation Serif','Times New Roman',serif" fill="#000" >0.5</text>
<text x="432.85" y="400.79" font-size="5" text-anchor="middle" font-weight="bold" font-family="'Liberation Serif','Times New Roman',serif" fill="#000" >**</text>
<line x1="443.65000000000003" y1="405.211" x2="443.65000000000003" y2="403.507" stroke="#000" stroke-width="0.8" />
<line x1="441.05" y1="403.507" x2="446.25000000000006" y2="403.507" stroke="#000" stroke-width="0.8" />
<rect x="439.85" y="405.21" width="7.60" height="32.59" fill="#000" stroke="#000" stroke-width="0.9" />
<text x="443.65000000000003" y="443.7" font-size="5.2" text-anchor="middle" font-weight="bold" font-family="'Liberation Serif','Times New Roman',serif" fill="#000" >1</text>
<text x="443.65000000000003" y="402.707" font-size="5" text-anchor="middle" font-weight="bold" font-family="'Liberation Serif','Times New Roman',serif" fill="#000" >**</text>
<line x1="454.45000000000005" y1="399.46000000000004" x2="454.45000000000005" y2="398.182" stroke="#000" stroke-width="0.8" />
<line x1="451.85" y1="398.182" x2="457.05000000000007" y2="398.182" stroke="#000" stroke-width="0.8" />
<rect x="450.65" y="399.46" width="7.60" height="38.34" fill="#000" stroke="#000" stroke-width="0.9" />
<text x="454.45000000000005" y="443.7" font-size="5.2" text-anchor="middle" font-weight="bold" font-family="'Liberation Serif','Times New Roman',serif" fill="#000" >2</text>
<text x="454.45000000000005" y="397.382" font-size="5" text-anchor="middle" font-weight="bold" font-family="'Liberation Serif','Times New Roman',serif" fill="#000" >**</text>
<text x="362.4" y="454.5" font-size="7.4" text-anchor="middle" font-weight="bold" font-family="'Liberation Serif','Times New Roman',serif" fill="#000" >Concentration (μM)</text>
<text transform="translate(248.40000000000003,410.6) rotate(-90)" font-size="5.9" text-anchor="middle" font-weight="bold" font-family="'Liberation Serif','Times New Roman',serif">Relative expression level</text>
<rect x="267.00" y="382.50" width="6.30" height="3.40" fill="#fff" stroke="#000" stroke-width="0.8" />
<text x="275.9" y="385.9" font-size="5.5" text-anchor="start" font-weight="bold" font-family="'Liberation Serif','Times New Roman',serif" fill="#000" >Cleaved-PARP</text>
<rect x="317.20" y="382.50" width="6.30" height="3.40" fill="#d4d4d4" stroke="#000" stroke-width="0.8" />
<text x="326.3" y="385.9" font-size="5.5" text-anchor="start" font-weight="bold" font-family="'Liberation Serif','Times New Roman',serif" fill="#000" >Bcl-XL</text>
<rect x="366.30" y="382.50" width="6.30" height="3.40" fill="#000" stroke="#000" stroke-width="0.8" />
<text x="375.4" y="385.9" font-size="5.5" text-anchor="start" font-weight="bold" font-family="'Liberation Serif','Times New Roman',serif" fill="#000" >Mcl-1</text>
<rect x="408.40" y="382.50" width="6.30" height="3.40" fill="#000" stroke="#000" stroke-width="0.8" />
<text x="418" y="385.9" font-size="5.5" text-anchor="start" font-weight="bold" font-family="'Liberation Serif','Times New Roman',serif" fill="#000" >Cleaved-Caspase3</text>
<text x="359.4" y="468.6" font-size="8.3" text-anchor="middle" font-weight="bold" font-family="'Liberation Serif','Times New Roman',serif" fill="#000" >SW620</text>
<line x1="256.3" y1="475.3" x2="256.3" y2="530.1" stroke="#000" stroke-width="0.9" />
<line x1="255.9" y1="529.6" x2="459.8" y2="529.6" stroke="#000" stroke-width="0.9" />
<line x1="254.3" y1="529.6" x2="256.3" y2="529.6" stroke="#000" stroke-width="0.8" />
<text x="253.9" y="531.4" font-size="5.2" text-anchor="end" font-weight="bold" font-family="'Liberation Serif','Times New Roman',serif" fill="#000" >0</text>
<line x1="254.3" y1="511.5" x2="256.3" y2="511.5" stroke="#000" stroke-width="0.8" />
<text x="253.9" y="513.3" font-size="5.2" text-anchor="end" font-weight="bold" font-family="'Liberation Serif','Times New Roman',serif" fill="#000" >1</text>
<line x1="254.3" y1="493.40000000000003" x2="256.3" y2="493.40000000000003" stroke="#000" stroke-width="0.8" />
<text x="253.9" y="495.20000000000005" font-size="5.2" text-anchor="end" font-weight="bold" font-family="'Liberation Serif','Times New Roman',serif" fill="#000" >2</text>
<line x1="254.3" y1="475.3" x2="256.3" y2="475.3" stroke="#000" stroke-width="0.8" />
<text x="253.9" y="477.1" font-size="5.2" text-anchor="end" font-weight="bold" font-family="'Liberation Serif','Times New Roman',serif" fill="#000" >3</text>
<rect x="261.00" y="511.50" width="7.60" height="18.10" fill="#fff" stroke="#000" stroke-width="0.9" />
<text x="264.8" y="536.2" font-size="5.2" text-anchor="middle" font-weight="bold" font-family="'Liberation Serif','Times New Roman',serif" fill="#000" >0</text>
<line x1="275.85" y1="511.5" x2="275.85" y2="509.69" stroke="#000" stroke-width="0.8" />
<line x1="273.25" y1="509.69" x2="278.45000000000005" y2="509.69" stroke="#000" stroke-width="0.8" />
<rect x="272.05" y="511.50" width="7.60" height="18.10" fill="#fff" stroke="#000" stroke-width="0.9" />
<text x="275.85" y="536.2" font-size="5.2" text-anchor="middle" font-weight="bold" font-family="'Liberation Serif','Times New Roman',serif" fill="#000" >0.5</text>
<line x1="286.90000000000003" y1="507.88" x2="286.90000000000003" y2="506.07" stroke="#000" stroke-width="0.8" />
<line x1="284.3" y1="506.07" x2="289.50000000000006" y2="506.07" stroke="#000" stroke-width="0.8" />
<rect x="283.10" y="507.88" width="7.60" height="21.72" fill="#fff" stroke="#000" stroke-width="0.9" />
<text x="286.90000000000003" y="536.2" font-size="5.2" text-anchor="middle" font-weight="bold" font-family="'Liberation Serif','Times New Roman',serif" fill="#000" >1</text>
<text x="286.90000000000003" y="505.27" font-size="5" text-anchor="middle" font-weight="bold" font-family="'Liberation Serif','Times New Roman',serif" fill="#000" >*</text>
<line x1="297.95000000000005" y1="501.002" x2="297.95000000000005" y2="499.916" stroke="#000" stroke-width="0.8" />
<line x1="295.35" y1="499.916" x2="300.55000000000007" y2="499.916" stroke="#000" stroke-width="0.8" />
<rect x="294.15" y="501.00" width="7.60" height="28.60" fill="#fff" stroke="#000" stroke-width="0.9" />
<text x="297.95000000000005" y="536.2" font-size="5.2" text-anchor="middle" font-weight="bold" font-family="'Liberation Serif','Times New Roman',serif" fill="#000" >2</text>
<text x="297.95000000000005" y="499.116" font-size="5" text-anchor="middle" font-weight="bold" font-family="'Liberation Serif','Times New Roman',serif" fill="#000" >**</text>
<rect x="312.50" y="511.50" width="7.60" height="18.10" fill="#d4d4d4" stroke="#000" stroke-width="0.9" />
<text x="316.3" y="536.2" font-size="5.2" text-anchor="middle" font-weight="bold" font-family="'Liberation Serif','Times New Roman',serif" fill="#000" >0</text>
<line x1="327.35" y1="511.862" x2="327.35" y2="511.319" stroke="#000" stroke-width="0.8" />
<line x1="324.75" y1="511.319" x2="329.95000000000005" y2="511.319" stroke="#000" stroke-width="0.8" />
<rect x="323.55" y="511.86" width="7.60" height="17.74" fill="#d4d4d4" stroke="#000" stroke-width="0.9" />
<text x="327.35" y="536.2" font-size="5.2" text-anchor="middle" font-weight="bold" font-family="'Liberation Serif','Times New Roman',serif" fill="#000" >0.5</text>
<line x1="338.40000000000003" y1="512.767" x2="338.40000000000003" y2="512.224" stroke="#000" stroke-width="0.8" />
<line x1="335.8" y1="512.224" x2="341.00000000000006" y2="512.224" stroke="#000" stroke-width="0.8" />
<rect x="334.60" y="512.77" width="7.60" height="16.83" fill="#d4d4d4" stroke="#000" stroke-width="0.9" />
<text x="338.40000000000003" y="536.2" font-size="5.2" text-anchor="middle" font-weight="bold" font-family="'Liberation Serif','Times New Roman',serif" fill="#000" >1</text>
<line x1="349.45000000000005" y1="517.835" x2="349.45000000000005" y2="517.111" stroke="#000" stroke-width="0.8" />
<line x1="346.85" y1="517.111" x2="352.05000000000007" y2="517.111" stroke="#000" stroke-width="0.8" />
<rect x="345.65" y="517.84" width="7.60" height="11.76" fill="#d4d4d4" stroke="#000" stroke-width="0.9" />
<text x="349.45000000000005" y="536.2" font-size="5.2" text-anchor="middle" font-weight="bold" font-family="'Liberation Serif','Times New Roman',serif" fill="#000" >2</text>
<text x="349.45000000000005" y="516.311" font-size="5" text-anchor="middle" font-weight="bold" font-family="'Liberation Serif','Times New Roman',serif" fill="#000" >**</text>
<rect x="364.00" y="511.50" width="7.60" height="18.10" fill="#7a7a7a" stroke="#000" stroke-width="0.9" />
<text x="367.8" y="536.2" font-size="5.2" text-anchor="middle" font-weight="bold" font-family="'Liberation Serif','Times New Roman',serif" fill="#000" >0</text>
<line x1="378.85" y1="512.043" x2="378.85" y2="511.681" stroke="#000" stroke-width="0.8" />
<line x1="376.25" y1="511.681" x2="381.45000000000005" y2="511.681" stroke="#000" stroke-width="0.8" />
<rect x="375.05" y="512.04" width="7.60" height="17.56" fill="#7a7a7a" stroke="#000" stroke-width="0.9" />
<text x="378.85" y="536.2" font-size="5.2" text-anchor="middle" font-weight="bold" font-family="'Liberation Serif','Times New Roman',serif" fill="#000" >0.5</text>
<line x1="389.90000000000003" y1="514.215" x2="389.90000000000003" y2="513.491" stroke="#000" stroke-width="0.8" />
<line x1="387.3" y1="513.491" x2="392.50000000000006" y2="513.491" stroke="#000" stroke-width="0.8" />
<rect x="386.10" y="514.22" width="7.60" height="15.38" fill="#7a7a7a" stroke="#000" stroke-width="0.9" />
<text x="389.90000000000003" y="536.2" font-size="5.2" text-anchor="middle" font-weight="bold" font-family="'Liberation Serif','Times New Roman',serif" fill="#000" >1</text>
<text x="389.90000000000003" y="512.691" font-size="5" text-anchor="middle" font-weight="bold" font-family="'Liberation Serif','Times New Roman',serif" fill="#000" >**</text>
<line x1="400.95000000000005" y1="518.378" x2="400.95000000000005" y2="517.654" stroke="#000" stroke-width="0.8" />
<line x1="398.35" y1="517.654" x2="403.55000000000007" y2="517.654" stroke="#000" stroke-width="0.8" />
<rect x="397.15" y="518.38" width="7.60" height="11.22" fill="#7a7a7a" stroke="#000" stroke-width="0.9" />
<text x="400.95000000000005" y="536.2" font-size="5.2" text-anchor="middle" font-weight="bold" font-family="'Liberation Serif','Times New Roman',serif" fill="#000" >2</text>
<text x="400.95000000000005" y="516.854" font-size="5" text-anchor="middle" font-weight="bold" font-family="'Liberation Serif','Times New Roman',serif" fill="#000" >**</text>
<rect x="415.50" y="511.50" width="7.60" height="18.10" fill="#000" stroke="#000" stroke-width="0.9" />
<text x="419.3" y="536.2" font-size="5.2" text-anchor="middle" font-weight="bold" font-family="'Liberation Serif','Times New Roman',serif" fill="#000" >0</text>
<line x1="430.35" y1="503.898" x2="430.35" y2="503.17400000000004" stroke="#000" stroke-width="0.8" />
<line x1="427.75" y1="503.17400000000004" x2="432.95000000000005" y2="503.17400000000004" stroke="#000" stroke-width="0.8" />
<rect x="426.55" y="503.90" width="7.60" height="25.70" fill="#000" stroke="#000" stroke-width="0.9" />
<text x="430.35" y="536.2" font-size="5.2" text-anchor="middle" font-weight="bold" font-family="'Liberation Serif','Times New Roman',serif" fill="#000" >0.5</text>
<text x="430.35" y="502.374" font-size="5" text-anchor="middle" font-weight="bold" font-family="'Liberation Serif','Times New Roman',serif" fill="#000" >**</text>
<line x1="441.40000000000003" y1="505.708" x2="441.40000000000003" y2="504.80300000000005" stroke="#000" stroke-width="0.8" />
<line x1="438.8" y1="504.80300000000005" x2="444.00000000000006" y2="504.80300000000005" stroke="#000" stroke-width="0.8" />
<rect x="437.60" y="505.71" width="7.60" height="23.89" fill="#000" stroke="#000" stroke-width="0.9" />
<text x="441.40000000000003" y="536.2" font-size="5.2" text-anchor="middle" font-weight="bold" font-family="'Liberation Serif','Times New Roman',serif" fill="#000" >1</text>
<text x="441.40000000000003" y="504.00300000000004" font-size="5" text-anchor="middle" font-weight="bold" font-family="'Liberation Serif','Times New Roman',serif" fill="#000" >**</text>
<line x1="452.45000000000005" y1="490.685" x2="452.45000000000005" y2="487.608" stroke="#000" stroke-width="0.8" />
<line x1="449.85" y1="487.608" x2="455.05000000000007" y2="487.608" stroke="#000" stroke-width="0.8" />
<rect x="448.65" y="490.69" width="7.60" height="38.92" fill="#000" stroke="#000" stroke-width="0.9" />
<text x="452.45000000000005" y="536.2" font-size="5.2" text-anchor="middle" font-weight="bold" font-family="'Liberation Serif','Times New Roman',serif" fill="#000" >2</text>
<text x="452.45000000000005" y="486.808" font-size="5" text-anchor="middle" font-weight="bold" font-family="'Liberation Serif','Times New Roman',serif" fill="#000" >**</text>
<text x="358.9" y="545.3" font-size="7.4" text-anchor="middle" font-weight="bold" font-family="'Liberation Serif','Times New Roman',serif" fill="#000" >Concentration (μM)</text>
<text transform="translate(244.10000000000002,502.1) rotate(-90)" font-size="5.9" text-anchor="middle" font-weight="bold" font-family="'Liberation Serif','Times New Roman',serif">Relative expression level</text>
<rect x="261.50" y="473.90" width="6.30" height="3.40" fill="#fff" stroke="#000" stroke-width="0.8" />
<text x="270.8" y="477.29999999999995" font-size="5.5" text-anchor="start" font-weight="bold" font-family="'Liberation Serif','Times New Roman',serif" fill="#000" >Cleaved-PARP</text>
<rect x="313.80" y="473.90" width="6.30" height="3.40" fill="#d4d4d4" stroke="#000" stroke-width="0.8" />
<text x="323.1" y="477.29999999999995" font-size="5.5" text-anchor="start" font-weight="bold" font-family="'Liberation Serif','Times New Roman',serif" fill="#000" >Bcl-XL</text>
<rect x="364.60" y="473.90" width="6.30" height="3.40" fill="#7a7a7a" stroke="#000" stroke-width="0.8" />
<text x="374.3" y="477.29999999999995" font-size="5.5" text-anchor="start" font-weight="bold" font-family="'Liberation Serif','Times New Roman',serif" fill="#000" >Mcl-1</text>
<rect x="408.40" y="473.90" width="6.30" height="3.40" fill="#000" stroke="#000" stroke-width="0.8" />
<text x="418" y="477.29999999999995" font-size="5.5" text-anchor="start" font-weight="bold" font-family="'Liberation Serif','Times New Roman',serif" fill="#000" >Cleaved-Caspase3</text>
</svg>
</body></html>
